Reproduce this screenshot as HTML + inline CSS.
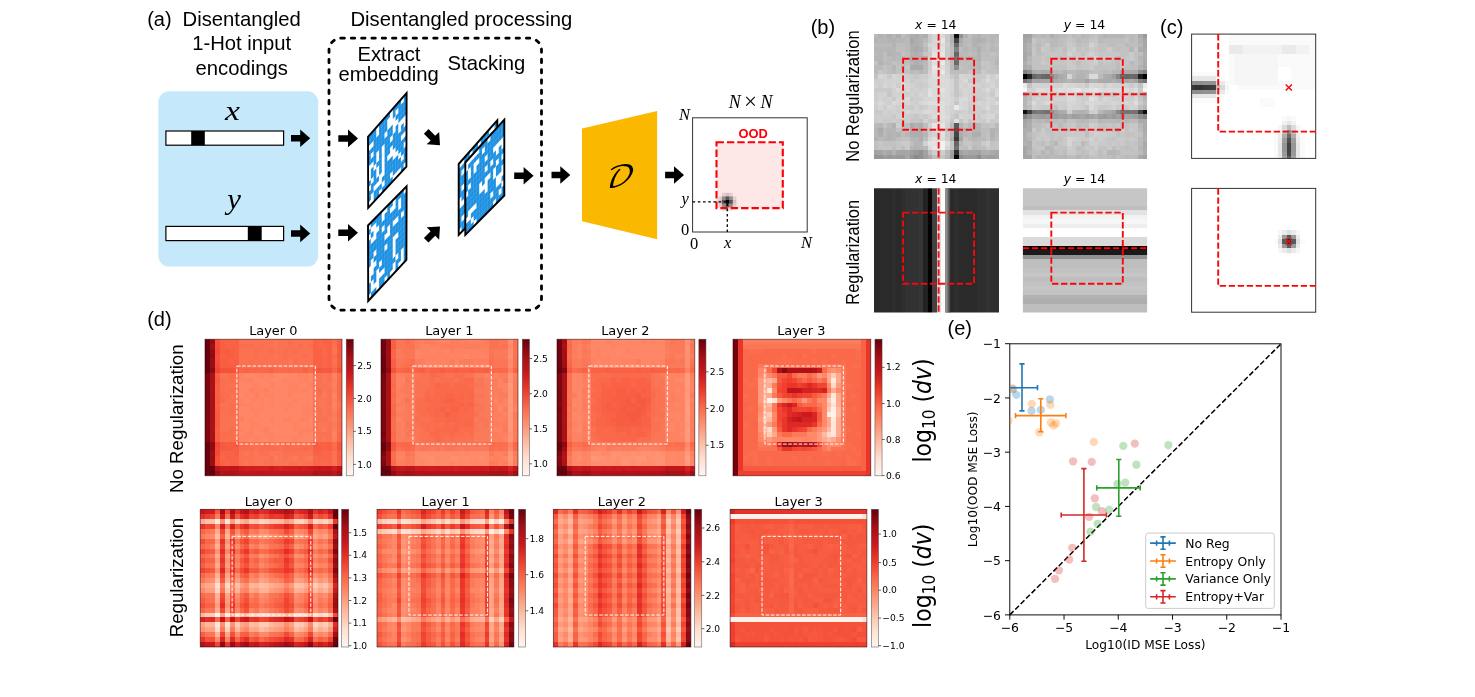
<!DOCTYPE html>
<html lang="en"><head><meta charset="utf-8"><title>Figure</title>
<style>html,body{margin:0;padding:0;background:#fff}svg{display:block}.a{font-family:"Liberation Sans",Arial,sans-serif}.d{font-family:"DejaVu Sans",sans-serif}.t{font-family:"Liberation Serif","Times New Roman",serif}text{fill:#000}</style></head><body>
<svg width="1475" height="697" viewBox="0 0 1475 697">
<rect width="1475" height="697" fill="#fff"/>
<defs><filter id="bl" x="-5%" y="-5%" width="110%" height="110%" color-interpolation-filters="sRGB"><feGaussianBlur stdDeviation="0.5"/></filter></defs>
<text class="a" x="147.2" y="26.1" font-size="20">(a)</text>
<text class="a" x="241.7" y="26.1" font-size="20.25" text-anchor="middle">Disentangled</text>
<text class="a" x="241.7" y="50.2" font-size="20.25" text-anchor="middle">1-Hot input</text>
<text class="a" x="241.7" y="74.6" font-size="20.25" text-anchor="middle">encodings</text>
<text class="a" x="350.5" y="25.8" font-size="20.25">Disentangled processing</text>
<text class="a" x="388.9" y="60.9" font-size="20.25" text-anchor="middle">Extract</text>
<text class="a" x="388.7" y="80.6" font-size="20.25" text-anchor="middle">embedding</text>
<text class="a" x="486.4" y="69.7" font-size="20.25" text-anchor="middle">Stacking</text>
<rect x="158.3" y="91.2" width="159.9" height="175.4" rx="11" fill="#c5e9fb"/>
<rect x="165.9" y="131" width="117.7" height="14.2" fill="#fff" stroke="#000" stroke-width="1.2"/>
<rect x="191.2" y="131" width="13.6" height="14.2" fill="#000"/>
<rect x="165.9" y="226.4" width="117.7" height="14.2" fill="#fff" stroke="#000" stroke-width="1.2"/>
<rect x="247.8" y="226.4" width="13.9" height="14.2" fill="#000"/>
<text class="t" transform="translate(232.4,119.5) scale(1.25,1)" font-size="27" text-anchor="middle" font-style="italic">x</text>
<text class="t" transform="translate(234.2,209) scale(1.08,1)" font-size="28.5" text-anchor="middle" font-style="italic">y</text>
<polygon points="291,135.05 300.2,135.05 300.2,129.5 310.2,138.3 300.2,147.1 300.2,141.55 291,141.55"/>
<polygon points="291,230.15 300.2,230.15 300.2,224.6 310.2,233.4 300.2,242.2 300.2,236.65 291,236.65"/>
<rect x="329" y="38.2" width="212.5" height="272" rx="12" fill="none" stroke="#000" stroke-width="2.8" stroke-linecap="round" stroke-dasharray="3.4 6.9"/>
<polygon points="338.3,135.15 348,135.15 348,129.6 358,138.4 348,147.2 348,141.65 338.3,141.65"/>
<polygon points="338.3,229.55 348,229.55 348,224 358,232.8 348,241.6 348,236.05 338.3,236.05"/>
<g transform="translate(433.1,138.3) rotate(45)">
<polygon points="-9.75,-3.25 -0.25,-3.25 -0.25,-8.8 9.75,0 -0.25,8.8 -0.25,3.25 -9.75,3.25"/>
</g>
<g transform="translate(433.1,233.3) rotate(-45)">
<polygon points="-9.75,-3.25 -0.25,-3.25 -0.25,-8.8 9.75,0 -0.25,8.8 -0.25,3.25 -9.75,3.25"/>
</g>
<polygon points="514.2,172.45 523.6,172.45 523.6,166.9 533.6,175.7 523.6,184.5 523.6,178.95 514.2,178.95"/>
<polygon points="551.5,171.75 560.3,171.75 560.3,166.2 570.3,175 560.3,183.8 560.3,178.25 551.5,178.25"/>
<polygon points="665.1,171.75 674,171.75 674,166.2 684,175 674,183.8 674,178.25 665.1,178.25"/>
<polygon points="368,136.9 406.6,93.1 406.4,166.6 368.2,207.8" fill="#1b8fe2"/>
<path d="M368.03 147.03L370.78 143.93L370.79 149L368.04 152.09zM368.09 167.29L370.83 164.24L370.87 179.47L368.13 182.48zM368.14 187.54L370.88 184.55L370.89 189.62L368.16 192.61zM368.19 202.74L370.92 199.78L370.93 204.86L368.2 207.8zM370.78 143.93L373.53 140.82L373.54 145.92L370.79 149zM370.81 154.08L373.56 151.01L373.57 156.1L370.82 159.16zM370.83 164.24L373.58 161.19L373.59 166.28L370.84 169.31zM370.87 179.47L373.61 176.46L373.62 181.55L370.88 184.55zM370.9 194.7L373.64 191.73L373.66 201.91L370.93 204.86zM373.59 166.28L376.33 163.24L376.34 168.35L373.6 171.37zM373.63 186.64L376.36 183.66L376.37 188.76L373.64 191.73zM376.27 127.51L379.03 124.39L379.04 134.62L376.29 137.72zM376.31 153.03L379.06 149.97L379.07 160.21L376.33 163.24zM376.34 168.35L379.08 165.32L379.09 175.56L376.35 178.56zM376.36 183.66L379.1 180.68L379.1 185.79L376.37 188.76zM379.09 175.56L381.83 172.56L381.83 182.82L379.1 185.79zM379.11 190.91L381.84 187.96L381.84 193.09L379.11 196.03zM381.81 146.91L384.55 143.85L384.57 174.71L381.83 177.69zM381.83 182.82L384.57 179.86L384.57 185L381.84 187.96zM384.55 133.56L387.3 130.47L387.3 135.63L384.55 138.7zM387.3 120.16L390.06 117.04L390.05 127.38L387.3 130.47zM387.3 156.26L390.04 153.23L390.04 158.41L387.3 161.41zM390.06 111.87L392.81 108.74L392.8 124.29L390.05 127.38zM390.05 137.72L392.79 134.66L392.79 139.84L390.04 142.89zM390.04 148.06L392.79 145.03L392.78 155.4L390.04 158.41zM390.03 173.92L392.77 170.95L392.76 176.13L390.03 179.09zM392.81 119.11L395.56 116.01L395.54 131.6L392.79 134.66zM392.78 150.21L395.52 147.19L395.51 157.58L392.77 160.58zM392.76 176.13L395.49 173.17L395.49 178.37L392.76 181.31zM395.57 110.81L398.32 107.7L398.31 112.91L395.56 116.01zM395.55 121.21L398.3 118.12L398.3 123.33L395.55 126.4zM395.52 152.39L398.26 149.38L398.25 154.59L395.51 157.58zM395.49 173.17L398.22 170.22L398.21 175.43L395.49 178.37zM398.3 123.33L401.04 120.25L401.02 130.7L398.28 133.75zM398.25 154.59L400.98 151.59L400.97 156.82L398.24 159.8zM398.22 170.22L400.95 167.26L400.94 172.49L398.21 175.43zM401.09 99.36L403.84 96.23L403.83 101.47L401.08 104.58zM401.04 120.25L403.79 117.18L403.78 122.41L401.03 125.47zM401.01 135.92L403.76 132.89L403.74 138.12L401 141.14zM400.97 156.82L403.71 153.83L403.7 159.07L400.96 162.04zM403.79 117.18L406.54 114.1L406.51 124.6L403.77 127.65zM403.76 132.89L406.5 129.85L406.49 135.1L403.74 138.12zM403.73 143.36L406.47 140.35L406.46 145.6L403.72 148.6zM403.68 164.31L406.41 161.35L406.4 166.6L403.67 169.54z" fill="#fff"/>
<path d="M370.76 133.77L370.93 204.86M368.01 141.96L406.59 98.35M373.51 130.64L373.66 201.91M368.03 147.03L406.57 103.6M376.27 127.51L376.39 198.97M368.04 152.09L406.56 108.85M379.03 124.39L379.11 196.03M368.06 157.16L406.54 114.1M381.79 121.26L381.84 193.09M368.07 162.22L406.53 119.35M384.54 118.13L384.57 190.14M368.09 167.29L406.51 124.6M387.3 115L387.3 187.2M368.1 172.35L406.5 129.85M390.06 111.87L390.03 184.26M368.11 177.41L406.49 135.1M392.81 108.74L392.76 181.31M368.13 182.48L406.47 140.35M395.57 105.61L395.49 178.37M368.14 187.54L406.46 145.6M398.33 102.49L398.21 175.43M368.16 192.61L406.44 150.85M401.09 99.36L400.94 172.49M368.17 197.67L406.43 156.1M403.84 96.23L403.67 169.54M368.19 202.74L406.41 161.35" stroke="#fff" stroke-opacity="0.22" stroke-width="0.5" fill="none"/>
<polygon points="368,136.9 406.6,93.1 406.4,166.6 368.2,207.8" fill="none" stroke="#000" stroke-width="1.9" stroke-linejoin="miter"/>
<polygon points="368,225.5 406.6,186.3 406.4,259.9 368.2,301" fill="#1b8fe2"/>
<path d="M368 225.5L370.76 222.7L370.77 228.08L368.01 230.89zM368.03 236.29L370.78 233.47L370.79 238.85L368.04 241.68zM368.11 268.64L370.86 265.77L370.89 281.91L368.16 284.82zM368.19 295.61L370.92 292.68L370.93 298.06L368.2 301zM370.77 228.08L373.52 225.27L373.53 230.65L370.78 233.47zM370.79 238.85L373.54 236.02L373.56 241.39L370.81 244.23zM370.84 260.38L373.59 257.51L373.62 273.63L370.88 276.53zM370.89 281.91L373.63 279.01L373.65 289.76L370.92 292.68zM373.52 225.27L376.28 222.46L376.3 238.56L373.56 241.39zM373.58 252.14L376.32 249.28L376.33 254.65L373.59 257.51zM373.6 262.89L376.34 260.01L376.34 265.37L373.61 268.26zM373.64 284.38L376.37 281.47L376.38 286.83L373.65 289.76zM376.29 227.83L379.04 225.01L379.05 230.36L376.3 233.19zM376.35 270.74L379.09 267.84L379.11 289.26L376.39 292.19zM379.08 262.49L381.82 259.6L381.83 264.94L379.09 267.84zM379.1 273.19L381.83 270.29L381.83 275.63L379.1 278.55zM381.79 211.5L384.54 208.7L384.55 219.37L381.79 222.19zM381.8 227.53L384.55 224.7L384.55 230.04L381.8 232.88zM381.83 270.29L384.57 267.38L384.57 272.72L381.83 275.63zM384.54 208.7L387.3 205.9L387.3 211.22L384.54 214.03zM384.55 235.37L387.3 232.53L387.3 237.85L384.56 240.71zM384.56 246.04L387.3 243.18L387.3 248.5L384.56 251.38zM384.57 278.05L387.3 275.12L387.3 280.45L384.57 283.39zM387.3 227.2L390.05 224.36L390.04 234.99L387.3 237.85zM390.06 208.42L392.81 205.61L392.81 210.91L390.05 213.73zM390.03 272.2L392.76 269.27L392.76 274.58L390.03 277.51zM392.81 200.3L395.57 197.5L395.56 208.09L392.81 210.91zM392.8 221.52L395.55 218.68L395.54 223.98L392.79 226.83zM392.79 237.44L395.53 234.57L395.5 255.76L392.77 258.66zM392.77 263.97L395.5 261.05L395.49 271.64L392.76 274.58zM395.55 218.68L398.3 215.84L398.29 221.13L395.54 223.98zM395.53 234.57L398.27 231.7L398.26 236.99L395.52 239.87zM395.5 255.76L398.24 252.85L398.23 258.13L395.5 261.05zM398.32 199.99L401.08 197.18L401.06 207.73L398.3 210.56zM398.22 263.42L400.95 260.49L400.94 265.77L398.21 268.71zM401.04 213.01L403.79 210.17L403.78 215.43L401.03 218.28zM400.97 249.94L403.71 247.04L403.67 262.84L400.94 265.77zM403.84 189.1L406.6 186.3L406.59 191.56L403.83 194.37z" fill="#fff"/>
<path d="M370.76 222.7L370.93 298.06M368.01 230.89L406.59 191.56M373.51 219.9L373.66 295.13M368.03 236.29L406.57 196.81M376.27 217.1L376.39 292.19M368.04 241.68L406.56 202.07M379.03 214.3L379.11 289.26M368.06 247.07L406.54 207.33M381.79 211.5L381.84 286.32M368.07 252.46L406.53 212.59M384.54 208.7L384.57 283.39M368.09 257.86L406.51 217.84M387.3 205.9L387.3 280.45M368.1 263.25L406.5 223.1M390.06 203.1L390.03 277.51M368.11 268.64L406.49 228.36M392.81 200.3L392.76 274.58M368.13 274.04L406.47 233.61M395.57 197.5L395.49 271.64M368.14 279.43L406.46 238.87M398.33 194.7L398.21 268.71M368.16 284.82L406.44 244.13M401.09 191.9L400.94 265.77M368.17 290.21L406.43 249.39M403.84 189.1L403.67 262.84M368.19 295.61L406.41 254.64" stroke="#fff" stroke-opacity="0.22" stroke-width="0.5" fill="none"/>
<polygon points="368,225.5 406.6,186.3 406.4,259.9 368.2,301" fill="none" stroke="#000" stroke-width="1.9" stroke-linejoin="miter"/>
<polygon points="458.7,164 497.3,120.3 497.3,195.5 458.7,235" fill="#1b8fe2"/>
<path d="M458.7 164L461.46 160.88L461.46 165.97L458.7 169.07zM458.7 199.5L461.46 196.53L461.46 206.71L458.7 209.64zM458.7 229.93L461.46 227.09L461.46 232.18L458.7 235zM461.46 160.88L464.21 157.76L464.21 162.87L461.46 165.97zM461.46 171.06L464.21 167.99L464.21 173.1L461.46 176.16zM461.46 186.34L464.21 183.33L464.21 188.44L461.46 191.44zM461.46 201.62L464.21 198.67L464.21 203.79L461.46 206.71zM461.46 216.9L464.21 214.01L464.21 219.13L461.46 221.99zM464.21 167.99L466.97 164.91L466.97 170.04L464.21 173.1zM464.21 214.01L466.97 211.13L466.97 216.26L464.21 219.13zM466.97 185.45L469.73 182.46L469.73 187.61L466.97 190.59zM466.97 221.4L469.73 218.56L469.73 223.71L466.97 226.54zM469.73 151.51L472.49 148.39L472.49 153.57L469.73 156.67zM469.73 182.46L472.49 179.46L472.49 189.82L469.73 192.77zM469.73 197.93L472.49 195L472.49 200.18L469.73 203.09zM472.49 153.57L475.24 150.47L475.24 160.87L472.49 163.93zM472.49 179.46L475.24 176.47L475.24 181.67L472.49 184.64zM472.49 195L475.24 192.07L475.24 202.47L472.49 205.36zM475.24 186.87L478 183.92L478 189.14L475.24 192.07zM475.24 197.27L478 194.36L478 199.59L475.24 202.47zM478 142.15L480.76 139.03L480.76 144.27L478 147.37zM478 152.59L480.76 149.51L480.76 154.76L478 157.81zM478 194.36L480.76 191.46L480.76 196.7L478 199.59zM478 210.03L480.76 207.19L480.76 212.43L478 215.25zM480.76 160L483.51 156.96L483.51 167.49L480.76 170.49zM480.76 175.73L483.51 172.76L483.51 183.29L480.76 186.21zM480.76 191.46L483.51 188.55L483.51 193.81L480.76 196.7zM480.76 207.19L483.51 204.34L483.51 209.61L480.76 212.43zM483.51 151.7L486.27 148.64L486.27 159.21L483.51 162.23zM483.51 172.76L486.27 169.79L486.27 175.07L483.51 178.02zM483.51 193.81L486.27 190.93L486.27 196.21L483.51 199.08zM486.27 138.07L489.03 134.97L489.03 150.89L486.27 153.93zM486.27 159.21L489.03 156.2L489.03 166.81L486.27 169.79zM486.27 175.07L489.03 172.12L489.03 188.04L486.27 190.93zM489.03 129.66L491.79 126.54L491.79 131.87L489.03 134.97zM489.03 156.2L491.79 153.19L491.79 163.84L489.03 166.81zM491.79 126.54L494.54 123.42L494.54 144.82L491.79 147.86zM491.79 153.19L494.54 150.17L494.54 155.52L491.79 158.51zM491.79 163.84L494.54 160.87L494.54 166.22L491.79 169.17zM491.79 179.83L494.54 176.92L494.54 182.27L491.79 185.16zM494.54 128.77L497.3 125.67L497.3 136.41L494.54 139.47zM494.54 150.17L497.3 147.16L497.3 152.53L494.54 155.52zM494.54 166.22L497.3 163.27L497.3 168.64L494.54 171.57zM494.54 176.92L497.3 174.01L497.3 179.39L494.54 182.27zM494.54 187.62L497.3 184.76L497.3 190.13L494.54 192.97z" fill="#fff"/>
<path d="M461.46 160.88L461.46 232.18M458.7 169.07L497.3 125.67M464.21 157.76L464.21 229.36M458.7 174.14L497.3 131.04M466.97 154.64L466.97 226.54M458.7 179.21L497.3 136.41M469.73 151.51L469.73 223.71M458.7 184.29L497.3 141.79M472.49 148.39L472.49 220.89M458.7 189.36L497.3 147.16M475.24 145.27L475.24 218.07M458.7 194.43L497.3 152.53M478 142.15L478 215.25M458.7 199.5L497.3 157.9M480.76 139.03L480.76 212.43M458.7 204.57L497.3 163.27M483.51 135.91L483.51 209.61M458.7 209.64L497.3 168.64M486.27 132.79L486.27 206.79M458.7 214.71L497.3 174.01M489.03 129.66L489.03 203.96M458.7 219.79L497.3 179.39M491.79 126.54L491.79 201.14M458.7 224.86L497.3 184.76M494.54 123.42L494.54 198.32M458.7 229.93L497.3 190.13" stroke="#fff" stroke-opacity="0.22" stroke-width="0.5" fill="none"/>
<polygon points="458.7,164 497.3,120.3 497.3,195.5 458.7,235" fill="none" stroke="#000" stroke-width="1.9" stroke-linejoin="miter"/>
<polygon points="465.3,162.5 504.3,119.6 504.3,195.5 465.3,235" fill="#1b8fe2"/>
<path d="M465.3 162.5L468.09 159.44L468.09 169.83L465.3 172.86zM465.3 193.57L468.09 190.61L468.09 195.81L465.3 198.75zM465.3 219.46L468.09 216.59L468.09 221.79L465.3 224.64zM468.09 159.44L470.87 156.37L470.87 161.58L468.09 164.63zM468.09 169.83L470.87 166.8L470.87 177.22L468.09 180.22zM468.09 185.42L470.87 182.44L470.87 187.65L468.09 190.61zM468.09 211.39L470.87 208.5L470.87 218.93L468.09 221.79zM470.87 156.37L473.66 153.31L473.66 158.54L470.87 161.58zM470.87 208.5L473.66 205.61L473.66 210.84L470.87 213.72zM470.87 218.93L473.66 216.07L473.66 221.31L470.87 224.14zM473.66 153.31L476.44 150.24L476.44 155.49L473.66 158.54zM473.66 163.77L476.44 160.74L476.44 171.23L473.66 174.23zM473.66 205.61L476.44 202.72L476.44 207.97L473.66 210.84zM473.66 221.31L476.44 218.47L476.44 223.71L473.66 226.54zM476.44 150.24L479.23 147.18L479.23 152.44L476.44 155.49zM476.44 160.74L479.23 157.71L479.23 162.97L476.44 165.99zM479.23 184.04L482.01 181.09L482.01 191.66L479.23 194.57zM482.01 149.4L484.8 146.35L484.8 151.65L482.01 154.68zM482.01 186.38L484.8 183.45L484.8 188.75L482.01 191.66zM484.8 156.95L487.59 153.94L487.59 159.26L484.8 162.25zM484.8 167.55L487.59 164.57L487.59 169.89L484.8 172.85zM484.8 178.15L487.59 175.21L487.59 191.16L484.8 194.05zM487.59 137.99L490.37 134.92L490.37 140.26L487.59 143.3zM487.59 175.21L490.37 172.26L490.37 177.6L487.59 180.52zM490.37 161.59L493.16 158.62L493.16 163.97L490.37 166.93zM490.37 193.6L493.16 190.73L493.16 196.08L490.37 198.94zM493.16 147.91L495.94 144.9L495.94 150.27L493.16 153.27zM493.16 169.32L495.94 166.38L495.94 177.12L493.16 180.03zM493.16 201.43L495.94 198.59L495.94 203.96L493.16 206.79zM495.94 144.9L498.73 141.89L498.73 152.66L495.94 155.64zM495.94 161.01L498.73 158.05L498.73 163.44L495.94 166.38zM495.94 177.12L498.73 174.21L498.73 184.98L495.94 187.86zM498.73 141.89L501.51 138.88L501.51 144.28L498.73 147.28zM498.73 174.21L501.51 171.3L501.51 182.11L498.73 184.98zM498.73 190.37L501.51 187.51L501.51 192.92L498.73 195.76zM501.51 138.88L504.3 135.86L504.3 146.71L501.51 149.68zM501.51 155.09L504.3 152.13L504.3 157.55L501.51 160.49zM501.51 165.9L504.3 162.97L504.3 173.81L501.51 176.71zM501.51 182.11L504.3 179.24L504.3 184.66L501.51 187.51z" fill="#fff"/>
<path d="M468.09 159.44L468.09 232.18M465.3 167.68L504.3 125.02M470.87 156.37L470.87 229.36M465.3 172.86L504.3 130.44M473.66 153.31L473.66 226.54M465.3 178.04L504.3 135.86M476.44 150.24L476.44 223.71M465.3 183.21L504.3 141.29M479.23 147.18L479.23 220.89M465.3 188.39L504.3 146.71M482.01 144.11L482.01 218.07M465.3 193.57L504.3 152.13M484.8 141.05L484.8 215.25M465.3 198.75L504.3 157.55M487.59 137.99L487.59 212.43M465.3 203.93L504.3 162.97M490.37 134.92L490.37 209.61M465.3 209.11L504.3 168.39M493.16 131.86L493.16 206.79M465.3 214.29L504.3 173.81M495.94 128.79L495.94 203.96M465.3 219.46L504.3 179.24M498.73 125.73L498.73 201.14M465.3 224.64L504.3 184.66M501.51 122.66L501.51 198.32M465.3 229.82L504.3 190.08" stroke="#fff" stroke-opacity="0.22" stroke-width="0.5" fill="none"/>
<polygon points="465.3,162.5 504.3,119.6 504.3,195.5 465.3,235" fill="none" stroke="#000" stroke-width="1.9" stroke-linejoin="miter"/>
<polygon points="582,128.6 657.1,111.1 657.1,239.2 582,221.3" fill="#fab900"/>
<text x="617.5" y="186.5" font-size="30" text-anchor="middle" style="font-family:'DejaVu Math TeX Gyre','DejaVu Serif',serif;font-style:italic">&#x1D49F;</text>
<rect x="692.6" y="117.8" width="114.6" height="114.2" fill="#fff" stroke="#333" stroke-width="1"/>
<rect x="716.5" y="142.3" width="66.3" height="65.8" fill="#fde7e7"/>
<rect x="721.9" y="192.8" width="3.7" height="3.7" fill="#000" fill-opacity="0.10"/>
<rect x="725.5" y="192.8" width="3.7" height="3.7" fill="#000" fill-opacity="0.16"/>
<rect x="729.1" y="192.8" width="3.7" height="3.7" fill="#000" fill-opacity="0.10"/>
<rect x="718.3" y="196.4" width="3.7" height="3.7" fill="#000" fill-opacity="0.10"/>
<rect x="721.9" y="196.4" width="3.7" height="3.7" fill="#000" fill-opacity="0.40"/>
<rect x="725.5" y="196.4" width="3.7" height="3.7" fill="#000" fill-opacity="0.63"/>
<rect x="729.1" y="196.4" width="3.7" height="3.7" fill="#000" fill-opacity="0.40"/>
<rect x="732.7" y="196.4" width="3.7" height="3.7" fill="#000" fill-opacity="0.10"/>
<rect x="718.3" y="200" width="3.7" height="3.7" fill="#000" fill-opacity="0.16"/>
<rect x="721.9" y="200" width="3.7" height="3.7" fill="#000" fill-opacity="0.63"/>
<rect x="725.5" y="200" width="3.7" height="3.7" fill="#000" fill-opacity="1.00"/>
<rect x="729.1" y="200" width="3.7" height="3.7" fill="#000" fill-opacity="0.63"/>
<rect x="732.7" y="200" width="3.7" height="3.7" fill="#000" fill-opacity="0.16"/>
<rect x="718.3" y="203.6" width="3.7" height="3.7" fill="#000" fill-opacity="0.10"/>
<rect x="721.9" y="203.6" width="3.7" height="3.7" fill="#000" fill-opacity="0.40"/>
<rect x="725.5" y="203.6" width="3.7" height="3.7" fill="#000" fill-opacity="0.63"/>
<rect x="729.1" y="203.6" width="3.7" height="3.7" fill="#000" fill-opacity="0.40"/>
<rect x="732.7" y="203.6" width="3.7" height="3.7" fill="#000" fill-opacity="0.10"/>
<rect x="721.9" y="207.2" width="3.7" height="3.7" fill="#000" fill-opacity="0.10"/>
<rect x="725.5" y="207.2" width="3.7" height="3.7" fill="#000" fill-opacity="0.16"/>
<rect x="729.1" y="207.2" width="3.7" height="3.7" fill="#000" fill-opacity="0.10"/>
<rect x="716.5" y="142.3" width="66.3" height="65.8" fill="none" stroke="#fb0007" stroke-width="2.1" stroke-dasharray="7.4 3"/>
<path d="M692.6 201.8H727.3V232" fill="none" stroke="#000" stroke-width="1.3" stroke-dasharray="2.6 2.6"/>
<text class="a" x="753.2" y="137.8" font-size="12.9" text-anchor="middle" font-weight="bold" fill="#fb0007" style="fill:#fb0007">OOD</text>
<text class="t" x="750.6" y="108" font-size="18" text-anchor="middle" font-style="italic">N<tspan font-size="23" font-style="normal" dy="1" dx="3.2">×</tspan><tspan dy="-1" dx="3.6">N</tspan></text>
<text class="t" x="679" y="120.3" font-size="16.5" font-style="italic">N</text>
<text class="t" x="681.5" y="203.5" font-size="16.5" font-style="italic">y</text>
<text class="t" x="681" y="234.6" font-size="16.5">0</text>
<text class="t" x="690" y="248.5" font-size="16.5">0</text>
<text class="t" x="724" y="248.3" font-size="16.5" font-style="italic">x</text>
<text class="t" x="801" y="248.3" font-size="16.5" font-style="italic">N</text>
<text class="a" x="810.7" y="33.8" font-size="20">(b)</text>
<text class="a" x="1160" y="33.8" font-size="20">(c)</text>
<text class="a" transform="translate(859,96) rotate(-90) scale(1.02,1.09)" font-size="16.2" text-anchor="middle">No Regularization</text>
<text class="a" transform="translate(859,252.3) rotate(-90) scale(1.012,1.09)" font-size="16.2" text-anchor="middle">Regularization</text>
<clipPath id="hc1"><rect x="874" y="34" width="125" height="125"/></clipPath><g clip-path="url(#hc1)"><g filter="url(#bl)"><g transform="translate(869.54,29.54) scale(4.4643,4.4643)" shape-rendering="crispEdges"><path fill="#bababa" d="M0 0h2v1h-2zM25 0h2v1h-2zM0 1h2v1h-2zM25 1h2v1h-2zM8 2h1v1h-1zM12 2h1v1h-1zM21 2h2v1h-2zM26 2h1v1h-1zM28 2h2v1h-2zM0 3h5v1h-5zM8 3h1v1h-1zM18 3h1v1h-1zM21 3h1v1h-1zM25 3h1v1h-1zM27 3h1v1h-1zM8 4h1v1h-1zM12 4h1v1h-1zM22 4h1v1h-1zM25 4h1v1h-1zM28 4h2v1h-2zM0 5h2v1h-2zM20 5h2v1h-2zM23 5h1v1h-1zM4 6h1v1h-1zM6 6h2v1h-2zM21 6h1v1h-1zM28 6h2v1h-2zM3 7h2v1h-2zM12 7h1v1h-1zM18 7h1v1h-1zM23 7h1v1h-1zM0 8h3v1h-3zM7 8h1v1h-1zM12 8h1v1h-1zM18 8h1v1h-1zM22 8h2v1h-2zM0 9h2v1h-2zM5 9h1v1h-1zM9 9h1v1h-1zM24 9h1v1h-1zM0 21h2v1h-2zM4 21h1v1h-1zM18 21h1v1h-1zM22 21h1v1h-1zM28 21h2v1h-2zM3 22h1v1h-1zM7 22h1v1h-1zM3 23h1v1h-1zM22 23h1v1h-1zM28 23h2v1h-2zM2 24h1v1h-1zM22 24h1v1h-1zM24 24h2v1h-2zM20 25h1v1h-1zM12 26h1v1h-1zM23 26h1v1h-1zM17 27h1v1h-1z"/><path fill="#b2b2b2" d="M2 0h1v1h-1zM11 0h1v1h-1zM18 0h1v1h-1zM21 0h1v1h-1zM24 0h1v1h-1zM2 1h1v1h-1zM11 1h1v1h-1zM18 1h1v1h-1zM21 1h1v1h-1zM24 1h1v1h-1zM0 2h2v1h-2zM4 2h2v1h-2zM11 2h1v1h-1zM18 2h1v1h-1zM23 2h1v1h-1zM25 2h1v1h-1zM5 3h1v1h-1zM11 3h1v1h-1zM20 3h1v1h-1zM23 3h1v1h-1zM4 5h1v1h-1zM9 5h1v1h-1zM24 5h1v1h-1zM10 6h1v1h-1zM12 6h1v1h-1zM24 6h1v1h-1zM2 7h1v1h-1zM11 7h1v1h-1zM5 21h1v1h-1zM10 21h1v1h-1zM23 21h1v1h-1zM9 22h2v1h-2zM27 22h1v1h-1zM4 23h1v1h-1zM6 23h1v1h-1zM27 23h1v1h-1zM0 24h2v1h-2zM4 24h1v1h-1zM10 26h1v1h-1zM5 27h1v1h-1z"/><path fill="#b6b6b6" d="M3 0h1v1h-1zM5 0h1v1h-1zM8 0h1v1h-1zM23 0h1v1h-1zM27 0h3v1h-3zM3 1h1v1h-1zM5 1h1v1h-1zM8 1h1v1h-1zM23 1h1v1h-1zM27 1h3v1h-3zM2 2h2v1h-2zM6 2h2v1h-2zM27 2h1v1h-1zM24 3h1v1h-1zM0 4h6v1h-6zM21 4h1v1h-1zM23 4h1v1h-1zM27 4h1v1h-1zM2 5h1v1h-1zM5 5h2v1h-2zM11 5h1v1h-1zM0 6h3v1h-3zM5 6h1v1h-1zM18 6h1v1h-1zM20 6h1v1h-1zM22 6h2v1h-2zM9 7h1v1h-1zM24 7h1v1h-1zM28 7h2v1h-2zM5 8h1v1h-1zM24 8h1v1h-1zM11 9h1v1h-1zM2 21h1v1h-1zM20 21h1v1h-1zM24 21h1v1h-1zM0 22h2v1h-2zM4 22h2v1h-2zM18 22h1v1h-1zM21 22h1v1h-1zM23 22h2v1h-2zM28 22h2v1h-2zM0 23h2v1h-2zM5 23h1v1h-1zM8 23h1v1h-1zM12 23h1v1h-1zM18 23h1v1h-1zM21 23h1v1h-1zM3 24h1v1h-1zM5 24h1v1h-1zM9 24h2v1h-2zM23 24h1v1h-1zM27 24h1v1h-1zM10 25h2v1h-2zM9 26h1v1h-1zM11 26h1v1h-1zM17 28h1v1h-1zM17 29h1v1h-1z"/><path fill="#aeaeae" d="M4 0h1v1h-1zM6 0h1v1h-1zM9 0h1v1h-1zM12 0h1v1h-1zM4 1h1v1h-1zM6 1h1v1h-1zM9 1h1v1h-1zM12 1h1v1h-1zM10 2h1v1h-1zM24 2h1v1h-1zM9 3h2v1h-2zM9 4h1v1h-1zM11 4h1v1h-1zM24 4h1v1h-1zM10 5h1v1h-1zM9 6h1v1h-1zM11 6h1v1h-1zM10 7h1v1h-1zM11 21h1v1h-1zM20 22h1v1h-1zM2 23h1v1h-1zM9 23h3v1h-3zM20 23h1v1h-1zM23 23h2v1h-2zM11 24h1v1h-1zM18 24h1v1h-1zM3 27h1v1h-1zM25 27h2v1h-2z"/><path fill="#bebebe" d="M7 0h1v1h-1zM22 0h1v1h-1zM7 1h1v1h-1zM22 1h1v1h-1zM6 3h2v1h-2zM22 3h1v1h-1zM26 3h1v1h-1zM28 3h2v1h-2zM6 4h2v1h-2zM18 4h1v1h-1zM20 4h1v1h-1zM26 4h1v1h-1zM3 5h1v1h-1zM8 5h1v1h-1zM18 5h1v1h-1zM22 5h1v1h-1zM25 5h2v1h-2zM28 5h2v1h-2zM3 6h1v1h-1zM8 6h1v1h-1zM25 6h3v1h-3zM6 7h3v1h-3zM20 7h3v1h-3zM27 7h1v1h-1zM4 8h1v1h-1zM21 8h1v1h-1zM28 8h2v1h-2zM4 9h1v1h-1zM10 9h1v1h-1zM12 9h1v1h-1zM18 9h4v1h-4zM23 9h1v1h-1zM7 21h2v1h-2zM12 21h1v1h-1zM25 22h2v1h-2zM7 23h1v1h-1zM25 23h1v1h-1zM6 24h1v1h-1zM12 24h1v1h-1zM28 24h2v1h-2zM9 25h1v1h-1zM23 25h2v1h-2zM0 26h2v1h-2zM5 26h1v1h-1zM7 26h1v1h-1zM21 26h1v1h-1zM24 26h2v1h-2zM13 27h1v1h-1zM14 28h2v1h-2zM14 29h2v1h-2z"/><path fill="#aaaaaa" d="M10 0h1v1h-1zM10 1h1v1h-1zM20 2h1v1h-1zM10 4h1v1h-1zM9 8h3v1h-3zM9 21h1v1h-1zM2 22h1v1h-1zM11 22h1v1h-1zM21 27h1v1h-1zM27 27h1v1h-1zM13 28h1v1h-1zM13 29h1v1h-1z"/><path fill="#cacaca" d="M13 0h1v1h-1zM17 0h1v1h-1zM13 1h1v1h-1zM17 1h1v1h-1zM13 2h1v1h-1zM17 2h1v1h-1zM17 4h1v1h-1zM13 5h1v1h-1zM17 5h1v1h-1zM17 6h1v1h-1zM25 9h1v1h-1zM4 10h1v1h-1zM9 10h1v1h-1zM18 10h1v1h-1zM23 10h3v1h-3zM9 11h1v1h-1zM22 11h3v1h-3zM11 12h1v1h-1zM0 13h5v1h-5zM27 14h1v1h-1zM5 15h1v1h-1zM9 15h1v1h-1zM24 15h1v1h-1zM28 15h2v1h-2zM9 17h1v1h-1zM11 17h1v1h-1zM0 18h3v1h-3zM22 18h2v1h-2zM25 18h1v1h-1zM5 19h1v1h-1zM9 19h1v1h-1zM12 19h1v1h-1zM24 19h1v1h-1zM28 19h2v1h-2zM0 20h2v1h-2zM3 20h2v1h-2zM6 20h1v1h-1zM13 20h1v1h-1zM23 20h1v1h-1zM25 20h1v1h-1zM27 20h1v1h-1zM13 22h1v1h-1zM17 23h1v1h-1zM7 25h2v1h-2zM25 25h1v1h-1zM8 26h1v1h-1zM22 26h1v1h-1zM26 26h1v1h-1z"/><path fill="#d6d6d6" d="M14 0h1v1h-1zM14 1h1v1h-1zM14 2h1v1h-1zM13 3h2v1h-2zM15 4h1v1h-1zM2 10h1v1h-1zM5 10h1v1h-1zM13 10h1v1h-1zM17 10h1v1h-1zM20 10h1v1h-1zM26 10h1v1h-1zM28 10h2v1h-2zM18 11h1v1h-1zM3 12h1v1h-1zM5 12h1v1h-1zM8 12h1v1h-1zM13 12h1v1h-1zM18 12h1v1h-1zM20 12h1v1h-1zM22 12h1v1h-1zM27 12h1v1h-1zM8 13h1v1h-1zM18 13h1v1h-1zM21 13h1v1h-1zM28 13h2v1h-2zM11 14h1v1h-1zM21 14h1v1h-1zM6 15h1v1h-1zM12 15h2v1h-2zM18 15h1v1h-1zM26 15h1v1h-1zM6 16h1v1h-1zM8 16h1v1h-1zM11 16h1v1h-1zM18 16h1v1h-1zM21 16h1v1h-1zM24 16h1v1h-1zM26 16h1v1h-1zM2 17h1v1h-1zM4 17h1v1h-1zM7 17h1v1h-1zM13 17h2v1h-2zM17 17h1v1h-1zM21 17h1v1h-1zM8 18h1v1h-1zM14 18h1v1h-1zM17 18h1v1h-1zM7 19h1v1h-1zM20 19h1v1h-1zM26 19h2v1h-2zM15 20h1v1h-1zM17 20h1v1h-1zM26 20h1v1h-1zM15 22h1v1h-1zM13 24h1v1h-1zM17 26h1v1h-1z"/><path fill="#dadada" d="M15 0h2v1h-2zM15 1h2v1h-2zM14 4h1v1h-1zM15 6h1v1h-1zM15 8h1v1h-1zM15 9h1v1h-1zM15 10h2v1h-2zM13 11h5v1h-5zM21 11h1v1h-1zM26 11h1v1h-1zM14 12h4v1h-4zM6 13h1v1h-1zM14 13h1v1h-1zM17 13h1v1h-1zM26 13h1v1h-1zM14 14h1v1h-1zM17 14h1v1h-1zM28 14h2v1h-2zM8 15h1v1h-1zM14 15h1v1h-1zM16 15h2v1h-2zM20 15h2v1h-2zM2 16h1v1h-1zM5 16h1v1h-1zM12 16h1v1h-1zM17 16h1v1h-1zM20 16h1v1h-1zM28 16h2v1h-2zM20 17h1v1h-1zM26 17h1v1h-1zM12 18h2v1h-2zM15 18h1v1h-1zM14 19h2v1h-2zM17 19h1v1h-1zM15 24h1v1h-1zM13 26h1v1h-1z"/><path fill="#0e0e0e" d="M19 0h1v1h-1zM19 1h1v1h-1z"/><path fill="#929292" d="M20 0h1v1h-1zM20 1h1v1h-1zM11 27h1v1h-1zM11 28h1v1h-1zM11 29h1v1h-1z"/><path fill="#a6a6a6" d="M9 2h1v1h-1zM20 24h1v1h-1zM2 27h1v1h-1zM4 27h1v1h-1zM6 27h3v1h-3zM22 27h2v1h-2zM28 27h2v1h-2zM8 28h1v1h-1zM8 29h1v1h-1z"/><path fill="#d2d2d2" d="M15 2h1v1h-1zM15 3h1v1h-1zM13 6h1v1h-1zM17 8h1v1h-1zM13 9h1v1h-1zM17 9h1v1h-1zM3 10h1v1h-1zM6 10h2v1h-2zM21 10h2v1h-2zM3 11h6v1h-6zM12 11h1v1h-1zM20 11h1v1h-1zM25 11h1v1h-1zM27 11h1v1h-1zM0 12h2v1h-2zM4 12h1v1h-1zM9 12h1v1h-1zM21 12h1v1h-1zM23 12h2v1h-2zM26 12h1v1h-1zM5 13h1v1h-1zM7 13h1v1h-1zM10 13h1v1h-1zM12 13h1v1h-1zM20 13h1v1h-1zM22 13h2v1h-2zM25 13h1v1h-1zM2 14h2v1h-2zM5 14h3v1h-3zM9 14h1v1h-1zM12 14h1v1h-1zM15 14h1v1h-1zM18 14h1v1h-1zM22 14h1v1h-1zM26 14h1v1h-1zM2 15h1v1h-1zM4 15h1v1h-1zM7 15h1v1h-1zM15 15h1v1h-1zM22 15h1v1h-1zM27 15h1v1h-1zM0 16h2v1h-2zM3 16h1v1h-1zM7 16h1v1h-1zM9 16h1v1h-1zM25 16h1v1h-1zM27 16h1v1h-1zM5 17h1v1h-1zM10 17h1v1h-1zM18 17h1v1h-1zM23 17h1v1h-1zM25 17h1v1h-1zM3 18h1v1h-1zM5 18h1v1h-1zM9 18h3v1h-3zM18 18h1v1h-1zM21 18h1v1h-1zM26 18h1v1h-1zM28 18h2v1h-2zM6 19h1v1h-1zM13 19h1v1h-1zM21 19h3v1h-3zM25 19h1v1h-1zM12 20h1v1h-1zM21 20h1v1h-1zM13 21h1v1h-1zM17 21h1v1h-1zM14 23h2v1h-2zM12 25h1v1h-1zM26 25h1v1h-1z"/><path fill="#e6e6e6" d="M16 2h1v1h-1zM16 5h1v1h-1zM14 6h1v1h-1zM14 8h1v1h-1zM14 21h1v1h-1zM16 21h1v1h-1zM15 25h1v1h-1zM14 26h2v1h-2z"/><path fill="#424242" d="M19 2h1v1h-1z"/><path fill="#c2c2c2" d="M12 3h1v1h-1zM7 5h1v1h-1zM27 5h1v1h-1zM0 7h2v1h-2zM5 7h1v1h-1zM3 8h1v1h-1zM6 8h1v1h-1zM20 8h1v1h-1zM25 8h1v1h-1zM27 8h1v1h-1zM3 9h1v1h-1zM6 9h3v1h-3zM26 9h4v1h-4zM0 10h2v1h-2zM19 10h1v1h-1zM11 20h1v1h-1zM3 21h1v1h-1zM21 21h1v1h-1zM25 21h2v1h-2zM6 22h1v1h-1zM8 22h1v1h-1zM12 22h1v1h-1zM22 22h1v1h-1zM26 23h1v1h-1zM7 24h2v1h-2zM21 24h1v1h-1zM26 24h1v1h-1zM0 25h2v1h-2zM3 25h3v1h-3zM27 25h1v1h-1zM20 26h1v1h-1zM15 27h1v1h-1z"/><path fill="#dedede" d="M16 3h1v1h-1zM14 7h2v1h-2zM16 8h1v1h-1zM14 10h1v1h-1zM7 12h1v1h-1zM13 13h1v1h-1zM16 14h1v1h-1zM13 16h2v1h-2zM16 16h1v1h-1zM15 17h2v1h-2zM16 18h1v1h-1zM16 19h1v1h-1zM16 20h1v1h-1zM15 21h1v1h-1zM14 22h1v1h-1zM16 22h1v1h-1zM14 24h1v1h-1zM16 24h1v1h-1zM17 25h1v1h-1z"/><path fill="#cecece" d="M17 3h1v1h-1zM13 4h1v1h-1zM13 7h1v1h-1zM17 7h1v1h-1zM13 8h1v1h-1zM8 10h1v1h-1zM11 10h2v1h-2zM27 10h1v1h-1zM0 11h3v1h-3zM10 11h2v1h-2zM28 11h2v1h-2zM2 12h1v1h-1zM6 12h1v1h-1zM10 12h1v1h-1zM12 12h1v1h-1zM25 12h1v1h-1zM28 12h2v1h-2zM9 13h1v1h-1zM11 13h1v1h-1zM24 13h1v1h-1zM27 13h1v1h-1zM0 14h2v1h-2zM8 14h1v1h-1zM10 14h1v1h-1zM20 14h1v1h-1zM23 14h3v1h-3zM0 15h2v1h-2zM3 15h1v1h-1zM10 15h2v1h-2zM19 15h1v1h-1zM25 15h1v1h-1zM4 16h1v1h-1zM10 16h1v1h-1zM22 16h2v1h-2zM0 17h2v1h-2zM3 17h1v1h-1zM6 17h1v1h-1zM8 17h1v1h-1zM12 17h1v1h-1zM22 17h1v1h-1zM24 17h1v1h-1zM27 17h3v1h-3zM4 18h1v1h-1zM6 18h2v1h-2zM19 18h2v1h-2zM24 18h1v1h-1zM27 18h1v1h-1zM0 19h5v1h-5zM8 19h1v1h-1zM11 19h1v1h-1zM18 19h1v1h-1zM2 20h1v1h-1zM5 20h1v1h-1zM8 20h1v1h-1zM14 20h1v1h-1zM24 20h1v1h-1zM28 20h2v1h-2zM6 21h1v1h-1zM13 23h1v1h-1zM17 24h1v1h-1zM14 27h1v1h-1zM16 27h1v1h-1z"/><path fill="#6a6a6a" d="M19 3h1v1h-1zM19 7h1v1h-1z"/><path fill="#e2e2e2" d="M16 4h1v1h-1zM14 5h2v1h-2zM16 6h1v1h-1zM14 9h1v1h-1zM15 13h2v1h-2zM13 14h1v1h-1zM15 16h1v1h-1zM19 20h1v1h-1zM16 23h1v1h-1zM13 25h2v1h-2z"/><path fill="#828282" d="M19 4h1v1h-1z"/><path fill="#c6c6c6" d="M12 5h1v1h-1zM25 7h2v1h-2zM8 8h1v1h-1zM26 8h1v1h-1zM2 9h1v1h-1zM22 9h1v1h-1zM10 10h1v1h-1zM19 11h1v1h-1zM19 12h1v1h-1zM19 13h1v1h-1zM4 14h1v1h-1zM19 14h1v1h-1zM23 15h1v1h-1zM19 16h1v1h-1zM10 19h1v1h-1zM19 19h1v1h-1zM7 20h1v1h-1zM9 20h2v1h-2zM18 20h1v1h-1zM20 20h1v1h-1zM22 20h1v1h-1zM27 21h1v1h-1zM17 22h1v1h-1zM2 25h1v1h-1zM6 25h1v1h-1zM18 25h1v1h-1zM21 25h2v1h-2zM28 25h2v1h-2zM2 26h3v1h-3zM6 26h1v1h-1zM18 26h1v1h-1zM27 26h3v1h-3zM16 28h1v1h-1zM16 29h1v1h-1z"/><path fill="#666666" d="M19 5h1v1h-1zM19 25h1v1h-1z"/><path fill="#727272" d="M19 6h1v1h-1zM19 26h1v1h-1z"/><path fill="#eaeaea" d="M16 7h1v1h-1zM16 9h1v1h-1zM19 17h1v1h-1z"/><path fill="#8e8e8e" d="M19 8h1v1h-1zM20 28h1v1h-1zM24 28h1v1h-1zM20 29h1v1h-1zM24 29h1v1h-1z"/><path fill="#5a5a5a" d="M19 21h1v1h-1z"/><path fill="#4e4e4e" d="M19 22h1v1h-1z"/><path fill="#464646" d="M19 23h1v1h-1z"/><path fill="#3a3a3a" d="M19 24h1v1h-1z"/><path fill="#f2f2f2" d="M16 25h1v1h-1zM16 26h1v1h-1z"/><path fill="#a2a2a2" d="M0 27h2v1h-2zM12 27h1v1h-1zM18 27h1v1h-1zM20 27h1v1h-1zM24 27h1v1h-1zM25 28h1v1h-1zM28 28h2v1h-2zM25 29h1v1h-1zM28 29h2v1h-2z"/><path fill="#9e9e9e" d="M9 27h1v1h-1zM3 28h1v1h-1zM5 28h1v1h-1zM12 28h1v1h-1zM18 28h1v1h-1zM26 28h2v1h-2zM3 29h1v1h-1zM5 29h1v1h-1zM12 29h1v1h-1zM18 29h1v1h-1zM26 29h2v1h-2z"/><path fill="#9a9a9a" d="M10 27h1v1h-1zM4 28h1v1h-1zM6 28h2v1h-2zM21 28h3v1h-3zM4 29h1v1h-1zM6 29h2v1h-2zM21 29h3v1h-3z"/><path fill="#323232" d="M19 27h1v1h-1z"/><path fill="#969696" d="M0 28h3v1h-3zM9 28h1v1h-1zM0 29h3v1h-3zM9 29h1v1h-1z"/><path fill="#8a8a8a" d="M10 28h1v1h-1zM10 29h1v1h-1z"/><path fill="#060606" d="M19 28h1v1h-1zM19 29h1v1h-1z"/></g></g></g>
<clipPath id="hc2"><rect x="1022.9" y="34" width="124.2" height="125"/></clipPath><g clip-path="url(#hc2)"><g filter="url(#bl)"><g transform="translate(1018.46,29.54) scale(4.4357,4.4643)" shape-rendering="crispEdges"><path fill="#a2a2a2" d="M0 0h3v1h-3zM0 1h3v1h-3zM4 11h1v1h-1zM15 11h1v1h-1zM26 11h1v1h-1zM8 18h1v1h-1zM21 18h1v1h-1zM3 19h1v1h-1zM9 19h1v1h-1zM13 19h1v1h-1zM16 19h1v1h-1zM20 19h1v1h-1zM22 19h1v1h-1zM25 19h1v1h-1zM0 20h2v1h-2zM28 28h2v1h-2zM28 29h2v1h-2z"/><path fill="#b6b6b6" d="M3 0h1v1h-1zM5 0h1v1h-1zM8 0h1v1h-1zM14 0h1v1h-1zM20 0h4v1h-4zM3 1h1v1h-1zM5 1h1v1h-1zM8 1h1v1h-1zM14 1h1v1h-1zM20 1h4v1h-4zM27 3h1v1h-1zM25 4h1v1h-1zM2 6h1v1h-1zM27 6h1v1h-1zM8 9h1v1h-1zM13 9h3v1h-3zM21 9h2v1h-2zM11 11h1v1h-1zM0 15h2v1h-2zM28 15h2v1h-2zM0 16h2v1h-2zM0 17h2v1h-2zM28 17h2v1h-2zM12 18h1v1h-1zM15 18h1v1h-1zM18 18h1v1h-1zM4 20h1v1h-1zM10 20h1v1h-1zM14 20h1v1h-1zM18 20h1v1h-1zM22 20h1v1h-1zM24 20h1v1h-1zM27 21h1v1h-1zM2 24h1v1h-1zM8 25h1v1h-1zM6 26h1v1h-1zM27 26h1v1h-1zM5 27h1v1h-1zM7 27h1v1h-1zM20 27h2v1h-2zM4 28h1v1h-1zM6 28h1v1h-1zM10 28h1v1h-1zM13 28h1v1h-1zM4 29h1v1h-1zM6 29h1v1h-1zM10 29h1v1h-1zM13 29h1v1h-1z"/><path fill="#bababa" d="M4 0h1v1h-1zM6 0h1v1h-1zM9 0h2v1h-2zM12 0h1v1h-1zM15 0h1v1h-1zM18 0h1v1h-1zM25 0h1v1h-1zM4 1h1v1h-1zM6 1h1v1h-1zM9 1h2v1h-2zM12 1h1v1h-1zM15 1h1v1h-1zM18 1h1v1h-1zM25 1h1v1h-1zM7 2h2v1h-2zM13 2h1v1h-1zM18 2h1v1h-1zM25 2h1v1h-1zM4 3h1v1h-1zM7 3h2v1h-2zM24 3h1v1h-1zM4 4h1v1h-1zM2 7h1v1h-1zM25 7h1v1h-1zM27 7h1v1h-1zM22 8h1v1h-1zM7 9h1v1h-1zM9 9h1v1h-1zM11 9h2v1h-2zM19 9h1v1h-1zM12 10h1v1h-1zM15 10h1v1h-1zM18 10h1v1h-1zM3 20h1v1h-1zM5 20h1v1h-1zM7 20h2v1h-2zM13 20h1v1h-1zM15 20h1v1h-1zM19 20h3v1h-3zM23 20h1v1h-1zM25 20h2v1h-2zM9 21h1v1h-1zM22 22h1v1h-1zM27 22h1v1h-1zM2 23h1v1h-1zM27 24h1v1h-1zM14 25h1v1h-1zM27 25h1v1h-1zM7 26h1v1h-1zM22 27h1v1h-1zM27 27h1v1h-1zM5 28h1v1h-1zM7 28h3v1h-3zM15 28h1v1h-1zM21 28h1v1h-1zM24 28h1v1h-1zM26 28h1v1h-1zM5 29h1v1h-1zM7 29h3v1h-3zM15 29h1v1h-1zM21 29h1v1h-1zM24 29h1v1h-1zM26 29h1v1h-1z"/><path fill="#aeaeae" d="M7 0h1v1h-1zM7 1h1v1h-1zM27 4h1v1h-1zM2 5h1v1h-1zM28 5h2v1h-2zM28 6h2v1h-2zM0 7h2v1h-2zM2 8h1v1h-1zM4 9h1v1h-1zM10 10h1v1h-1zM19 10h1v1h-1zM9 11h1v1h-1zM12 11h3v1h-3zM21 11h1v1h-1zM0 14h2v1h-2zM10 18h1v1h-1zM19 18h1v1h-1zM2 21h1v1h-1zM0 22h3v1h-3zM0 23h2v1h-2zM28 23h2v1h-2zM0 24h2v1h-2zM2 25h1v1h-1zM2 26h1v1h-1zM28 27h2v1h-2z"/><path fill="#c2c2c2" d="M11 0h1v1h-1zM17 0h1v1h-1zM11 1h1v1h-1zM17 1h1v1h-1zM5 2h1v1h-1zM10 2h1v1h-1zM12 2h1v1h-1zM24 2h1v1h-1zM3 3h1v1h-1zM5 3h1v1h-1zM10 3h1v1h-1zM14 3h2v1h-2zM18 3h2v1h-2zM22 3h2v1h-2zM8 4h1v1h-1zM13 4h1v1h-1zM15 4h1v1h-1zM18 4h2v1h-2zM21 4h1v1h-1zM23 4h2v1h-2zM5 5h1v1h-1zM10 5h1v1h-1zM14 5h1v1h-1zM23 5h2v1h-2zM26 5h1v1h-1zM3 6h2v1h-2zM6 6h1v1h-1zM9 6h1v1h-1zM23 6h1v1h-1zM26 6h1v1h-1zM3 7h2v1h-2zM18 7h1v1h-1zM21 7h1v1h-1zM26 7h1v1h-1zM3 8h8v1h-8zM13 8h1v1h-1zM17 8h5v1h-5zM24 8h1v1h-1zM17 9h1v1h-1zM2 12h1v1h-1zM27 12h1v1h-1zM8 17h1v1h-1zM11 20h2v1h-2zM16 20h2v1h-2zM5 21h1v1h-1zM8 21h1v1h-1zM10 21h1v1h-1zM14 21h1v1h-1zM18 21h2v1h-2zM21 21h1v1h-1zM23 21h2v1h-2zM6 22h1v1h-1zM8 22h1v1h-1zM10 22h1v1h-1zM13 22h3v1h-3zM19 22h1v1h-1zM21 22h1v1h-1zM24 22h1v1h-1zM3 23h1v1h-1zM7 23h1v1h-1zM22 23h1v1h-1zM24 23h2v1h-2zM27 23h1v1h-1zM3 24h1v1h-1zM7 24h1v1h-1zM9 24h1v1h-1zM21 24h1v1h-1zM4 25h1v1h-1zM15 25h1v1h-1zM24 25h1v1h-1zM26 25h1v1h-1zM3 26h1v1h-1zM9 26h2v1h-2zM14 26h1v1h-1zM18 26h2v1h-2zM23 26h1v1h-1zM25 26h1v1h-1zM4 27h1v1h-1zM9 27h1v1h-1zM13 27h1v1h-1zM15 27h1v1h-1zM23 27h4v1h-4zM16 28h2v1h-2zM19 28h1v1h-1zM22 28h1v1h-1zM16 29h2v1h-2zM19 29h1v1h-1zM22 29h1v1h-1z"/><path fill="#bebebe" d="M13 0h1v1h-1zM16 0h1v1h-1zM24 0h1v1h-1zM26 0h1v1h-1zM13 1h1v1h-1zM16 1h1v1h-1zM24 1h1v1h-1zM26 1h1v1h-1zM4 2h1v1h-1zM6 2h1v1h-1zM9 2h1v1h-1zM14 2h2v1h-2zM19 2h5v1h-5zM26 2h1v1h-1zM9 3h1v1h-1zM13 3h1v1h-1zM20 3h2v1h-2zM25 3h2v1h-2zM7 4h1v1h-1zM10 4h1v1h-1zM22 4h1v1h-1zM4 5h1v1h-1zM27 5h1v1h-1zM22 6h1v1h-1zM13 7h1v1h-1zM22 7h1v1h-1zM25 8h2v1h-2zM16 9h1v1h-1zM18 9h1v1h-1zM20 9h1v1h-1zM2 14h1v1h-1zM27 14h1v1h-1zM2 15h1v1h-1zM28 16h2v1h-2zM2 17h1v1h-1zM27 17h1v1h-1zM9 20h1v1h-1zM3 21h2v1h-2zM13 21h1v1h-1zM15 21h1v1h-1zM4 22h1v1h-1zM15 23h1v1h-1zM5 25h1v1h-1zM7 25h1v1h-1zM13 26h1v1h-1zM21 26h1v1h-1zM24 26h1v1h-1zM3 27h1v1h-1zM6 27h1v1h-1zM8 27h1v1h-1zM10 27h1v1h-1zM14 27h1v1h-1zM18 27h1v1h-1zM3 28h1v1h-1zM11 28h2v1h-2zM14 28h1v1h-1zM18 28h1v1h-1zM20 28h1v1h-1zM23 28h1v1h-1zM25 28h1v1h-1zM3 29h1v1h-1zM11 29h2v1h-2zM14 29h1v1h-1zM18 29h1v1h-1zM20 29h1v1h-1zM23 29h1v1h-1zM25 29h1v1h-1z"/><path fill="#b2b2b2" d="M19 0h1v1h-1zM19 1h1v1h-1zM27 2h1v1h-1zM2 3h1v1h-1zM2 4h1v1h-1zM27 8h1v1h-1zM10 9h1v1h-1zM13 10h2v1h-2zM10 11h1v1h-1zM16 11h2v1h-2zM28 14h2v1h-2zM13 18h2v1h-2zM6 20h1v1h-1zM28 24h2v1h-2zM0 25h2v1h-2zM2 27h1v1h-1z"/><path fill="#aaaaaa" d="M27 0h1v1h-1zM27 1h1v1h-1zM2 2h1v1h-1zM0 3h2v1h-2zM0 4h2v1h-2zM28 4h2v1h-2zM28 7h2v1h-2zM0 8h2v1h-2zM28 8h2v1h-2zM3 9h1v1h-1zM5 9h2v1h-2zM23 9h4v1h-4zM9 10h1v1h-1zM20 10h1v1h-1zM8 11h1v1h-1zM18 11h3v1h-3zM23 11h1v1h-1zM25 11h1v1h-1zM9 18h1v1h-1zM20 18h1v1h-1zM17 19h1v1h-1zM2 20h1v1h-1zM27 20h3v1h-3zM28 21h2v1h-2zM28 22h2v1h-2zM28 25h2v1h-2zM28 26h2v1h-2zM27 28h1v1h-1zM27 29h1v1h-1z"/><path fill="#9a9a9a" d="M28 0h2v1h-2zM28 1h2v1h-2zM5 19h1v1h-1zM8 19h1v1h-1zM19 19h1v1h-1zM21 19h1v1h-1zM23 19h1v1h-1z"/><path fill="#a6a6a6" d="M0 2h2v1h-2zM28 2h2v1h-2zM28 3h2v1h-2zM0 5h2v1h-2zM0 6h2v1h-2zM3 11h1v1h-1zM5 11h2v1h-2zM22 11h1v1h-1zM24 11h1v1h-1zM11 19h1v1h-1zM14 19h1v1h-1zM24 19h1v1h-1zM0 21h2v1h-2zM0 26h2v1h-2zM0 27h2v1h-2zM0 28h3v1h-3zM0 29h3v1h-3z"/><path fill="#c6c6c6" d="M3 2h1v1h-1zM11 2h1v1h-1zM16 2h2v1h-2zM12 3h1v1h-1zM3 4h1v1h-1zM6 4h1v1h-1zM9 4h1v1h-1zM14 4h1v1h-1zM17 4h1v1h-1zM26 4h1v1h-1zM3 5h1v1h-1zM6 5h4v1h-4zM18 5h5v1h-5zM5 6h1v1h-1zM8 6h1v1h-1zM10 6h1v1h-1zM12 6h1v1h-1zM18 6h1v1h-1zM21 6h1v1h-1zM24 6h1v1h-1zM6 7h5v1h-5zM12 7h1v1h-1zM14 7h2v1h-2zM19 7h2v1h-2zM24 7h1v1h-1zM14 8h2v1h-2zM23 8h1v1h-1zM18 14h1v1h-1zM21 14h1v1h-1zM25 14h1v1h-1zM27 15h1v1h-1zM2 16h1v1h-1zM15 17h1v1h-1zM6 21h2v1h-2zM11 21h1v1h-1zM20 21h1v1h-1zM22 21h1v1h-1zM25 21h2v1h-2zM7 22h1v1h-1zM9 22h1v1h-1zM11 22h1v1h-1zM18 22h1v1h-1zM26 22h1v1h-1zM4 23h1v1h-1zM6 23h1v1h-1zM8 23h3v1h-3zM23 23h1v1h-1zM26 23h1v1h-1zM5 24h1v1h-1zM8 24h1v1h-1zM20 24h1v1h-1zM24 24h1v1h-1zM26 24h1v1h-1zM3 25h1v1h-1zM6 25h1v1h-1zM9 25h1v1h-1zM20 25h1v1h-1zM22 25h1v1h-1zM25 25h1v1h-1zM4 26h2v1h-2zM8 26h1v1h-1zM16 26h1v1h-1zM22 26h1v1h-1zM26 26h1v1h-1zM17 27h1v1h-1zM19 27h1v1h-1z"/><path fill="#cacaca" d="M6 3h1v1h-1zM11 3h1v1h-1zM17 3h1v1h-1zM5 4h1v1h-1zM11 4h1v1h-1zM16 4h1v1h-1zM20 4h1v1h-1zM12 5h2v1h-2zM15 5h1v1h-1zM17 5h1v1h-1zM25 5h1v1h-1zM7 6h1v1h-1zM11 6h1v1h-1zM13 6h4v1h-4zM19 6h2v1h-2zM25 6h1v1h-1zM5 7h1v1h-1zM11 7h1v1h-1zM16 7h1v1h-1zM23 7h1v1h-1zM11 8h2v1h-2zM16 8h1v1h-1zM15 12h1v1h-1zM25 12h1v1h-1zM27 13h1v1h-1zM3 14h2v1h-2zM7 14h3v1h-3zM13 14h3v1h-3zM19 14h2v1h-2zM27 16h1v1h-1zM5 17h3v1h-3zM10 17h1v1h-1zM18 17h2v1h-2zM22 17h3v1h-3zM12 21h1v1h-1zM17 21h1v1h-1zM3 22h1v1h-1zM5 22h1v1h-1zM17 22h1v1h-1zM20 22h1v1h-1zM25 22h1v1h-1zM5 23h1v1h-1zM11 23h4v1h-4zM16 23h1v1h-1zM20 23h2v1h-2zM4 24h1v1h-1zM6 24h1v1h-1zM10 24h1v1h-1zM14 24h2v1h-2zM17 24h1v1h-1zM19 24h1v1h-1zM22 24h2v1h-2zM25 24h1v1h-1zM10 25h1v1h-1zM12 25h2v1h-2zM18 25h2v1h-2zM21 25h1v1h-1zM23 25h1v1h-1zM12 26h1v1h-1zM15 26h1v1h-1zM20 26h1v1h-1zM11 27h2v1h-2zM16 27h1v1h-1z"/><path fill="#d2d2d2" d="M16 3h1v1h-1zM11 5h1v1h-1zM16 5h1v1h-1zM17 6h1v1h-1zM3 12h7v1h-7zM13 12h2v1h-2zM21 12h4v1h-4zM26 12h1v1h-1zM2 13h2v1h-2zM6 14h1v1h-1zM22 14h1v1h-1zM24 14h1v1h-1zM26 14h1v1h-1zM4 15h1v1h-1zM6 15h1v1h-1zM8 15h3v1h-3zM13 15h1v1h-1zM20 15h1v1h-1zM5 16h1v1h-1zM7 16h1v1h-1zM13 16h1v1h-1zM19 16h2v1h-2zM22 16h2v1h-2zM25 16h1v1h-1zM3 17h1v1h-1zM12 17h2v1h-2zM17 17h1v1h-1zM21 17h1v1h-1zM25 17h2v1h-2zM17 23h1v1h-1zM12 24h1v1h-1zM16 24h1v1h-1z"/><path fill="#cecece" d="M12 4h1v1h-1zM17 7h1v1h-1zM19 12h1v1h-1zM5 14h1v1h-1zM10 14h1v1h-1zM23 14h1v1h-1zM3 15h1v1h-1zM5 15h1v1h-1zM7 15h1v1h-1zM14 15h2v1h-2zM18 15h1v1h-1zM21 15h2v1h-2zM24 15h2v1h-2zM4 16h1v1h-1zM8 16h3v1h-3zM14 16h1v1h-1zM4 17h1v1h-1zM9 17h1v1h-1zM14 17h1v1h-1zM20 17h1v1h-1zM11 18h1v1h-1zM16 18h2v1h-2zM16 21h1v1h-1zM12 22h1v1h-1zM23 22h1v1h-1zM18 23h2v1h-2zM13 24h1v1h-1zM18 24h1v1h-1zM16 25h2v1h-2zM11 26h1v1h-1zM17 26h1v1h-1z"/><path fill="#828282" d="M0 9h2v1h-2zM28 9h2v1h-2zM27 11h1v1h-1zM0 19h2v1h-2zM28 19h2v1h-2z"/><path fill="#8e8e8e" d="M2 9h1v1h-1zM27 9h1v1h-1zM7 10h1v1h-1zM27 19h1v1h-1z"/><path fill="#020202" d="M0 10h2v1h-2zM28 10h2v1h-2z"/><path fill="#262626" d="M2 10h1v1h-1z"/><path fill="#666666" d="M3 10h1v1h-1zM6 10h1v1h-1zM24 10h1v1h-1zM26 10h1v1h-1z"/><path fill="#727272" d="M4 10h1v1h-1zM0 11h2v1h-2zM28 11h2v1h-2zM3 18h1v1h-1zM6 18h1v1h-1zM24 18h1v1h-1zM26 18h1v1h-1z"/><path fill="#6a6a6a" d="M5 10h1v1h-1zM23 10h1v1h-1zM25 10h1v1h-1z"/><path fill="#9e9e9e" d="M8 10h1v1h-1zM21 10h1v1h-1zM7 11h1v1h-1zM4 19h1v1h-1zM6 19h2v1h-2zM10 19h1v1h-1zM12 19h1v1h-1zM15 19h1v1h-1zM18 19h1v1h-1zM26 19h1v1h-1z"/><path fill="#d6d6d6" d="M11 10h1v1h-1zM11 12h2v1h-2zM17 12h2v1h-2zM20 12h1v1h-1zM25 13h1v1h-1zM12 14h1v1h-1zM16 14h2v1h-2zM19 15h1v1h-1zM23 15h1v1h-1zM26 15h1v1h-1zM11 16h2v1h-2zM15 16h1v1h-1zM17 16h2v1h-2zM21 16h1v1h-1zM24 16h1v1h-1zM11 17h1v1h-1zM16 22h1v1h-1zM11 24h1v1h-1zM11 25h1v1h-1z"/><path fill="#dadada" d="M16 10h2v1h-2zM10 12h1v1h-1zM16 12h1v1h-1zM6 13h3v1h-3zM10 13h1v1h-1zM14 13h1v1h-1zM19 13h1v1h-1zM21 13h2v1h-2zM24 13h1v1h-1zM11 14h1v1h-1zM11 15h2v1h-2zM17 15h1v1h-1zM3 16h1v1h-1zM6 16h1v1h-1zM16 16h1v1h-1zM16 17h1v1h-1z"/><path fill="#868686" d="M22 10h1v1h-1zM2 11h1v1h-1z"/><path fill="#1e1e1e" d="M27 10h1v1h-1z"/><path fill="#eaeaea" d="M0 12h2v1h-2zM28 12h2v1h-2z"/><path fill="#f6f6f6" d="M0 13h2v1h-2zM28 13h2v1h-2z"/><path fill="#dedede" d="M4 13h2v1h-2zM9 13h1v1h-1zM11 13h1v1h-1zM15 13h1v1h-1zM18 13h1v1h-1zM20 13h1v1h-1zM23 13h1v1h-1zM26 13h1v1h-1zM26 16h1v1h-1z"/><path fill="#e2e2e2" d="M12 13h1v1h-1zM16 13h1v1h-1zM16 15h1v1h-1z"/><path fill="#e6e6e6" d="M13 13h1v1h-1zM17 13h1v1h-1z"/><path fill="#0e0e0e" d="M0 18h2v1h-2zM28 18h2v1h-2z"/><path fill="#424242" d="M2 18h1v1h-1zM27 18h1v1h-1z"/><path fill="#7a7a7a" d="M4 18h1v1h-1z"/><path fill="#767676" d="M5 18h1v1h-1zM23 18h1v1h-1zM25 18h1v1h-1z"/><path fill="#929292" d="M7 18h1v1h-1zM2 19h1v1h-1z"/><path fill="#8a8a8a" d="M22 18h1v1h-1z"/></g></g></g>
<clipPath id="hc3"><rect x="874" y="188.3" width="125" height="124.2"/></clipPath><g clip-path="url(#hc3)"><g filter="url(#bl)"><g transform="translate(869.54,146.9) scale(4.4643,41.4000)" shape-rendering="crispEdges"><path fill="#2a2a2a" d="M0 0h5v1h-5zM6 0h1v1h-1zM18 0h1v1h-1zM20 0h4v1h-4zM0 1h5v1h-5zM6 1h1v1h-1zM18 1h1v1h-1zM20 1h4v1h-4zM0 2h5v1h-5zM6 2h1v1h-1zM18 2h1v1h-1zM20 2h4v1h-4zM0 3h5v1h-5zM6 3h1v1h-1zM18 3h1v1h-1zM20 3h4v1h-4zM0 4h5v1h-5zM6 4h1v1h-1zM18 4h1v1h-1zM20 4h4v1h-4z"/><path fill="#2e2e2e" d="M5 0h1v1h-1zM7 0h1v1h-1zM19 0h1v1h-1zM24 0h2v1h-2zM27 0h3v1h-3zM5 1h1v1h-1zM7 1h1v1h-1zM19 1h1v1h-1zM24 1h2v1h-2zM27 1h3v1h-3zM5 2h1v1h-1zM7 2h1v1h-1zM19 2h1v1h-1zM24 2h2v1h-2zM27 2h3v1h-3zM5 3h1v1h-1zM7 3h1v1h-1zM19 3h1v1h-1zM24 3h2v1h-2zM27 3h3v1h-3zM5 4h1v1h-1zM7 4h1v1h-1zM19 4h1v1h-1zM24 4h2v1h-2zM27 4h3v1h-3z"/><path fill="#323232" d="M8 0h3v1h-3zM26 0h1v1h-1zM8 1h3v1h-3zM26 1h1v1h-1zM8 2h3v1h-3zM26 2h1v1h-1zM8 3h3v1h-3zM26 3h1v1h-1zM8 4h3v1h-3zM26 4h1v1h-1z"/><path fill="#363636" d="M11 0h1v1h-1zM11 1h1v1h-1zM11 2h1v1h-1zM11 3h1v1h-1zM11 4h1v1h-1z"/><path fill="#222222" d="M12 0h1v1h-1zM12 1h1v1h-1zM12 2h1v1h-1zM12 3h1v1h-1zM12 4h1v1h-1z"/><path fill="#020202" d="M13 0h1v1h-1zM13 1h1v1h-1zM13 2h1v1h-1zM13 3h1v1h-1zM13 4h1v1h-1z"/><path fill="#424242" d="M14 0h1v1h-1zM14 1h1v1h-1zM14 2h1v1h-1zM14 3h1v1h-1zM14 4h1v1h-1z"/><path fill="#dadada" d="M15 0h1v1h-1zM15 1h1v1h-1zM15 2h1v1h-1zM15 3h1v1h-1zM15 4h1v1h-1z"/><path fill="#fafafa" d="M16 0h1v1h-1zM16 1h1v1h-1zM16 2h1v1h-1zM16 3h1v1h-1zM16 4h1v1h-1z"/><path fill="#6a6a6a" d="M17 0h1v1h-1zM17 1h1v1h-1zM17 2h1v1h-1zM17 3h1v1h-1zM17 4h1v1h-1z"/></g></g></g>
<defs><linearGradient id="g16" x1="0" x2="1" y1="0" y2="0"><stop offset="0" stop-color="#a8a8a8"/><stop offset="1" stop-color="#3a3a3a"/></linearGradient></defs>
<rect x="945.43" y="188.3" width="4.76" height="124.2" fill="url(#g16)"/>
<clipPath id="hc4"><rect x="1022.9" y="188.3" width="124.2" height="124.2"/></clipPath><g clip-path="url(#hc4)"><g filter="url(#bl)"><g transform="translate(981.5,183.86) scale(41.4000,4.4357)" shape-rendering="crispEdges"><path fill="#c6c6c6" d="M0 0h5v1h-5zM0 1h5v1h-5zM0 2h5v1h-5zM0 3h5v1h-5zM0 4h5v1h-5zM0 20h5v1h-5zM0 23h5v1h-5z"/><path fill="#bebebe" d="M0 5h5v1h-5zM0 17h5v1h-5zM0 18h5v1h-5zM0 21h5v1h-5zM0 27h5v1h-5zM0 28h5v1h-5zM0 29h5v1h-5z"/><path fill="#e2e2e2" d="M0 6h5v1h-5z"/><path fill="#f2f2f2" d="M0 7h5v1h-5z"/><path fill="#f6f6f6" d="M0 8h5v1h-5z"/><path fill="#eeeeee" d="M0 9h5v1h-5z"/><path fill="#ffffff" d="M0 10h5v1h-5zM0 11h5v1h-5z"/><path fill="#dadada" d="M0 12h5v1h-5zM0 13h5v1h-5z"/><path fill="#020202" d="M0 14h5v1h-5z"/><path fill="#1a1a1a" d="M0 15h5v1h-5z"/><path fill="#929292" d="M0 16h5v1h-5z"/><path fill="#c2c2c2" d="M0 19h5v1h-5zM0 22h5v1h-5zM0 24h5v1h-5z"/><path fill="#b2b2b2" d="M0 25h5v1h-5z"/><path fill="#aeaeae" d="M0 26h5v1h-5z"/></g></g></g>
<rect x="903.1" y="58.8" width="71" height="71" fill="none" stroke="#f5080c" stroke-width="1.9" stroke-dasharray="6.4 2.6"/>
<path d="M938.6 34L938.6 158.9" fill="none" stroke="#f5080c" stroke-width="1.9" stroke-dasharray="6.4 2.6"/>
<rect x="1051.3" y="58.8" width="71.5" height="71" fill="none" stroke="#f5080c" stroke-width="1.9" stroke-dasharray="6.4 2.6"/>
<path d="M1022.9 94.3L1147 94.3" fill="none" stroke="#f5080c" stroke-width="1.9" stroke-dasharray="6.4 2.6"/>
<rect x="903.1" y="212.6" width="71" height="71.1" fill="none" stroke="#f5080c" stroke-width="1.9" stroke-dasharray="6.4 2.6"/>
<path d="M938.6 188.3L938.6 312.5" fill="none" stroke="#f5080c" stroke-width="1.9" stroke-dasharray="6.4 2.6"/>
<rect x="1051.3" y="212.6" width="71.5" height="71.1" fill="none" stroke="#f5080c" stroke-width="1.9" stroke-dasharray="6.4 2.6"/>
<path d="M1022.9 248.2L1147 248.2" fill="none" stroke="#f5080c" stroke-width="1.9" stroke-dasharray="6.4 2.6"/>
<text class="d" x="935.8" y="29" font-size="12.4" text-anchor="middle"><tspan font-style="italic">x</tspan> = 14</text>
<text class="d" x="1084.5" y="29" font-size="12.4" text-anchor="middle"><tspan font-style="italic">y</tspan> = 14</text>
<text class="d" x="935.8" y="183.2" font-size="12.4" text-anchor="middle"><tspan font-style="italic">x</tspan> = 14</text>
<text class="d" x="1084.5" y="183.2" font-size="12.4" text-anchor="middle"><tspan font-style="italic">y</tspan> = 14</text>
<clipPath id="cc1"><rect x="1191.6" y="34.1" width="124.1" height="124.3"/></clipPath>
<g clip-path="url(#cc1)">
<g transform="translate(1189.38,31.88) scale(4.4321,4.4393)" shape-rendering="crispEdges"><path fill="#ffffff" d="M0 0h9v1h-9zM0 1h9v1h-9zM0 2h9v1h-9zM0 3h9v1h-9zM0 4h9v1h-9zM0 5h9v1h-9zM0 6h9v1h-9zM0 7h9v1h-9zM0 8h9v1h-9zM20 8h3v1h-3zM6 9h3v1h-3zM20 9h3v1h-3zM8 10h1v1h-1zM20 10h3v1h-3zM9 12h2v1h-2zM9 13h20v1h-20zM8 14h21v1h-21zM6 15h10v1h-10zM19 15h10v1h-10zM0 16h16v1h-16zM19 16h10v1h-10zM0 17h29v1h-29zM0 18h29v1h-29zM0 19h21v1h-21zM24 19h5v1h-5zM0 20h21v1h-21zM24 20h5v1h-5zM0 21h20v1h-20zM25 21h4v1h-4zM0 22h20v1h-20zM25 22h4v1h-4zM0 23h19v1h-19zM26 23h3v1h-3zM0 24h19v1h-19zM26 24h3v1h-3zM0 25h19v1h-19zM26 25h3v1h-3zM0 26h19v1h-19zM26 26h3v1h-3zM0 27h19v1h-19zM26 27h3v1h-3zM0 28h19v1h-19zM26 28h3v1h-3z"/><path fill="#fafafa" d="M9 0h20v1h-20zM9 1h20v1h-20zM9 2h20v1h-20zM27 3h2v1h-2zM27 4h2v1h-2zM9 5h1v1h-1zM20 5h9v1h-9zM9 6h1v1h-1zM20 6h9v1h-9zM9 7h1v1h-1zM20 7h9v1h-9zM9 8h1v1h-1zM23 8h6v1h-6zM0 9h6v1h-6zM9 9h1v1h-1zM23 9h6v1h-6zM7 10h1v1h-1zM9 10h1v1h-1zM23 10h6v1h-6zM8 11h2v1h-2zM20 11h9v1h-9zM11 12h18v1h-18zM8 13h1v1h-1zM7 14h1v1h-1zM0 15h6v1h-6zM16 15h3v1h-3zM16 16h3v1h-3zM21 19h1v1h-1zM23 19h1v1h-1zM19 23h1v1h-1zM25 23h1v1h-1zM19 24h1v1h-1zM25 24h1v1h-1zM19 25h1v1h-1zM25 25h1v1h-1zM19 26h1v1h-1zM25 26h1v1h-1zM19 27h1v1h-1zM25 27h1v1h-1zM19 28h1v1h-1zM25 28h1v1h-1z"/><path fill="#eaeaea" d="M9 3h3v1h-3zM21 3h3v1h-3zM9 4h3v1h-3zM21 4h3v1h-3zM7 11h1v1h-1zM7 13h1v1h-1zM20 24h1v1h-1zM24 24h1v1h-1zM20 28h1v1h-1zM24 28h1v1h-1z"/><path fill="#f2f2f2" d="M12 3h9v1h-9zM24 3h3v1h-3zM12 4h9v1h-9zM24 4h3v1h-3zM21 20h1v1h-1zM23 20h1v1h-1zM20 22h1v1h-1zM24 22h1v1h-1z"/><path fill="#f6f6f6" d="M10 5h10v1h-10zM10 6h10v1h-10zM10 7h10v1h-10zM10 8h10v1h-10zM10 9h10v1h-10zM6 10h1v1h-1zM10 10h10v1h-10zM10 11h10v1h-10zM8 12h1v1h-1zM6 14h1v1h-1zM22 19h1v1h-1zM20 21h1v1h-1zM24 21h1v1h-1z"/><path fill="#e6e6e6" d="M0 10h6v1h-6zM0 14h6v1h-6zM22 20h1v1h-1zM20 25h1v1h-1zM24 25h1v1h-1zM20 26h1v1h-1zM24 26h1v1h-1zM20 27h1v1h-1zM24 27h1v1h-1z"/><path fill="#929292" d="M0 11h1v1h-1zM3 11h3v1h-3zM0 13h1v1h-1zM3 13h3v1h-3z"/><path fill="#8e8e8e" d="M1 11h2v1h-2zM1 13h2v1h-2zM22 22h1v1h-1z"/><path fill="#dadada" d="M6 11h1v1h-1zM7 12h1v1h-1zM6 13h1v1h-1zM21 21h1v1h-1zM23 21h1v1h-1z"/><path fill="#3a3a3a" d="M0 12h1v1h-1zM3 12h2v1h-2z"/><path fill="#323232" d="M1 12h2v1h-2z"/><path fill="#3e3e3e" d="M5 12h1v1h-1z"/><path fill="#bebebe" d="M6 12h1v1h-1zM22 21h1v1h-1z"/><path fill="#c2c2c2" d="M21 22h1v1h-1zM23 22h1v1h-1z"/><path fill="#eeeeee" d="M20 23h1v1h-1zM24 23h1v1h-1z"/><path fill="#aeaeae" d="M21 23h1v1h-1zM23 23h1v1h-1z"/><path fill="#6a6a6a" d="M22 23h1v1h-1z"/><path fill="#9e9e9e" d="M21 24h1v1h-1zM23 24h1v1h-1z"/><path fill="#525252" d="M22 24h1v1h-1z"/><path fill="#969696" d="M21 25h1v1h-1zM23 25h1v1h-1zM21 26h1v1h-1zM23 26h1v1h-1z"/><path fill="#424242" d="M22 25h1v1h-1zM22 26h1v1h-1z"/><path fill="#9a9a9a" d="M21 27h1v1h-1zM23 27h1v1h-1z"/><path fill="#464646" d="M22 27h1v1h-1z"/><path fill="#a6a6a6" d="M21 28h1v1h-1zM23 28h1v1h-1z"/><path fill="#626262" d="M22 28h1v1h-1z"/></g>
</g>
<clipPath id="cc2"><rect x="1191.6" y="188.4" width="124.1" height="123.8"/></clipPath>
<g clip-path="url(#cc2)">
<g transform="translate(1189.38,186.19) scale(4.4321,4.4214)" shape-rendering="crispEdges"><path fill="#ffffff" d="M0 0h29v1h-29zM0 1h29v1h-29zM0 2h29v1h-29zM0 3h29v1h-29zM0 4h29v1h-29zM0 5h29v1h-29zM0 6h29v1h-29zM0 7h29v1h-29zM0 8h29v1h-29zM0 9h22v1h-22zM23 9h6v1h-6zM0 10h20v1h-20zM25 10h4v1h-4zM0 11h20v1h-20zM25 11h4v1h-4zM0 12h19v1h-19zM26 12h3v1h-3zM0 13h20v1h-20zM25 13h4v1h-4zM0 14h20v1h-20zM25 14h4v1h-4zM0 15h22v1h-22zM23 15h6v1h-6zM0 16h29v1h-29zM0 17h29v1h-29zM0 18h29v1h-29zM0 19h29v1h-29zM0 20h29v1h-29zM0 21h29v1h-29zM0 22h29v1h-29zM0 23h29v1h-29zM0 24h29v1h-29zM0 25h29v1h-29zM0 26h29v1h-29zM0 27h29v1h-29zM0 28h29v1h-29z"/><path fill="#fafafa" d="M22 9h1v1h-1zM19 12h1v1h-1zM25 12h1v1h-1zM22 15h1v1h-1z"/><path fill="#f6f6f6" d="M20 10h1v1h-1zM24 10h1v1h-1zM20 14h1v1h-1zM24 14h1v1h-1z"/><path fill="#eaeaea" d="M21 10h1v1h-1zM23 10h1v1h-1zM20 11h1v1h-1zM24 11h1v1h-1zM20 13h1v1h-1zM24 13h1v1h-1zM21 14h1v1h-1zM23 14h1v1h-1z"/><path fill="#dedede" d="M22 10h1v1h-1zM20 12h1v1h-1zM24 12h1v1h-1zM22 14h1v1h-1z"/><path fill="#9a9a9a" d="M21 11h1v1h-1zM23 11h1v1h-1zM21 13h1v1h-1zM23 13h1v1h-1z"/><path fill="#5a5a5a" d="M22 11h1v1h-1zM21 12h1v1h-1zM23 12h1v1h-1zM22 13h1v1h-1z"/><path fill="#262626" d="M22 12h1v1h-1z"/></g>
</g>
<rect x="1191.6" y="34.1" width="124.1" height="124.3" fill="none" stroke="#333" stroke-width="1"/>
<rect x="1191.6" y="188.4" width="124.1" height="123.8" fill="none" stroke="#333" stroke-width="1"/>
<path d="M1218.2 34.1V131.6H1315.7" fill="none" stroke="#f5080c" stroke-width="1.9" stroke-dasharray="6.4 2.6"/>
<path d="M1218.2 188.4V285.9H1315.7" fill="none" stroke="#f5080c" stroke-width="1.9" stroke-dasharray="6.4 2.6"/>
<path d="M1285.7 84.4L1291.9 90.6M1285.7 90.6L1291.9 84.4" stroke="#f5080c" stroke-width="1.4" fill="none"/>
<path d="M1285.7 238.5L1291.9 244.7M1285.7 244.7L1291.9 238.5" stroke="#f5080c" stroke-width="1.4" fill="none"/>
<text class="a" x="147.2" y="326.3" font-size="20">(d)</text>
<text class="a" transform="translate(183,418.7) rotate(-90)" font-size="18.7" text-anchor="middle">No Regularization</text>
<text class="a" transform="translate(183,577.6) rotate(-90)" font-size="18.7" text-anchor="middle">Regularization</text>
<clipPath id="hc5"><rect x="205" y="339.2" width="137" height="136.6"/></clipPath><g clip-path="url(#hc5)"><g filter="url(#bl)"><g transform="translate(200.11,334.32) scale(4.8929,4.8786)" shape-rendering="crispEdges"><path fill="#66020e" d="M0 0h2v1h-2zM0 1h2v1h-2zM0 2h2v1h-2zM0 6h2v1h-2zM0 7h2v1h-2zM0 22h2v1h-2zM0 23h2v1h-2zM0 26h2v1h-2zM0 27h3v1h-3zM0 28h3v1h-3zM0 29h3v1h-3z"/><path fill="#960a12" d="M2 0h1v1h-1zM2 1h1v1h-1zM2 3h1v1h-1z"/><path fill="#f64e3a" d="M3 0h1v1h-1zM3 1h1v1h-1zM3 2h1v1h-1zM3 4h1v1h-1zM3 5h1v1h-1z"/><path fill="#fa5e42" d="M4 0h1v1h-1zM28 0h2v1h-2zM4 1h1v1h-1zM28 1h2v1h-2zM4 2h1v1h-1zM4 3h1v1h-1zM6 3h1v1h-1zM5 4h2v1h-2zM5 5h1v1h-1zM7 5h1v1h-1zM28 5h2v1h-2zM4 6h4v1h-4zM3 8h1v1h-1zM3 10h1v1h-1zM3 11h1v1h-1zM3 12h1v1h-1zM3 14h1v1h-1zM3 19h1v1h-1zM3 21h1v1h-1zM5 22h1v1h-1zM26 22h1v1h-1zM7 23h1v1h-1zM23 23h2v1h-2zM26 23h1v1h-1zM7 24h1v1h-1zM28 24h2v1h-2zM28 26h2v1h-2z"/><path fill="#fa6246" d="M5 0h3v1h-3zM23 0h1v1h-1zM25 0h2v1h-2zM5 1h3v1h-3zM23 1h1v1h-1zM25 1h2v1h-2zM5 2h3v1h-3zM23 2h1v1h-1zM26 2h1v1h-1zM7 3h1v1h-1zM23 3h2v1h-2zM26 3h1v1h-1zM4 4h1v1h-1zM7 4h1v1h-1zM23 4h2v1h-2zM26 4h1v1h-1zM6 5h1v1h-1zM23 5h2v1h-2zM26 5h1v1h-1zM23 6h2v1h-2zM26 6h1v1h-1zM9 7h1v1h-1zM14 7h1v1h-1zM21 7h1v1h-1zM24 22h2v1h-2zM25 23h1v1h-1zM4 24h3v1h-3zM23 24h2v1h-2zM5 25h3v1h-3zM4 26h1v1h-1zM6 26h2v1h-2z"/><path fill="#fa7252" d="M8 0h7v1h-7zM16 0h2v1h-2zM19 0h4v1h-4zM8 1h7v1h-7zM16 1h2v1h-2zM19 1h4v1h-4zM11 2h1v1h-1zM13 2h2v1h-2zM16 2h2v1h-2zM19 2h1v1h-1zM21 2h1v1h-1zM27 2h1v1h-1zM8 3h3v1h-3zM12 3h2v1h-2zM15 3h2v1h-2zM18 3h1v1h-1zM20 3h3v1h-3zM8 4h3v1h-3zM12 4h3v1h-3zM16 4h1v1h-1zM18 4h3v1h-3zM22 4h1v1h-1zM8 5h2v1h-2zM11 5h7v1h-7zM20 5h3v1h-3zM27 5h1v1h-1zM13 6h1v1h-1zM15 6h2v1h-2zM18 6h2v1h-2zM21 6h1v1h-1zM4 8h2v1h-2zM23 8h2v1h-2zM26 8h1v1h-1zM5 9h1v1h-1zM7 9h1v1h-1zM23 9h2v1h-2zM26 9h1v1h-1zM5 10h3v1h-3zM23 10h3v1h-3zM5 11h1v1h-1zM23 11h1v1h-1zM26 11h1v1h-1zM6 12h2v1h-2zM23 12h2v1h-2zM26 12h1v1h-1zM5 13h3v1h-3zM23 13h1v1h-1zM26 13h1v1h-1zM4 14h2v1h-2zM7 14h1v1h-1zM23 14h1v1h-1zM26 14h1v1h-1zM28 14h2v1h-2zM5 15h1v1h-1zM7 15h1v1h-1zM23 15h2v1h-2zM26 15h1v1h-1zM4 16h2v1h-2zM7 16h1v1h-1zM24 16h1v1h-1zM26 16h1v1h-1zM4 17h4v1h-4zM23 17h3v1h-3zM4 18h4v1h-4zM23 18h1v1h-1zM26 18h1v1h-1zM4 19h2v1h-2zM7 19h1v1h-1zM23 19h1v1h-1zM26 19h1v1h-1zM7 20h1v1h-1zM23 20h4v1h-4zM5 21h1v1h-1zM7 21h1v1h-1zM24 21h1v1h-1zM26 21h1v1h-1zM15 22h1v1h-1zM11 23h1v1h-1zM16 23h1v1h-1zM8 24h1v1h-1zM10 24h1v1h-1zM12 24h2v1h-2zM17 24h6v1h-6zM27 24h1v1h-1zM8 25h3v1h-3zM14 25h1v1h-1zM17 25h1v1h-1zM20 25h1v1h-1zM27 25h1v1h-1zM8 26h1v1h-1zM10 26h1v1h-1zM13 26h2v1h-2zM18 26h2v1h-2zM21 26h2v1h-2zM27 26h1v1h-1z"/><path fill="#fa7656" d="M15 0h1v1h-1zM15 1h1v1h-1zM15 2h1v1h-1zM27 3h1v1h-1zM15 4h1v1h-1zM18 5h1v1h-1zM25 8h1v1h-1zM25 9h1v1h-1zM26 10h1v1h-1zM25 11h1v1h-1zM24 13h2v1h-2zM24 14h2v1h-2zM25 15h1v1h-1zM23 16h1v1h-1zM25 16h1v1h-1zM26 17h1v1h-1zM24 18h2v1h-2zM24 19h1v1h-1zM23 21h1v1h-1zM25 21h1v1h-1zM9 24h1v1h-1zM11 24h1v1h-1zM14 24h3v1h-3zM11 25h3v1h-3zM16 25h1v1h-1zM18 25h1v1h-1zM21 25h1v1h-1zM9 26h1v1h-1zM11 26h2v1h-2zM15 26h3v1h-3zM20 26h1v1h-1z"/><path fill="#fa6e4e" d="M18 0h1v1h-1zM27 0h1v1h-1zM18 1h1v1h-1zM27 1h1v1h-1zM8 2h3v1h-3zM12 2h1v1h-1zM18 2h1v1h-1zM20 2h1v1h-1zM22 2h1v1h-1zM11 3h1v1h-1zM14 3h1v1h-1zM17 3h1v1h-1zM19 3h1v1h-1zM11 4h1v1h-1zM17 4h1v1h-1zM21 4h1v1h-1zM27 4h1v1h-1zM10 5h1v1h-1zM19 5h1v1h-1zM8 6h5v1h-5zM14 6h1v1h-1zM17 6h1v1h-1zM20 6h1v1h-1zM22 6h1v1h-1zM27 6h1v1h-1zM6 8h2v1h-2zM28 8h2v1h-2zM4 9h1v1h-1zM6 9h1v1h-1zM4 10h1v1h-1zM4 11h1v1h-1zM6 11h2v1h-2zM24 11h1v1h-1zM4 12h2v1h-2zM28 13h2v1h-2zM6 14h1v1h-1zM4 15h1v1h-1zM6 15h1v1h-1zM28 15h2v1h-2zM6 16h1v1h-1zM28 17h2v1h-2zM6 19h1v1h-1zM28 19h2v1h-2zM4 20h3v1h-3zM4 21h1v1h-1zM6 21h1v1h-1zM10 22h3v1h-3zM14 22h1v1h-1zM16 22h1v1h-1zM19 22h4v1h-4zM27 22h1v1h-1zM8 23h3v1h-3zM12 23h4v1h-4zM17 23h4v1h-4zM22 23h1v1h-1z"/><path fill="#fa6646" d="M24 0h1v1h-1zM24 1h1v1h-1zM25 5h1v1h-1zM25 6h1v1h-1zM26 24h1v1h-1zM4 25h1v1h-1zM26 25h1v1h-1zM5 26h1v1h-1zM23 26h2v1h-2zM26 26h1v1h-1z"/><path fill="#9e0e16" d="M2 2h1v1h-1zM2 24h1v1h-1zM2 26h1v1h-1z"/><path fill="#fa664a" d="M24 2h2v1h-2zM25 4h1v1h-1zM8 7h1v1h-1zM10 7h2v1h-2zM13 7h1v1h-1zM18 7h1v1h-1zM27 7h1v1h-1zM25 24h1v1h-1zM24 25h2v1h-2z"/><path fill="#f65a42" d="M28 2h2v1h-2zM5 3h1v1h-1zM28 4h2v1h-2zM3 16h1v1h-1zM3 18h1v1h-1zM4 23h2v1h-2zM28 25h2v1h-2z"/><path fill="#6a020e" d="M0 3h2v1h-2zM0 4h2v1h-2zM0 5h2v1h-2zM0 24h2v1h-2zM0 25h2v1h-2z"/><path fill="#f24a36" d="M3 3h1v1h-1zM3 6h1v1h-1zM3 23h1v1h-1zM3 24h1v1h-1z"/><path fill="#fa6a4a" d="M25 3h1v1h-1zM12 7h1v1h-1zM15 7h3v1h-3zM19 7h2v1h-2zM22 7h1v1h-1zM28 9h2v1h-2zM28 10h2v1h-2zM28 11h2v1h-2zM28 12h2v1h-2zM4 13h1v1h-1zM28 16h2v1h-2zM28 18h2v1h-2zM28 20h2v1h-2zM28 21h2v1h-2zM8 22h2v1h-2zM13 22h1v1h-1zM17 22h2v1h-2zM21 23h1v1h-1zM27 23h1v1h-1zM23 25h1v1h-1zM25 26h1v1h-1z"/><path fill="#f65e42" d="M28 3h2v1h-2zM4 5h1v1h-1zM28 6h2v1h-2zM3 13h1v1h-1zM3 15h1v1h-1zM3 17h1v1h-1zM3 20h1v1h-1zM6 22h1v1h-1zM6 23h1v1h-1z"/><path fill="#920a12" d="M2 4h1v1h-1zM2 22h1v1h-1zM2 23h1v1h-1z"/><path fill="#9a0e16" d="M2 5h1v1h-1zM2 6h1v1h-1zM3 28h1v1h-1zM3 29h1v1h-1z"/><path fill="#8e0a12" d="M2 7h1v1h-1z"/><path fill="#f24232" d="M3 7h1v1h-1z"/><path fill="#f6523a" d="M4 7h4v1h-4zM28 7h2v1h-2zM3 25h1v1h-1zM3 26h1v1h-1z"/><path fill="#f65a3e" d="M23 7h1v1h-1zM25 7h2v1h-2zM3 9h1v1h-1zM4 22h1v1h-1zM23 22h1v1h-1z"/><path fill="#f6563e" d="M24 7h1v1h-1zM7 22h1v1h-1zM28 22h2v1h-2zM28 23h2v1h-2z"/><path fill="#7e0612" d="M0 8h2v1h-2zM0 10h2v1h-2zM0 13h2v1h-2zM0 14h2v1h-2zM0 15h2v1h-2zM0 16h2v1h-2zM0 17h2v1h-2zM0 19h2v1h-2zM0 20h2v1h-2zM0 21h2v1h-2z"/><path fill="#aa1216" d="M2 8h1v1h-1zM2 9h1v1h-1zM2 10h1v1h-1zM2 12h1v1h-1zM2 13h1v1h-1zM2 14h1v1h-1zM2 15h1v1h-1zM2 16h1v1h-1zM2 17h1v1h-1zM2 18h1v1h-1zM2 20h1v1h-1zM2 21h1v1h-1zM28 28h2v1h-2zM28 29h2v1h-2z"/><path fill="#ff8262" d="M8 8h1v1h-1zM12 8h1v1h-1zM14 8h1v1h-1zM20 8h2v1h-2zM27 8h1v1h-1zM8 9h3v1h-3zM17 9h1v1h-1zM20 9h2v1h-2zM11 10h1v1h-1zM14 10h1v1h-1zM18 10h2v1h-2zM22 10h1v1h-1zM11 11h2v1h-2zM18 11h4v1h-4zM9 12h1v1h-1zM13 12h2v1h-2zM18 12h1v1h-1zM27 12h1v1h-1zM8 13h1v1h-1zM10 13h3v1h-3zM19 13h1v1h-1zM8 14h3v1h-3zM12 14h1v1h-1zM14 14h1v1h-1zM18 14h1v1h-1zM27 14h1v1h-1zM10 15h3v1h-3zM17 15h1v1h-1zM21 15h2v1h-2zM11 16h1v1h-1zM21 16h2v1h-2zM10 17h1v1h-1zM14 17h1v1h-1zM17 17h2v1h-2zM20 17h2v1h-2zM10 18h2v1h-2zM19 18h1v1h-1zM8 19h1v1h-1zM10 19h1v1h-1zM12 19h1v1h-1zM19 19h4v1h-4zM9 20h2v1h-2zM13 20h2v1h-2zM20 20h1v1h-1zM27 20h1v1h-1zM8 21h2v1h-2zM11 21h1v1h-1zM14 21h1v1h-1zM19 21h1v1h-1z"/><path fill="#ff8666" d="M9 8h3v1h-3zM13 8h1v1h-1zM15 8h1v1h-1zM17 8h3v1h-3zM22 8h1v1h-1zM11 9h4v1h-4zM16 9h1v1h-1zM18 9h2v1h-2zM22 9h1v1h-1zM8 10h3v1h-3zM12 10h2v1h-2zM15 10h3v1h-3zM20 10h2v1h-2zM8 11h2v1h-2zM14 11h4v1h-4zM22 11h1v1h-1zM8 12h1v1h-1zM10 12h1v1h-1zM12 12h1v1h-1zM15 12h3v1h-3zM19 12h4v1h-4zM9 13h1v1h-1zM13 13h6v1h-6zM20 13h3v1h-3zM11 14h1v1h-1zM13 14h1v1h-1zM15 14h3v1h-3zM19 14h4v1h-4zM8 15h2v1h-2zM13 15h4v1h-4zM18 15h3v1h-3zM8 16h3v1h-3zM12 16h9v1h-9zM9 17h1v1h-1zM11 17h3v1h-3zM15 17h2v1h-2zM19 17h1v1h-1zM22 17h1v1h-1zM8 18h2v1h-2zM12 18h7v1h-7zM20 18h3v1h-3zM9 19h1v1h-1zM11 19h1v1h-1zM14 19h1v1h-1zM16 19h3v1h-3zM8 20h1v1h-1zM11 20h2v1h-2zM15 20h5v1h-5zM21 20h2v1h-2zM10 21h1v1h-1zM12 21h2v1h-2zM15 21h4v1h-4zM20 21h3v1h-3z"/><path fill="#ff8a6a" d="M16 8h1v1h-1zM15 9h1v1h-1zM15 19h1v1h-1z"/><path fill="#820612" d="M0 9h2v1h-2zM0 18h2v1h-2z"/><path fill="#ff7e5e" d="M27 9h1v1h-1zM27 10h1v1h-1zM10 11h1v1h-1zM13 11h1v1h-1zM11 12h1v1h-1zM27 13h1v1h-1zM27 15h1v1h-1zM8 17h1v1h-1zM13 19h1v1h-1zM27 21h1v1h-1z"/><path fill="#7a0612" d="M0 11h2v1h-2z"/><path fill="#ae1216" d="M2 11h1v1h-1zM2 19h1v1h-1zM6 28h1v1h-1zM23 28h1v1h-1zM6 29h1v1h-1zM23 29h1v1h-1z"/><path fill="#fa7e5e" d="M27 11h1v1h-1zM27 16h1v1h-1zM27 17h1v1h-1zM27 19h1v1h-1z"/><path fill="#7a060e" d="M0 12h2v1h-2z"/><path fill="#fa7a5a" d="M25 12h1v1h-1zM27 18h1v1h-1zM25 19h1v1h-1zM15 25h1v1h-1zM19 25h1v1h-1zM22 25h1v1h-1z"/><path fill="#f24632" d="M3 22h1v1h-1z"/><path fill="#9a0e12" d="M2 25h1v1h-1z"/><path fill="#b2121a" d="M3 27h1v1h-1zM4 28h1v1h-1zM7 28h1v1h-1zM24 28h3v1h-3zM4 29h1v1h-1zM7 29h1v1h-1zM24 29h3v1h-3z"/><path fill="#be161a" d="M4 27h1v1h-1zM6 27h1v1h-1zM28 27h2v1h-2zM8 28h4v1h-4zM13 28h2v1h-2zM16 28h7v1h-7zM27 28h1v1h-1zM8 29h4v1h-4zM13 29h2v1h-2zM16 29h7v1h-7zM27 29h1v1h-1z"/><path fill="#c2161a" d="M5 27h1v1h-1zM7 27h1v1h-1zM24 27h1v1h-1zM26 27h1v1h-1zM15 28h1v1h-1zM15 29h1v1h-1z"/><path fill="#ce1a1e" d="M8 27h1v1h-1zM20 27h1v1h-1zM22 27h1v1h-1z"/><path fill="#d21e1e" d="M9 27h1v1h-1zM11 27h3v1h-3zM15 27h1v1h-1zM17 27h1v1h-1zM19 27h1v1h-1zM27 27h1v1h-1z"/><path fill="#ce1e1e" d="M10 27h1v1h-1zM18 27h1v1h-1zM21 27h1v1h-1z"/><path fill="#ca1a1e" d="M14 27h1v1h-1z"/><path fill="#d22222" d="M16 27h1v1h-1z"/><path fill="#ca161e" d="M23 27h1v1h-1z"/><path fill="#c6161e" d="M25 27h1v1h-1z"/><path fill="#b21216" d="M5 28h1v1h-1zM5 29h1v1h-1z"/><path fill="#ba161a" d="M12 28h1v1h-1zM12 29h1v1h-1z"/></g></g></g>
<rect x="205" y="339.2" width="137" height="136.6" fill="none" stroke="#200" stroke-opacity=".75" stroke-width=".7"/>
<clipPath id="hc6"><rect x="381" y="339.2" width="137" height="136.6"/></clipPath><g clip-path="url(#hc6)"><g filter="url(#bl)"><g transform="translate(376.11,334.32) scale(4.8929,4.8786)" shape-rendering="crispEdges"><path fill="#72020e" d="M0 0h2v1h-2zM0 1h2v1h-2zM0 2h2v1h-2z"/><path fill="#9e0e16" d="M2 0h1v1h-1zM2 1h1v1h-1zM2 2h1v1h-1zM2 5h1v1h-1zM2 6h1v1h-1z"/><path fill="#fa6246" d="M3 0h1v1h-1zM3 1h1v1h-1zM6 7h1v1h-1zM8 7h1v1h-1zM11 7h2v1h-2zM14 7h2v1h-2zM17 7h2v1h-2zM20 7h2v1h-2zM28 7h2v1h-2zM14 13h2v1h-2zM17 14h1v1h-1zM19 14h1v1h-1zM13 15h1v1h-1zM15 15h2v1h-2z"/><path fill="#fa7656" d="M4 0h2v1h-2zM7 0h1v1h-1zM25 0h2v1h-2zM4 1h2v1h-2zM7 1h1v1h-1zM25 1h2v1h-2zM4 2h2v1h-2zM25 2h1v1h-1zM5 3h3v1h-3zM23 3h1v1h-1zM28 3h2v1h-2zM6 4h2v1h-2zM4 5h2v1h-2zM24 5h3v1h-3zM4 6h1v1h-1zM24 6h3v1h-3zM8 8h1v1h-1zM6 9h1v1h-1zM21 9h1v1h-1zM20 10h2v1h-2zM20 12h2v1h-2zM20 13h1v1h-1zM21 14h1v1h-1zM20 15h2v1h-2zM21 17h2v1h-2zM6 18h1v1h-1zM20 18h1v1h-1zM22 18h1v1h-1zM7 19h2v1h-2zM20 19h1v1h-1zM6 20h1v1h-1zM8 20h1v1h-1zM8 21h1v1h-1zM8 22h2v1h-2zM11 22h3v1h-3zM15 22h1v1h-1zM17 22h3v1h-3zM21 22h1v1h-1zM9 23h2v1h-2zM12 23h1v1h-1zM14 23h2v1h-2zM18 23h1v1h-1zM6 24h1v1h-1z"/><path fill="#fa6e4e" d="M6 0h1v1h-1zM6 1h1v1h-1zM7 5h1v1h-1zM6 6h1v1h-1zM3 8h1v1h-1zM12 8h2v1h-2zM16 8h2v1h-2zM3 9h1v1h-1zM11 9h1v1h-1zM13 9h3v1h-3zM17 9h1v1h-1zM11 10h1v1h-1zM15 10h1v1h-1zM19 10h1v1h-1zM3 11h1v1h-1zM10 11h2v1h-2zM11 12h1v1h-1zM3 13h1v1h-1zM8 13h2v1h-2zM8 14h3v1h-3zM8 15h2v1h-2zM9 16h2v1h-2zM3 17h1v1h-1zM8 17h1v1h-1zM11 17h1v1h-1zM3 18h1v1h-1zM9 18h5v1h-5zM15 18h1v1h-1zM3 19h1v1h-1zM10 19h2v1h-2zM17 19h3v1h-3zM13 20h2v1h-2zM16 20h2v1h-2zM19 20h1v1h-1zM3 21h1v1h-1zM13 21h1v1h-1zM15 21h1v1h-1zM24 22h3v1h-3zM5 23h1v1h-1zM7 23h1v1h-1zM23 23h1v1h-1zM25 23h1v1h-1zM3 24h1v1h-1zM3 25h1v1h-1z"/><path fill="#fa7e5e" d="M8 0h1v1h-1zM10 0h2v1h-2zM15 0h2v1h-2zM22 0h1v1h-1zM8 1h1v1h-1zM10 1h2v1h-2zM15 1h2v1h-2zM22 1h1v1h-1zM8 2h1v1h-1zM14 2h2v1h-2zM18 2h3v1h-3zM4 3h1v1h-1zM8 5h2v1h-2zM15 5h1v1h-1zM17 5h3v1h-3zM21 5h1v1h-1zM8 6h1v1h-1zM18 6h1v1h-1zM7 8h1v1h-1zM20 8h2v1h-2zM25 8h2v1h-2zM7 9h1v1h-1zM22 9h3v1h-3zM28 9h2v1h-2zM23 10h2v1h-2zM7 11h1v1h-1zM23 11h3v1h-3zM6 12h1v1h-1zM23 12h1v1h-1zM25 12h2v1h-2zM5 13h1v1h-1zM7 13h1v1h-1zM23 13h1v1h-1zM25 13h1v1h-1zM4 14h1v1h-1zM28 14h2v1h-2zM7 15h1v1h-1zM24 15h1v1h-1zM26 15h1v1h-1zM4 16h2v1h-2zM5 17h1v1h-1zM4 18h1v1h-1zM23 18h2v1h-2zM26 18h1v1h-1zM28 18h2v1h-2zM4 19h1v1h-1zM23 19h1v1h-1zM4 20h1v1h-1zM23 20h2v1h-2zM28 20h2v1h-2zM6 21h1v1h-1zM23 21h1v1h-1zM25 21h1v1h-1zM26 24h1v1h-1zM28 24h2v1h-2zM7 25h1v1h-1zM5 26h1v1h-1zM24 26h1v1h-1zM28 26h2v1h-2z"/><path fill="#ff7e5e" d="M9 0h1v1h-1zM12 0h1v1h-1zM17 0h2v1h-2zM21 0h1v1h-1zM9 1h1v1h-1zM12 1h1v1h-1zM17 1h2v1h-2zM21 1h1v1h-1zM11 2h1v1h-1zM13 2h1v1h-1zM16 2h2v1h-2zM21 2h2v1h-2zM15 3h1v1h-1zM20 5h1v1h-1zM22 5h1v1h-1zM14 6h2v1h-2zM19 6h2v1h-2zM5 8h1v1h-1zM23 8h1v1h-1zM28 8h2v1h-2zM5 10h1v1h-1zM4 11h1v1h-1zM4 12h1v1h-1zM24 12h1v1h-1zM5 14h1v1h-1zM24 14h1v1h-1zM5 15h1v1h-1zM24 16h2v1h-2zM24 17h1v1h-1zM26 17h1v1h-1zM25 18h1v1h-1zM5 19h1v1h-1zM25 20h2v1h-2zM4 21h2v1h-2zM7 21h1v1h-1zM24 21h1v1h-1zM24 25h1v1h-1zM28 25h2v1h-2zM4 26h1v1h-1zM26 26h1v1h-1z"/><path fill="#ff8262" d="M13 0h2v1h-2zM19 0h2v1h-2zM13 1h2v1h-2zM19 1h2v1h-2zM9 2h2v1h-2zM12 2h1v1h-1zM9 3h2v1h-2zM12 3h2v1h-2zM16 3h7v1h-7zM9 4h6v1h-6zM16 4h2v1h-2zM19 4h4v1h-4zM10 5h5v1h-5zM16 5h1v1h-1zM9 6h5v1h-5zM16 6h2v1h-2zM21 6h2v1h-2zM27 7h1v1h-1zM4 8h1v1h-1zM22 8h1v1h-1zM24 8h1v1h-1zM4 9h2v1h-2zM25 9h1v1h-1zM4 10h1v1h-1zM25 10h2v1h-2zM26 11h1v1h-1zM5 12h1v1h-1zM4 13h1v1h-1zM24 13h1v1h-1zM26 13h1v1h-1zM25 14h2v1h-2zM4 15h1v1h-1zM28 15h2v1h-2zM26 16h1v1h-1zM4 17h1v1h-1zM25 17h1v1h-1zM5 18h1v1h-1zM24 19h2v1h-2zM5 20h1v1h-1zM26 21h1v1h-1zM27 22h1v1h-1zM4 24h2v1h-2zM24 24h2v1h-2zM4 25h2v1h-2zM23 25h1v1h-1zM25 25h1v1h-1zM25 26h1v1h-1z"/><path fill="#fa7252" d="M23 0h2v1h-2zM28 0h2v1h-2zM23 1h2v1h-2zM28 1h2v1h-2zM6 2h2v1h-2zM23 2h2v1h-2zM26 2h1v1h-1zM28 2h2v1h-2zM23 4h1v1h-1zM28 4h2v1h-2zM6 5h1v1h-1zM23 5h1v1h-1zM28 5h2v1h-2zM5 6h1v1h-1zM7 6h1v1h-1zM23 6h1v1h-1zM28 6h2v1h-2zM9 8h2v1h-2zM14 8h2v1h-2zM18 8h2v1h-2zM8 9h3v1h-3zM12 9h1v1h-1zM16 9h1v1h-1zM8 10h3v1h-3zM8 11h2v1h-2zM8 12h2v1h-2zM6 13h1v1h-1zM20 14h1v1h-1zM8 16h1v1h-1zM20 16h1v1h-1zM9 17h2v1h-2zM8 18h1v1h-1zM9 19h1v1h-1zM9 20h2v1h-2zM18 20h1v1h-1zM9 21h3v1h-3zM14 21h1v1h-1zM16 21h4v1h-4zM10 22h1v1h-1zM14 22h1v1h-1zM16 22h1v1h-1zM20 22h1v1h-1zM22 22h1v1h-1zM4 23h1v1h-1zM24 23h1v1h-1zM26 23h1v1h-1z"/><path fill="#ff8e6e" d="M27 0h1v1h-1zM27 1h1v1h-1zM27 3h1v1h-1zM27 6h1v1h-1zM10 25h2v1h-2zM15 25h2v1h-2zM18 25h1v1h-1zM21 25h1v1h-1zM11 26h1v1h-1z"/><path fill="#fa5e42" d="M3 2h1v1h-1zM3 5h1v1h-1zM3 6h1v1h-1zM9 7h1v1h-1zM13 7h1v1h-1zM16 7h1v1h-1zM19 7h1v1h-1zM22 7h1v1h-1zM14 16h1v1h-1z"/><path fill="#ff8a6a" d="M27 2h1v1h-1zM27 5h1v1h-1zM8 24h8v1h-8zM17 24h1v1h-1zM19 24h4v1h-4zM8 25h2v1h-2zM12 25h3v1h-3zM17 25h1v1h-1zM19 25h2v1h-2zM22 25h1v1h-1zM8 26h1v1h-1zM10 26h1v1h-1zM12 26h3v1h-3zM16 26h1v1h-1zM18 26h1v1h-1zM22 26h1v1h-1z"/><path fill="#76020e" d="M0 3h2v1h-2zM0 20h2v1h-2z"/><path fill="#a20e16" d="M2 3h1v1h-1zM2 4h1v1h-1zM6 28h1v1h-1zM6 29h1v1h-1z"/><path fill="#fa664a" d="M3 3h1v1h-1zM3 4h1v1h-1zM5 7h1v1h-1zM23 7h1v1h-1zM14 12h1v1h-1zM17 12h1v1h-1zM19 12h1v1h-1zM13 13h1v1h-1zM17 13h1v1h-1zM14 14h2v1h-2zM18 14h1v1h-1zM12 15h1v1h-1zM18 15h1v1h-1zM12 16h1v1h-1zM16 16h1v1h-1zM14 17h3v1h-3zM16 19h1v1h-1zM28 22h2v1h-2z"/><path fill="#ff8666" d="M8 3h1v1h-1zM11 3h1v1h-1zM14 3h1v1h-1zM8 4h1v1h-1zM15 4h1v1h-1zM18 4h1v1h-1zM25 15h1v1h-1zM27 23h1v1h-1zM16 24h1v1h-1zM18 24h1v1h-1zM26 25h1v1h-1zM9 26h1v1h-1zM15 26h1v1h-1zM17 26h1v1h-1zM19 26h3v1h-3z"/><path fill="#fa7a5a" d="M24 3h3v1h-3zM4 4h2v1h-2zM24 4h3v1h-3zM6 8h1v1h-1zM20 9h1v1h-1zM26 9h1v1h-1zM6 10h2v1h-2zM22 10h1v1h-1zM28 10h2v1h-2zM5 11h2v1h-2zM20 11h3v1h-3zM28 11h2v1h-2zM7 12h1v1h-1zM22 12h1v1h-1zM28 12h2v1h-2zM21 13h2v1h-2zM28 13h2v1h-2zM6 14h2v1h-2zM22 14h2v1h-2zM6 15h1v1h-1zM22 15h2v1h-2zM6 16h2v1h-2zM21 16h3v1h-3zM28 16h2v1h-2zM6 17h2v1h-2zM20 17h1v1h-1zM23 17h1v1h-1zM28 17h2v1h-2zM7 18h1v1h-1zM21 18h1v1h-1zM6 19h1v1h-1zM21 19h2v1h-2zM26 19h1v1h-1zM28 19h2v1h-2zM7 20h1v1h-1zM20 20h3v1h-3zM20 21h3v1h-3zM28 21h2v1h-2zM8 23h1v1h-1zM11 23h1v1h-1zM13 23h1v1h-1zM16 23h2v1h-2zM19 23h4v1h-4zM7 24h1v1h-1zM23 24h1v1h-1zM6 25h1v1h-1zM6 26h2v1h-2zM23 26h1v1h-1z"/><path fill="#6e020e" d="M0 4h2v1h-2zM0 6h2v1h-2z"/><path fill="#ff9272" d="M27 4h1v1h-1zM27 9h1v1h-1zM27 20h1v1h-1z"/><path fill="#6a020e" d="M0 5h2v1h-2z"/><path fill="#66020e" d="M0 7h2v1h-2zM0 22h2v1h-2zM0 23h2v1h-2zM0 27h3v1h-3zM0 28h3v1h-3zM0 29h3v1h-3z"/><path fill="#920a12" d="M2 7h1v1h-1zM2 23h1v1h-1z"/><path fill="#f6523a" d="M3 7h1v1h-1z"/><path fill="#fa6a4a" d="M4 7h1v1h-1zM24 7h3v1h-3zM11 8h1v1h-1zM18 9h2v1h-2zM3 10h1v1h-1zM13 10h2v1h-2zM16 10h3v1h-3zM12 11h8v1h-8zM3 12h1v1h-1zM10 12h1v1h-1zM12 12h2v1h-2zM16 12h1v1h-1zM18 12h1v1h-1zM10 13h3v1h-3zM18 13h2v1h-2zM3 14h1v1h-1zM11 14h3v1h-3zM3 15h1v1h-1zM10 15h2v1h-2zM14 15h1v1h-1zM17 15h1v1h-1zM19 15h1v1h-1zM3 16h1v1h-1zM11 16h1v1h-1zM13 16h1v1h-1zM17 16h3v1h-3zM12 17h2v1h-2zM17 17h3v1h-3zM14 18h1v1h-1zM16 18h2v1h-2zM19 18h1v1h-1zM12 19h4v1h-4zM3 20h1v1h-1zM11 20h2v1h-2zM15 20h1v1h-1zM12 21h1v1h-1zM4 22h2v1h-2zM7 22h1v1h-1zM23 22h1v1h-1zM6 23h1v1h-1zM28 23h2v1h-2zM3 26h1v1h-1z"/><path fill="#fa6646" d="M7 7h1v1h-1zM10 7h1v1h-1zM12 10h1v1h-1zM15 12h1v1h-1zM16 13h1v1h-1zM16 14h1v1h-1zM15 16h1v1h-1zM18 18h1v1h-1zM6 22h1v1h-1z"/><path fill="#76060e" d="M0 8h2v1h-2z"/><path fill="#ae1216" d="M2 8h1v1h-1zM2 12h1v1h-1zM2 14h1v1h-1zM2 20h1v1h-1zM2 24h1v1h-1zM2 25h1v1h-1zM4 28h1v1h-1zM4 29h1v1h-1z"/><path fill="#ff9676" d="M27 8h1v1h-1zM27 11h1v1h-1zM27 12h1v1h-1zM27 14h1v1h-1zM27 16h1v1h-1zM27 17h1v1h-1zM27 19h1v1h-1zM27 21h1v1h-1zM27 24h1v1h-1zM27 26h1v1h-1z"/><path fill="#7a060e" d="M0 9h2v1h-2zM0 17h2v1h-2z"/><path fill="#aa1216" d="M2 9h1v1h-1zM2 10h1v1h-1zM2 11h1v1h-1zM2 13h1v1h-1zM2 15h1v1h-1zM2 16h1v1h-1zM2 17h1v1h-1zM2 18h1v1h-1zM2 19h1v1h-1zM2 21h1v1h-1zM2 26h1v1h-1zM5 28h1v1h-1zM7 28h1v1h-1zM23 28h4v1h-4zM5 29h1v1h-1zM7 29h1v1h-1zM23 29h4v1h-4z"/><path fill="#7e0612" d="M0 10h2v1h-2zM0 11h2v1h-2zM0 12h2v1h-2zM0 13h2v1h-2zM0 14h2v1h-2zM0 16h2v1h-2zM0 18h2v1h-2zM0 21h2v1h-2zM0 26h2v1h-2z"/><path fill="#ff9a7a" d="M27 10h1v1h-1zM27 13h1v1h-1zM27 15h1v1h-1zM27 18h1v1h-1zM27 25h1v1h-1z"/><path fill="#7a0612" d="M0 15h2v1h-2zM0 19h2v1h-2zM0 24h2v1h-2z"/><path fill="#8e0a12" d="M2 22h1v1h-1z"/><path fill="#f6563e" d="M3 22h1v1h-1z"/><path fill="#f65a3e" d="M3 23h1v1h-1z"/><path fill="#8a0a12" d="M0 25h2v1h-2z"/><path fill="#b21216" d="M3 27h1v1h-1zM10 28h1v1h-1zM10 29h1v1h-1z"/><path fill="#c2161a" d="M4 27h1v1h-1zM23 27h1v1h-1zM25 27h1v1h-1z"/><path fill="#c6161e" d="M5 27h1v1h-1zM24 27h1v1h-1zM26 27h1v1h-1z"/><path fill="#be161a" d="M6 27h2v1h-2zM28 27h2v1h-2zM27 28h1v1h-1zM27 29h1v1h-1z"/><path fill="#ce1a1e" d="M8 27h1v1h-1zM10 27h2v1h-2zM13 27h2v1h-2zM17 27h1v1h-1zM20 27h1v1h-1zM22 27h1v1h-1z"/><path fill="#ca1a1e" d="M9 27h1v1h-1zM12 27h1v1h-1zM15 27h1v1h-1zM18 27h2v1h-2zM21 27h1v1h-1z"/><path fill="#ce1e1e" d="M16 27h1v1h-1z"/><path fill="#d62222" d="M27 27h1v1h-1z"/><path fill="#960a12" d="M3 28h1v1h-1zM3 29h1v1h-1z"/><path fill="#b6121a" d="M8 28h1v1h-1zM11 28h3v1h-3zM15 28h4v1h-4zM20 28h2v1h-2zM8 29h1v1h-1zM11 29h3v1h-3zM15 29h4v1h-4zM20 29h2v1h-2z"/><path fill="#b2121a" d="M9 28h1v1h-1zM14 28h1v1h-1zM19 28h1v1h-1zM22 28h1v1h-1zM9 29h1v1h-1zM14 29h1v1h-1zM19 29h1v1h-1zM22 29h1v1h-1z"/><path fill="#a60e16" d="M28 28h2v1h-2zM28 29h2v1h-2z"/></g></g></g>
<rect x="381" y="339.2" width="137" height="136.6" fill="none" stroke="#200" stroke-opacity=".75" stroke-width=".7"/>
<clipPath id="hc7"><rect x="557" y="339.2" width="137.8" height="136.6"/></clipPath><g clip-path="url(#hc7)"><g filter="url(#bl)"><g transform="translate(552.08,334.32) scale(4.9214,4.8786)" shape-rendering="crispEdges"><path fill="#72020e" d="M0 0h2v1h-2zM0 1h2v1h-2zM0 2h2v1h-2zM0 3h2v1h-2z"/><path fill="#a20e16" d="M2 0h1v1h-1zM2 1h1v1h-1zM2 5h1v1h-1zM28 28h2v1h-2zM28 29h2v1h-2z"/><path fill="#fa6e4e" d="M3 0h1v1h-1zM3 1h1v1h-1zM3 3h1v1h-1zM3 4h1v1h-1zM4 7h1v1h-1zM8 8h4v1h-4zM8 9h1v1h-1zM8 11h1v1h-1zM20 11h1v1h-1zM8 13h1v1h-1zM20 13h1v1h-1zM20 14h1v1h-1zM20 15h1v1h-1zM8 16h1v1h-1zM20 16h1v1h-1zM8 17h1v1h-1zM8 20h1v1h-1zM9 21h1v1h-1zM17 21h3v1h-3zM7 22h1v1h-1zM23 22h1v1h-1zM25 22h2v1h-2z"/><path fill="#fa7e5e" d="M4 0h1v1h-1zM23 0h1v1h-1zM4 1h1v1h-1zM23 1h1v1h-1zM4 2h1v1h-1zM23 2h1v1h-1zM4 3h1v1h-1zM7 4h1v1h-1zM23 4h1v1h-1zM26 4h1v1h-1zM28 4h2v1h-2zM5 5h1v1h-1zM17 5h1v1h-1zM5 6h1v1h-1zM6 11h1v1h-1zM4 12h1v1h-1zM28 12h2v1h-2zM6 14h1v1h-1zM28 14h2v1h-2zM6 15h1v1h-1zM28 17h2v1h-2zM6 19h1v1h-1zM28 19h2v1h-2zM6 21h1v1h-1zM10 22h1v1h-1zM8 23h1v1h-1zM12 23h1v1h-1zM14 23h3v1h-3zM22 23h1v1h-1z"/><path fill="#ff7e5e" d="M5 0h1v1h-1zM5 1h1v1h-1zM7 2h1v1h-1zM23 3h1v1h-1zM4 4h1v1h-1zM25 4h1v1h-1zM20 6h1v1h-1zM6 8h1v1h-1zM28 8h2v1h-2zM6 9h1v1h-1zM6 12h1v1h-1zM24 12h1v1h-1zM6 13h1v1h-1zM24 13h1v1h-1zM28 15h2v1h-2zM7 16h1v1h-1zM28 16h2v1h-2zM6 18h1v1h-1zM28 18h2v1h-2zM6 20h1v1h-1zM23 20h1v1h-1zM28 20h2v1h-2zM28 21h2v1h-2zM13 23h1v1h-1zM20 23h2v1h-2z"/><path fill="#fa7656" d="M6 0h1v1h-1zM24 0h1v1h-1zM6 1h1v1h-1zM24 1h1v1h-1zM28 2h2v1h-2zM6 3h1v1h-1zM6 5h1v1h-1zM23 5h2v1h-2zM26 5h1v1h-1zM28 5h2v1h-2zM6 6h2v1h-2zM21 8h1v1h-1zM21 9h2v1h-2zM21 10h2v1h-2zM22 11h1v1h-1zM3 12h1v1h-1zM3 15h1v1h-1zM22 15h1v1h-1zM3 17h1v1h-1zM21 17h2v1h-2zM22 18h1v1h-1zM3 19h1v1h-1zM22 19h1v1h-1zM3 20h1v1h-1zM21 20h2v1h-2zM20 21h3v1h-3zM13 22h1v1h-1zM17 22h1v1h-1zM22 22h1v1h-1zM7 23h1v1h-1zM23 23h3v1h-3zM3 26h1v1h-1z"/><path fill="#fa7a5a" d="M7 0h1v1h-1zM25 0h2v1h-2zM28 0h2v1h-2zM7 1h1v1h-1zM25 1h2v1h-2zM28 1h2v1h-2zM6 2h1v1h-1zM24 2h3v1h-3zM7 3h1v1h-1zM24 3h3v1h-3zM28 3h2v1h-2zM6 4h1v1h-1zM24 4h1v1h-1zM4 5h1v1h-1zM7 5h1v1h-1zM25 5h1v1h-1zM4 6h1v1h-1zM23 6h4v1h-4zM22 8h1v1h-1zM8 22h2v1h-2zM11 22h2v1h-2zM14 22h3v1h-3zM18 22h4v1h-4zM4 23h2v1h-2zM11 23h1v1h-1zM3 25h1v1h-1z"/><path fill="#ff8666" d="M8 0h3v1h-3zM12 0h2v1h-2zM15 0h3v1h-3zM19 0h1v1h-1zM21 0h2v1h-2zM8 1h3v1h-3zM12 1h2v1h-2zM15 1h3v1h-3zM19 1h1v1h-1zM21 1h2v1h-2zM8 2h4v1h-4zM13 2h10v1h-10zM8 3h1v1h-1zM10 3h3v1h-3zM14 3h1v1h-1zM16 3h7v1h-7zM8 4h1v1h-1zM10 4h1v1h-1zM12 4h11v1h-11zM9 5h1v1h-1zM12 5h2v1h-2zM18 5h2v1h-2zM21 5h1v1h-1zM8 6h3v1h-3zM12 6h1v1h-1zM15 6h3v1h-3zM19 6h1v1h-1zM4 8h2v1h-2zM23 8h1v1h-1zM4 9h2v1h-2zM7 9h1v1h-1zM23 9h1v1h-1zM25 9h2v1h-2zM4 10h2v1h-2zM23 10h1v1h-1zM4 11h2v1h-2zM25 11h1v1h-1zM5 12h1v1h-1zM7 12h1v1h-1zM4 13h2v1h-2zM5 14h1v1h-1zM25 14h1v1h-1zM5 15h1v1h-1zM5 16h1v1h-1zM23 16h3v1h-3zM4 17h2v1h-2zM7 17h1v1h-1zM23 17h1v1h-1zM25 17h1v1h-1zM5 18h1v1h-1zM7 18h1v1h-1zM24 18h1v1h-1zM26 18h1v1h-1zM4 19h1v1h-1zM23 19h2v1h-2zM5 20h1v1h-1zM7 20h1v1h-1zM26 20h1v1h-1zM27 22h1v1h-1zM4 24h1v1h-1zM7 24h1v1h-1zM23 24h1v1h-1zM25 24h2v1h-2zM4 25h1v1h-1zM6 25h2v1h-2zM23 25h1v1h-1zM25 25h2v1h-2zM28 25h2v1h-2zM4 26h2v1h-2zM7 26h1v1h-1zM23 26h4v1h-4zM28 26h2v1h-2z"/><path fill="#ff8262" d="M11 0h1v1h-1zM18 0h1v1h-1zM20 0h1v1h-1zM11 1h1v1h-1zM18 1h1v1h-1zM20 1h1v1h-1zM5 2h1v1h-1zM12 2h1v1h-1zM5 3h1v1h-1zM9 3h1v1h-1zM15 3h1v1h-1zM5 4h1v1h-1zM9 4h1v1h-1zM11 4h1v1h-1zM8 5h1v1h-1zM10 5h2v1h-2zM14 5h3v1h-3zM20 5h1v1h-1zM22 5h1v1h-1zM11 6h1v1h-1zM13 6h2v1h-2zM18 6h1v1h-1zM21 6h2v1h-2zM27 7h1v1h-1zM7 8h1v1h-1zM24 8h3v1h-3zM24 9h1v1h-1zM28 9h2v1h-2zM6 10h2v1h-2zM24 10h3v1h-3zM28 10h2v1h-2zM7 11h1v1h-1zM23 11h2v1h-2zM26 11h1v1h-1zM28 11h2v1h-2zM23 12h1v1h-1zM25 12h2v1h-2zM7 13h1v1h-1zM23 13h1v1h-1zM25 13h2v1h-2zM28 13h2v1h-2zM7 14h1v1h-1zM23 14h2v1h-2zM26 14h1v1h-1zM4 15h1v1h-1zM7 15h1v1h-1zM23 15h4v1h-4zM6 16h1v1h-1zM26 16h1v1h-1zM6 17h1v1h-1zM24 17h1v1h-1zM26 17h1v1h-1zM4 18h1v1h-1zM23 18h1v1h-1zM25 18h1v1h-1zM7 19h1v1h-1zM25 19h2v1h-2zM4 20h1v1h-1zM24 20h2v1h-2zM4 21h2v1h-2zM7 21h1v1h-1zM23 21h4v1h-4zM9 23h2v1h-2zM17 23h3v1h-3zM6 24h1v1h-1zM28 24h2v1h-2zM6 26h1v1h-1z"/><path fill="#ff8a6a" d="M14 0h1v1h-1zM14 1h1v1h-1zM13 3h1v1h-1zM4 14h1v1h-1zM4 16h1v1h-1zM5 19h1v1h-1zM5 24h1v1h-1zM10 24h2v1h-2zM24 24h1v1h-1zM24 25h1v1h-1zM13 26h1v1h-1z"/><path fill="#ff9272" d="M27 0h1v1h-1zM27 1h1v1h-1zM27 2h1v1h-1zM27 3h1v1h-1zM12 24h2v1h-2zM16 24h1v1h-1zM18 24h2v1h-2zM21 24h1v1h-1zM9 25h2v1h-2zM12 25h1v1h-1zM14 25h3v1h-3zM20 25h3v1h-3zM15 26h1v1h-1zM17 26h1v1h-1zM21 26h2v1h-2z"/><path fill="#aa1216" d="M2 2h1v1h-1zM2 8h1v1h-1zM2 9h1v1h-1zM2 10h1v1h-1zM2 12h1v1h-1zM2 13h1v1h-1zM2 14h1v1h-1zM2 15h1v1h-1zM2 16h1v1h-1zM2 18h1v1h-1zM2 19h1v1h-1zM2 20h1v1h-1zM4 28h2v1h-2zM24 28h3v1h-3zM4 29h2v1h-2zM24 29h3v1h-3z"/><path fill="#fa6a4a" d="M3 2h1v1h-1zM3 5h1v1h-1zM5 7h1v1h-1zM7 7h1v1h-1zM24 7h1v1h-1zM26 7h1v1h-1zM28 7h2v1h-2zM12 8h8v1h-8zM9 9h3v1h-3zM8 10h2v1h-2zM9 11h1v1h-1zM8 12h2v1h-2zM20 12h1v1h-1zM8 14h1v1h-1zM8 15h1v1h-1zM9 16h1v1h-1zM8 18h1v1h-1zM9 19h3v1h-3zM9 20h4v1h-4zM14 20h1v1h-1zM19 20h1v1h-1zM10 21h4v1h-4zM15 21h1v1h-1zM6 22h1v1h-1zM28 22h2v1h-2z"/><path fill="#a60e16" d="M2 3h1v1h-1zM2 4h1v1h-1zM6 28h2v1h-2zM23 28h1v1h-1zM6 29h2v1h-2zM23 29h1v1h-1z"/><path fill="#6e020e" d="M0 4h2v1h-2zM0 5h2v1h-2zM0 6h2v1h-2z"/><path fill="#ff8e6e" d="M27 4h1v1h-1zM27 5h1v1h-1zM27 6h1v1h-1zM27 23h1v1h-1zM8 24h2v1h-2zM14 24h2v1h-2zM17 24h1v1h-1zM20 24h1v1h-1zM22 24h1v1h-1zM5 25h1v1h-1zM11 25h1v1h-1zM13 25h1v1h-1zM19 25h1v1h-1zM8 26h5v1h-5zM16 26h1v1h-1zM18 26h3v1h-3z"/><path fill="#9e0e16" d="M2 6h1v1h-1z"/><path fill="#fa6646" d="M3 6h1v1h-1zM23 7h1v1h-1zM16 9h1v1h-1zM16 10h1v1h-1zM9 13h1v1h-1zM19 16h1v1h-1zM10 17h1v1h-1zM9 18h2v1h-2zM12 19h1v1h-1zM18 19h2v1h-2zM16 20h1v1h-1zM3 23h1v1h-1z"/><path fill="#fa7252" d="M28 6h2v1h-2zM3 8h1v1h-1zM20 8h1v1h-1zM3 9h1v1h-1zM20 9h1v1h-1zM3 10h1v1h-1zM20 10h1v1h-1zM3 11h1v1h-1zM21 11h1v1h-1zM21 12h2v1h-2zM3 13h1v1h-1zM21 13h2v1h-2zM3 14h1v1h-1zM21 14h2v1h-2zM21 15h1v1h-1zM3 16h1v1h-1zM21 16h2v1h-2zM20 17h1v1h-1zM3 18h1v1h-1zM20 18h2v1h-2zM8 19h1v1h-1zM20 19h2v1h-2zM20 20h1v1h-1zM3 21h1v1h-1zM8 21h1v1h-1zM4 22h2v1h-2zM24 22h1v1h-1zM6 23h1v1h-1zM26 23h1v1h-1zM28 23h2v1h-2zM3 24h1v1h-1z"/><path fill="#66020e" d="M0 7h2v1h-2zM0 22h2v1h-2zM0 23h2v1h-2zM0 27h3v1h-3zM0 28h3v1h-3zM0 29h3v1h-3z"/><path fill="#860612" d="M2 7h1v1h-1zM0 14h2v1h-2z"/><path fill="#f65a42" d="M3 7h1v1h-1zM15 13h1v1h-1zM17 13h1v1h-1zM15 14h1v1h-1zM18 14h1v1h-1zM14 15h1v1h-1zM17 16h1v1h-1z"/><path fill="#fa6246" d="M6 7h1v1h-1zM8 7h3v1h-3zM12 7h5v1h-5zM18 7h2v1h-2zM21 7h2v1h-2zM12 9h1v1h-1zM14 9h2v1h-2zM17 9h2v1h-2zM10 10h1v1h-1zM12 10h4v1h-4zM17 10h3v1h-3zM10 11h3v1h-3zM15 11h1v1h-1zM17 11h1v1h-1zM19 11h1v1h-1zM10 12h3v1h-3zM18 12h2v1h-2zM10 13h2v1h-2zM16 13h1v1h-1zM10 14h1v1h-1zM12 14h1v1h-1zM19 14h1v1h-1zM10 15h1v1h-1zM19 15h1v1h-1zM10 16h3v1h-3zM11 17h1v1h-1zM18 17h2v1h-2zM11 18h2v1h-2zM18 18h2v1h-2zM13 19h3v1h-3zM17 19h1v1h-1zM15 20h1v1h-1zM17 20h2v1h-2z"/><path fill="#fa5e42" d="M11 7h1v1h-1zM17 7h1v1h-1zM20 7h1v1h-1zM13 11h2v1h-2zM16 11h1v1h-1zM18 11h1v1h-1zM13 12h1v1h-1zM15 12h1v1h-1zM12 13h2v1h-2zM19 13h1v1h-1zM13 14h1v1h-1zM11 15h3v1h-3zM18 16h1v1h-1zM12 17h1v1h-1zM14 17h2v1h-2zM14 18h4v1h-4zM3 22h1v1h-1z"/><path fill="#fa664a" d="M25 7h1v1h-1zM13 9h1v1h-1zM19 9h1v1h-1zM11 10h1v1h-1zM9 14h1v1h-1zM9 15h1v1h-1zM9 17h1v1h-1zM16 19h1v1h-1zM13 20h1v1h-1zM14 21h1v1h-1zM16 21h1v1h-1z"/><path fill="#820612" d="M0 8h2v1h-2zM0 10h2v1h-2zM0 26h2v1h-2z"/><path fill="#ff9a7a" d="M27 8h1v1h-1zM27 9h1v1h-1zM27 10h1v1h-1zM27 13h1v1h-1zM27 14h1v1h-1zM27 17h1v1h-1zM27 19h1v1h-1zM27 20h1v1h-1zM27 21h1v1h-1z"/><path fill="#7e0612" d="M0 9h2v1h-2zM0 13h2v1h-2zM0 16h2v1h-2zM0 17h2v1h-2zM0 18h2v1h-2zM0 24h2v1h-2z"/><path fill="#7a0612" d="M0 11h2v1h-2zM0 12h2v1h-2zM0 19h2v1h-2zM0 21h2v1h-2z"/><path fill="#ae1216" d="M2 11h1v1h-1zM2 17h1v1h-1zM2 21h1v1h-1zM2 26h1v1h-1zM14 28h1v1h-1zM17 28h1v1h-1zM20 28h1v1h-1zM22 28h1v1h-1zM14 29h1v1h-1zM17 29h1v1h-1zM20 29h1v1h-1zM22 29h1v1h-1z"/><path fill="#ff9676" d="M27 11h1v1h-1zM27 18h1v1h-1zM8 25h1v1h-1zM17 25h2v1h-2zM14 26h1v1h-1z"/><path fill="#f65e42" d="M14 12h1v1h-1zM16 12h1v1h-1zM14 13h1v1h-1zM11 14h1v1h-1zM14 14h1v1h-1zM17 14h1v1h-1zM15 15h2v1h-2zM18 15h1v1h-1zM13 16h2v1h-2zM13 17h1v1h-1zM17 17h1v1h-1zM13 18h1v1h-1z"/><path fill="#f65a3e" d="M17 12h1v1h-1zM18 13h1v1h-1zM16 14h1v1h-1zM17 15h1v1h-1zM15 16h2v1h-2zM16 17h1v1h-1z"/><path fill="#ff9a7e" d="M27 12h1v1h-1zM27 16h1v1h-1zM27 24h1v1h-1zM27 26h1v1h-1z"/><path fill="#76060e" d="M0 15h2v1h-2z"/><path fill="#ff9e7e" d="M27 15h1v1h-1z"/><path fill="#7a060e" d="M0 20h2v1h-2z"/><path fill="#8e0a12" d="M2 22h1v1h-1zM3 28h1v1h-1zM3 29h1v1h-1z"/><path fill="#9a0e16" d="M2 23h1v1h-1z"/><path fill="#b21216" d="M2 24h1v1h-1zM11 28h1v1h-1zM11 29h1v1h-1z"/><path fill="#8a0a12" d="M0 25h2v1h-2z"/><path fill="#b2121a" d="M2 25h1v1h-1zM3 27h1v1h-1zM8 28h3v1h-3zM12 28h2v1h-2zM15 28h2v1h-2zM18 28h2v1h-2zM21 28h1v1h-1zM8 29h3v1h-3zM12 29h2v1h-2zM15 29h2v1h-2zM18 29h2v1h-2zM21 29h1v1h-1z"/><path fill="#ff9e82" d="M27 25h1v1h-1z"/><path fill="#c2161a" d="M4 27h1v1h-1zM26 27h1v1h-1z"/><path fill="#c6161e" d="M5 27h1v1h-1zM12 27h1v1h-1z"/><path fill="#be161a" d="M6 27h2v1h-2zM23 27h3v1h-3zM28 27h2v1h-2zM27 28h1v1h-1zM27 29h1v1h-1z"/><path fill="#ca1a1e" d="M8 27h2v1h-2zM11 27h1v1h-1zM13 27h1v1h-1zM17 27h5v1h-5z"/><path fill="#ca161e" d="M10 27h1v1h-1zM14 27h1v1h-1zM16 27h1v1h-1zM22 27h1v1h-1z"/><path fill="#ce1a1e" d="M15 27h1v1h-1z"/><path fill="#d62222" d="M27 27h1v1h-1z"/></g></g></g>
<rect x="557" y="339.2" width="137.8" height="136.6" fill="none" stroke="#200" stroke-opacity=".75" stroke-width=".7"/>
<clipPath id="hc8"><rect x="733" y="339.2" width="137.8" height="136.6"/></clipPath><g clip-path="url(#hc8)"><g filter="url(#bl)"><g transform="translate(728.08,334.32) scale(4.9214,4.8786)" shape-rendering="crispEdges"><path fill="#76020e" d="M0 0h2v1h-2zM0 1h2v1h-2zM0 2h2v1h-2zM0 3h2v1h-2zM0 4h2v1h-2zM0 5h2v1h-2zM0 6h2v1h-2zM0 7h2v1h-2zM0 8h2v1h-2zM0 9h2v1h-2zM0 10h2v1h-2zM0 11h2v1h-2zM0 12h2v1h-2zM0 13h2v1h-2zM0 14h2v1h-2zM0 15h2v1h-2zM0 16h2v1h-2zM0 17h2v1h-2zM0 18h2v1h-2zM0 19h2v1h-2zM0 20h2v1h-2zM0 21h2v1h-2zM0 22h2v1h-2zM0 23h2v1h-2zM0 24h2v1h-2zM0 25h2v1h-2zM0 26h2v1h-2zM0 27h2v1h-2zM0 28h2v1h-2zM0 29h2v1h-2z"/><path fill="#ea362a" d="M2 0h1v1h-1zM28 0h2v1h-2zM2 1h1v1h-1zM28 1h2v1h-2zM2 2h1v1h-1zM28 2h2v1h-2zM2 3h1v1h-1zM28 3h2v1h-2zM2 4h1v1h-1zM28 4h2v1h-2zM2 5h1v1h-1zM28 5h2v1h-2zM2 6h1v1h-1zM28 6h2v1h-2zM2 7h1v1h-1zM28 7h2v1h-2zM2 8h1v1h-1zM28 8h2v1h-2zM2 9h1v1h-1zM28 9h2v1h-2zM2 10h1v1h-1zM12 10h2v1h-2zM15 10h1v1h-1zM17 10h1v1h-1zM28 10h2v1h-2zM2 11h1v1h-1zM28 11h2v1h-2zM2 12h1v1h-1zM13 12h1v1h-1zM28 12h2v1h-2zM2 13h1v1h-1zM28 13h2v1h-2zM2 14h1v1h-1zM10 14h1v1h-1zM28 14h2v1h-2zM2 15h1v1h-1zM11 15h1v1h-1zM28 15h2v1h-2zM2 16h1v1h-1zM28 16h2v1h-2zM2 17h1v1h-1zM11 17h1v1h-1zM28 17h2v1h-2zM2 18h1v1h-1zM11 18h1v1h-1zM17 18h1v1h-1zM28 18h2v1h-2zM2 19h1v1h-1zM11 19h1v1h-1zM13 19h1v1h-1zM28 19h2v1h-2zM2 20h1v1h-1zM28 20h2v1h-2zM2 21h1v1h-1zM28 21h2v1h-2zM2 22h1v1h-1zM28 22h2v1h-2zM2 23h1v1h-1zM11 23h2v1h-2zM28 23h2v1h-2zM2 24h1v1h-1zM28 24h2v1h-2zM2 25h1v1h-1zM28 25h2v1h-2zM2 26h1v1h-1zM28 26h2v1h-2zM2 27h1v1h-1zM28 27h2v1h-2zM28 28h2v1h-2zM28 29h2v1h-2z"/><path fill="#fa7e5e" d="M3 0h24v1h-24zM3 1h24v1h-24z"/><path fill="#fa6246" d="M27 0h1v1h-1zM27 1h1v1h-1zM27 2h1v1h-1zM27 3h1v1h-1zM27 4h1v1h-1zM27 5h1v1h-1zM27 6h1v1h-1zM27 7h1v1h-1zM27 8h1v1h-1zM27 9h1v1h-1zM27 10h1v1h-1zM27 11h1v1h-1zM27 12h1v1h-1zM27 13h1v1h-1zM27 14h1v1h-1zM27 15h1v1h-1zM27 16h1v1h-1zM27 17h1v1h-1zM27 18h1v1h-1zM27 19h1v1h-1zM27 20h1v1h-1zM27 21h1v1h-1zM27 22h1v1h-1zM27 23h1v1h-1zM27 24h1v1h-1zM27 25h1v1h-1zM27 26h1v1h-1zM27 27h1v1h-1z"/><path fill="#fa7656" d="M3 2h24v1h-24zM20 6h3v1h-3z"/><path fill="#fa6a4a" d="M3 3h1v1h-1zM7 3h10v1h-10zM18 3h8v1h-8zM3 4h8v1h-8zM12 4h2v1h-2zM16 4h5v1h-5zM22 4h4v1h-4zM3 5h7v1h-7zM13 5h4v1h-4zM18 5h1v1h-1zM20 5h3v1h-3zM24 5h3v1h-3zM3 6h3v1h-3zM10 6h9v1h-9zM24 6h1v1h-1zM3 7h3v1h-3zM8 7h1v1h-1zM19 7h1v1h-1zM24 7h3v1h-3zM3 8h3v1h-3zM13 8h1v1h-1zM16 8h1v1h-1zM24 8h3v1h-3zM4 9h1v1h-1zM15 9h1v1h-1zM17 9h1v1h-1zM19 9h1v1h-1zM24 9h3v1h-3zM3 10h1v1h-1zM25 10h2v1h-2zM3 11h3v1h-3zM24 11h2v1h-2zM4 12h2v1h-2zM18 12h1v1h-1zM24 12h1v1h-1zM26 12h1v1h-1zM3 13h3v1h-3zM13 13h1v1h-1zM17 13h1v1h-1zM24 13h3v1h-3zM4 14h2v1h-2zM15 14h3v1h-3zM25 14h2v1h-2zM3 15h1v1h-1zM5 15h1v1h-1zM18 15h1v1h-1zM24 15h1v1h-1zM26 15h1v1h-1zM3 16h3v1h-3zM24 16h3v1h-3zM3 17h3v1h-3zM24 17h3v1h-3zM4 18h1v1h-1zM18 18h1v1h-1zM24 18h3v1h-3zM3 19h3v1h-3zM16 19h1v1h-1zM25 19h2v1h-2zM3 20h3v1h-3zM11 20h2v1h-2zM24 20h2v1h-2zM3 21h3v1h-3zM24 21h3v1h-3zM3 22h3v1h-3zM9 22h1v1h-1zM25 22h2v1h-2zM3 23h3v1h-3zM18 23h1v1h-1zM24 23h1v1h-1zM26 23h1v1h-1zM3 24h1v1h-1zM6 24h13v1h-13zM21 24h1v1h-1zM23 24h3v1h-3zM4 25h1v1h-1zM6 25h2v1h-2zM9 25h4v1h-4zM14 25h2v1h-2zM18 25h6v1h-6zM25 25h2v1h-2zM4 26h1v1h-1zM6 26h2v1h-2zM9 26h11v1h-11zM21 26h2v1h-2zM26 26h1v1h-1z"/><path fill="#fa6e4e" d="M4 3h3v1h-3zM17 3h1v1h-1zM26 3h1v1h-1zM11 4h1v1h-1zM15 4h1v1h-1zM21 4h1v1h-1zM26 4h1v1h-1zM10 5h3v1h-3zM17 5h1v1h-1zM19 5h1v1h-1zM23 5h1v1h-1zM25 6h2v1h-2zM3 9h1v1h-1zM5 9h1v1h-1zM4 10h2v1h-2zM24 10h1v1h-1zM3 12h1v1h-1zM25 12h1v1h-1zM4 15h1v1h-1zM25 15h1v1h-1zM3 18h1v1h-1zM24 19h1v1h-1zM26 20h1v1h-1zM24 22h1v1h-1zM25 23h1v1h-1zM4 24h2v1h-2zM19 24h2v1h-2zM22 24h1v1h-1zM26 24h1v1h-1zM3 25h1v1h-1zM5 25h1v1h-1zM8 25h1v1h-1zM13 25h1v1h-1zM16 25h1v1h-1zM24 25h1v1h-1zM5 26h1v1h-1zM8 26h1v1h-1zM20 26h1v1h-1zM24 26h2v1h-2z"/><path fill="#fa664a" d="M14 4h1v1h-1zM26 11h1v1h-1zM3 14h1v1h-1zM24 14h1v1h-1zM5 18h1v1h-1zM17 25h1v1h-1zM3 26h1v1h-1zM23 26h1v1h-1z"/><path fill="#fa7a5a" d="M6 6h2v1h-2zM23 7h1v1h-1zM9 8h1v1h-1zM14 8h2v1h-2zM17 8h1v1h-1zM23 8h1v1h-1zM18 9h1v1h-1zM23 9h1v1h-1zM9 10h1v1h-1zM23 10h1v1h-1zM20 11h1v1h-1zM23 11h1v1h-1zM9 12h1v1h-1zM19 12h1v1h-1zM23 12h1v1h-1zM12 13h1v1h-1zM14 13h1v1h-1zM16 13h1v1h-1zM23 13h1v1h-1zM9 14h1v1h-1zM18 14h1v1h-1zM23 14h1v1h-1zM9 15h1v1h-1zM23 15h1v1h-1zM23 16h1v1h-1zM23 17h1v1h-1zM9 18h1v1h-1zM23 18h1v1h-1zM17 19h1v1h-1zM23 19h1v1h-1zM10 20h1v1h-1zM13 20h3v1h-3zM23 20h1v1h-1zM23 21h1v1h-1zM6 22h3v1h-3zM19 22h1v1h-1zM19 23h1v1h-1z"/><path fill="#fa7252" d="M8 6h2v1h-2zM19 6h1v1h-1zM23 6h1v1h-1zM23 22h1v1h-1zM6 23h4v1h-4zM21 23h3v1h-3z"/><path fill="#ff8666" d="M6 7h2v1h-2zM9 17h1v1h-1zM6 21h1v1h-1zM10 21h2v1h-2zM15 21h2v1h-2zM22 22h1v1h-1zM20 23h1v1h-1z"/><path fill="#f24632" d="M9 7h1v1h-1zM12 8h1v1h-1zM11 9h1v1h-1zM13 9h1v1h-1zM18 10h2v1h-2zM10 11h1v1h-1zM11 12h1v1h-1zM15 12h2v1h-2zM10 15h1v1h-1zM14 15h2v1h-2zM10 16h1v1h-1zM10 17h1v1h-1zM15 19h1v1h-1zM18 22h1v1h-1zM13 23h1v1h-1zM15 23h1v1h-1z"/><path fill="#ae1216" d="M10 7h1v1h-1zM13 7h4v1h-4zM13 22h1v1h-1zM16 22h1v1h-1z"/><path fill="#8a0a12" d="M11 7h1v1h-1z"/><path fill="#aa1216" d="M12 7h1v1h-1z"/><path fill="#b6121a" d="M17 7h1v1h-1zM15 22h1v1h-1z"/><path fill="#ca1a1e" d="M18 7h1v1h-1zM12 14h1v1h-1zM15 16h2v1h-2zM13 17h1v1h-1z"/><path fill="#ff8a6a" d="M20 7h1v1h-1zM22 7h1v1h-1zM6 8h1v1h-1zM8 8h1v1h-1zM19 8h1v1h-1zM20 10h1v1h-1zM9 11h1v1h-1zM22 11h1v1h-1zM11 13h1v1h-1zM18 13h2v1h-2zM19 14h1v1h-1zM6 15h1v1h-1zM19 15h1v1h-1zM9 16h1v1h-1zM19 16h1v1h-1zM19 17h1v1h-1zM19 18h1v1h-1zM18 19h1v1h-1zM6 20h1v1h-1zM16 20h2v1h-2zM7 21h1v1h-1zM9 21h1v1h-1zM12 21h3v1h-3zM17 21h1v1h-1zM20 22h2v1h-2z"/><path fill="#ff9272" d="M21 7h1v1h-1zM6 14h1v1h-1zM6 16h1v1h-1zM6 18h1v1h-1zM6 19h1v1h-1zM22 21h1v1h-1z"/><path fill="#ff9a7e" d="M7 8h1v1h-1zM18 8h1v1h-1zM6 9h1v1h-1zM6 10h1v1h-1zM22 10h1v1h-1zM6 11h1v1h-1zM6 12h1v1h-1zM6 13h1v1h-1zM10 13h1v1h-1zM15 13h1v1h-1zM6 17h1v1h-1zM8 18h1v1h-1zM9 19h1v1h-1zM19 19h1v1h-1zM18 20h1v1h-1zM8 21h1v1h-1zM18 21h1v1h-1z"/><path fill="#f65a3e" d="M10 8h2v1h-2zM10 9h1v1h-1zM14 9h1v1h-1zM16 9h1v1h-1zM10 12h1v1h-1zM17 12h1v1h-1zM14 14h1v1h-1zM18 16h1v1h-1zM18 17h1v1h-1zM10 19h1v1h-1zM10 23h1v1h-1zM17 23h1v1h-1z"/><path fill="#ffaa8e" d="M20 8h1v1h-1zM22 8h1v1h-1zM7 9h1v1h-1zM9 9h1v1h-1zM20 9h1v1h-1zM22 9h1v1h-1zM7 10h2v1h-2zM7 11h1v1h-1zM21 11h1v1h-1zM7 12h2v1h-2zM20 12h1v1h-1zM22 12h1v1h-1zM22 13h1v1h-1zM7 14h1v1h-1zM22 14h1v1h-1zM7 15h2v1h-2zM20 17h1v1h-1zM22 17h1v1h-1zM7 18h1v1h-1zM20 18h1v1h-1zM22 18h1v1h-1zM22 19h1v1h-1zM7 20h1v1h-1zM9 20h1v1h-1zM22 20h1v1h-1zM19 21h1v1h-1zM21 21h1v1h-1z"/><path fill="#ffcab6" d="M21 8h1v1h-1zM20 13h1v1h-1zM20 15h1v1h-1zM8 16h1v1h-1zM8 20h1v1h-1z"/><path fill="#ffbaa2" d="M8 9h1v1h-1zM7 13h1v1h-1zM8 14h1v1h-1zM20 14h1v1h-1zM22 15h1v1h-1zM7 16h1v1h-1zM22 16h1v1h-1zM8 17h1v1h-1zM7 19h1v1h-1zM20 19h1v1h-1zM19 20h1v1h-1zM20 21h1v1h-1z"/><path fill="#f23e2e" d="M12 9h1v1h-1zM11 10h1v1h-1zM14 10h1v1h-1zM11 11h1v1h-1zM12 12h1v1h-1zM14 12h1v1h-1zM13 15h1v1h-1zM16 15h1v1h-1zM11 16h1v1h-1zM14 19h1v1h-1zM2 28h26v1h-26zM2 29h26v1h-26z"/><path fill="#ffeade" d="M21 9h1v1h-1zM21 17h1v1h-1z"/><path fill="#f24e36" d="M10 10h1v1h-1zM17 15h1v1h-1zM10 18h1v1h-1zM14 23h1v1h-1zM16 23h1v1h-1z"/><path fill="#de2a26" d="M16 10h1v1h-1zM18 11h1v1h-1zM12 15h1v1h-1zM12 16h1v1h-1zM12 18h5v1h-5zM12 19h1v1h-1z"/><path fill="#ffdaca" d="M21 10h1v1h-1zM8 19h1v1h-1zM20 20h1v1h-1z"/><path fill="#ffe6da" d="M8 11h1v1h-1zM21 12h1v1h-1zM9 13h1v1h-1zM21 18h1v1h-1zM21 19h1v1h-1zM21 20h1v1h-1z"/><path fill="#be161a" d="M12 11h2v1h-2zM14 22h1v1h-1zM17 22h1v1h-1z"/><path fill="#c2161a" d="M14 11h1v1h-1zM14 17h1v1h-1z"/><path fill="#d22222" d="M15 11h2v1h-2zM19 11h1v1h-1zM14 16h1v1h-1zM12 17h1v1h-1zM15 17h2v1h-2z"/><path fill="#da2622" d="M17 11h1v1h-1zM11 14h1v1h-1zM13 14h1v1h-1zM13 16h1v1h-1zM17 16h1v1h-1zM17 17h1v1h-1zM10 22h1v1h-1z"/><path fill="#fff2ea" d="M8 13h1v1h-1zM21 16h1v1h-1z"/><path fill="#ffeee6" d="M21 13h1v1h-1zM21 15h1v1h-1zM20 16h1v1h-1z"/><path fill="#ffe2d6" d="M21 14h1v1h-1z"/><path fill="#ffc6ae" d="M7 17h1v1h-1z"/><path fill="#a20e16" d="M11 22h1v1h-1z"/><path fill="#9a0e12" d="M12 22h1v1h-1z"/><path fill="#f65a42" d="M3 27h24v1h-24z"/></g></g></g>
<rect x="733" y="339.2" width="137.8" height="136.6" fill="none" stroke="#200" stroke-opacity=".75" stroke-width=".7"/>
<clipPath id="hc9"><rect x="200.2" y="509.3" width="137.8" height="137.7"/></clipPath><g clip-path="url(#hc9)"><g filter="url(#bl)"><g transform="translate(195.28,504.38) scale(4.9214,4.9179)" shape-rendering="crispEdges"><path fill="#c2161a" d="M0 0h2v1h-2zM17 0h1v1h-1zM0 1h2v1h-2zM17 1h1v1h-1zM7 23h1v1h-1zM12 28h1v1h-1zM22 28h1v1h-1zM12 29h1v1h-1zM22 29h1v1h-1z"/><path fill="#ce1e1e" d="M2 0h2v1h-2zM2 1h2v1h-2z"/><path fill="#f6563e" d="M4 0h1v1h-1zM4 1h1v1h-1zM8 2h1v1h-1zM26 2h1v1h-1zM21 4h1v1h-1zM17 7h1v1h-1zM10 8h1v1h-1zM2 9h1v1h-1zM12 9h1v1h-1zM22 9h1v1h-1zM10 10h1v1h-1zM19 12h1v1h-1zM27 13h1v1h-1zM10 14h1v1h-1zM17 20h1v1h-1z"/><path fill="#a60e16" d="M5 0h1v1h-1zM5 1h1v1h-1zM28 8h2v1h-2zM28 14h2v1h-2zM28 26h2v1h-2z"/><path fill="#f24a36" d="M6 0h1v1h-1zM6 1h1v1h-1zM14 2h1v1h-1zM25 2h1v1h-1zM12 4h1v1h-1zM22 4h1v1h-1zM18 5h1v1h-1zM9 9h1v1h-1zM17 9h1v1h-1zM19 11h1v1h-1zM9 13h1v1h-1zM17 13h1v1h-1zM5 18h1v1h-1zM7 19h1v1h-1zM7 21h1v1h-1zM28 22h2v1h-2zM18 26h1v1h-1z"/><path fill="#aa1216" d="M7 0h1v1h-1zM23 0h1v1h-1zM7 1h1v1h-1zM23 1h1v1h-1zM28 5h2v1h-2zM28 10h2v1h-2zM28 18h2v1h-2zM28 21h2v1h-2zM19 28h1v1h-1zM19 29h1v1h-1z"/><path fill="#e22e26" d="M8 0h1v1h-1zM13 0h1v1h-1zM26 0h1v1h-1zM8 1h1v1h-1zM13 1h1v1h-1zM26 1h1v1h-1zM0 2h2v1h-2zM9 2h1v1h-1zM5 9h1v1h-1zM7 9h1v1h-1zM18 9h1v1h-1zM5 20h1v1h-1zM2 23h1v1h-1zM15 23h1v1h-1zM28 24h2v1h-2zM10 27h1v1h-1z"/><path fill="#be161a" d="M9 0h1v1h-1zM9 1h1v1h-1zM28 6h2v1h-2zM28 15h2v1h-2zM5 23h1v1h-1zM18 23h1v1h-1zM23 23h1v1h-1z"/><path fill="#b6121a" d="M10 0h1v1h-1zM10 1h1v1h-1zM17 28h1v1h-1zM17 29h1v1h-1z"/><path fill="#da2622" d="M11 0h1v1h-1zM21 0h1v1h-1zM11 1h1v1h-1zM21 1h1v1h-1zM23 13h1v1h-1zM28 16h2v1h-2zM17 23h1v1h-1zM23 27h1v1h-1zM20 28h1v1h-1zM24 28h1v1h-1zM20 29h1v1h-1zM24 29h1v1h-1z"/><path fill="#d21e1e" d="M12 0h1v1h-1zM12 1h1v1h-1zM18 2h1v1h-1zM23 4h1v1h-1zM14 28h1v1h-1zM21 28h1v1h-1zM14 29h1v1h-1zM21 29h1v1h-1z"/><path fill="#de2a26" d="M14 0h1v1h-1zM14 1h1v1h-1zM10 4h1v1h-1zM23 9h1v1h-1zM3 23h1v1h-1zM16 23h1v1h-1zM27 23h1v1h-1zM18 27h1v1h-1z"/><path fill="#ce1a1e" d="M15 0h1v1h-1zM15 1h1v1h-1zM7 2h1v1h-1zM19 23h1v1h-1z"/><path fill="#ca161e" d="M16 0h1v1h-1zM27 0h1v1h-1zM16 1h1v1h-1zM27 1h1v1h-1z"/><path fill="#ae1216" d="M18 0h1v1h-1zM18 1h1v1h-1z"/><path fill="#ba161a" d="M19 0h1v1h-1zM19 1h1v1h-1zM16 28h1v1h-1zM27 28h1v1h-1zM16 29h1v1h-1zM27 29h1v1h-1z"/><path fill="#e6322a" d="M20 0h1v1h-1zM20 1h1v1h-1zM27 2h1v1h-1zM0 4h2v1h-2zM5 7h1v1h-1zM5 11h1v1h-1zM23 20h1v1h-1zM22 23h1v1h-1zM19 27h1v1h-1z"/><path fill="#d22222" d="M22 0h1v1h-1zM22 1h1v1h-1z"/><path fill="#ea362a" d="M24 0h1v1h-1zM24 1h1v1h-1zM15 2h1v1h-1zM17 2h1v1h-1zM9 4h1v1h-1zM17 4h1v1h-1zM7 7h1v1h-1zM23 7h1v1h-1zM10 9h1v1h-1zM18 11h1v1h-1zM10 13h1v1h-1zM18 13h1v1h-1zM7 20h1v1h-1zM11 23h1v1h-1zM0 27h2v1h-2zM6 28h1v1h-1zM6 29h1v1h-1z"/><path fill="#d62222" d="M25 0h1v1h-1zM25 1h1v1h-1zM10 2h1v1h-1zM7 4h1v1h-1zM18 4h1v1h-1zM0 23h2v1h-2zM9 23h1v1h-1zM5 27h1v1h-1zM13 28h1v1h-1zM26 28h1v1h-1zM13 29h1v1h-1zM26 29h1v1h-1z"/><path fill="#66020e" d="M28 0h2v1h-2zM28 1h2v1h-2zM28 2h2v1h-2zM28 4h2v1h-2zM28 23h2v1h-2zM28 28h2v1h-2zM28 29h2v1h-2z"/><path fill="#ee3a2a" d="M2 2h1v1h-1zM16 2h1v1h-1zM28 3h2v1h-2zM18 7h1v1h-1zM25 23h1v1h-1z"/><path fill="#f24232" d="M3 2h1v1h-1zM23 5h1v1h-1zM5 8h1v1h-1zM0 9h2v1h-2zM0 13h2v1h-2zM18 19h1v1h-1zM18 20h1v1h-1zM5 26h1v1h-1zM4 28h1v1h-1zM4 29h1v1h-1z"/><path fill="#fa7e5e" d="M4 2h1v1h-1zM11 5h1v1h-1zM9 6h1v1h-1zM26 7h1v1h-1zM13 11h1v1h-1zM14 12h1v1h-1zM9 15h1v1h-1zM17 15h1v1h-1zM7 17h1v1h-1zM11 26h1v1h-1z"/><path fill="#ca1a1e" d="M5 2h1v1h-1zM23 2h1v1h-1zM28 17h2v1h-2zM10 23h1v1h-1zM11 28h1v1h-1zM25 28h1v1h-1zM11 29h1v1h-1zM25 29h1v1h-1z"/><path fill="#fa7252" d="M6 2h1v1h-1zM16 5h1v1h-1zM19 6h1v1h-1zM8 7h1v1h-1zM14 7h1v1h-1zM21 7h1v1h-1zM25 7h1v1h-1zM2 8h1v1h-1zM16 8h1v1h-1zM27 8h1v1h-1zM20 9h1v1h-1zM26 9h1v1h-1zM2 10h1v1h-1zM16 10h1v1h-1zM14 11h1v1h-1zM21 11h1v1h-1zM25 11h1v1h-1zM2 12h2v1h-2zM15 12h1v1h-1zM22 12h1v1h-1zM20 13h1v1h-1zM24 13h1v1h-1zM26 13h1v1h-1zM27 14h1v1h-1zM5 17h1v1h-1zM23 17h1v1h-1zM16 18h1v1h-1zM27 18h1v1h-1zM3 19h1v1h-1zM15 19h1v1h-1zM14 20h1v1h-1zM21 20h1v1h-1zM25 20h1v1h-1zM16 21h1v1h-1zM12 26h1v1h-1zM16 26h1v1h-1zM24 27h1v1h-1z"/><path fill="#f24632" d="M11 2h1v1h-1zM2 4h1v1h-1zM15 4h1v1h-1zM5 5h1v1h-1zM19 7h1v1h-1zM23 10h1v1h-1zM7 12h1v1h-1zM5 14h1v1h-1zM23 14h1v1h-1zM23 18h1v1h-1zM10 20h1v1h-1zM23 21h1v1h-1zM8 23h1v1h-1zM13 23h1v1h-1zM26 23h1v1h-1zM23 26h1v1h-1zM16 27h1v1h-1zM27 27h1v1h-1z"/><path fill="#f23e2e" d="M12 2h1v1h-1zM27 4h1v1h-1zM19 9h1v1h-1zM5 12h1v1h-1zM18 12h1v1h-1zM23 12h1v1h-1zM9 27h1v1h-1zM17 27h1v1h-1z"/><path fill="#f65a3e" d="M13 2h1v1h-1zM8 4h1v1h-1zM10 5h1v1h-1zM27 7h1v1h-1zM15 9h1v1h-1zM9 11h1v1h-1zM16 11h2v1h-2zM3 13h1v1h-1zM11 13h2v1h-2zM22 13h1v1h-1zM5 15h1v1h-1zM10 18h1v1h-1zM19 19h1v1h-1zM11 27h1v1h-1z"/><path fill="#da2a26" d="M19 2h1v1h-1zM5 13h1v1h-1zM7 27h1v1h-1z"/><path fill="#f65e42" d="M20 2h1v1h-1zM24 2h1v1h-1zM16 7h1v1h-1zM0 12h2v1h-2zM23 15h1v1h-1zM0 19h2v1h-2zM19 21h1v1h-1zM10 26h1v1h-1zM14 27h1v1h-1zM25 27h1v1h-1z"/><path fill="#f64e3a" d="M21 2h1v1h-1zM11 4h1v1h-1zM7 8h1v1h-1zM18 8h1v1h-1zM16 9h1v1h-1zM18 10h1v1h-1zM0 11h2v1h-2zM7 14h1v1h-1zM7 18h1v1h-1zM18 18h1v1h-1zM10 19h1v1h-1zM0 20h2v1h-2zM7 26h1v1h-1zM3 27h1v1h-1zM15 27h1v1h-1z"/><path fill="#ee3a2e" d="M22 2h1v1h-1zM16 4h1v1h-1z"/><path fill="#ffae92" d="M0 3h2v1h-2zM4 10h1v1h-1zM4 14h1v1h-1zM15 16h1v1h-1zM22 16h1v1h-1zM21 17h1v1h-1zM4 21h1v1h-1zM10 22h1v1h-1zM16 24h1v1h-1zM25 25h1v1h-1z"/><path fill="#ffc6ae" d="M2 3h1v1h-1z"/><path fill="#ffc2aa" d="M3 3h1v1h-1zM12 3h1v1h-1zM15 3h1v1h-1zM22 3h1v1h-1zM4 15h1v1h-1zM20 16h1v1h-1zM26 16h1v1h-1zM16 22h2v1h-2zM25 24h1v1h-1zM24 25h1v1h-1z"/><path fill="#ffeae2" d="M4 3h1v1h-1z"/><path fill="#ff9272" d="M5 3h1v1h-1zM23 3h1v1h-1zM11 6h1v1h-1zM6 7h1v1h-1zM20 8h1v1h-1zM4 9h1v1h-1zM13 10h1v1h-1zM24 10h1v1h-1zM6 11h1v1h-1zM24 12h1v1h-1zM4 13h1v1h-1zM13 14h1v1h-1zM24 14h1v1h-1zM24 18h1v1h-1zM24 19h1v1h-1zM6 20h1v1h-1zM7 24h1v1h-1zM0 25h2v1h-2zM19 25h1v1h-1zM24 26h1v1h-1z"/><path fill="#ffe6de" d="M6 3h1v1h-1z"/><path fill="#ff9e7e" d="M7 3h1v1h-1zM8 6h1v1h-1zM13 6h2v1h-2zM8 15h1v1h-1zM9 16h1v1h-1zM2 17h1v1h-1zM12 17h1v1h-1zM15 17h1v1h-1zM22 17h1v1h-1zM6 19h1v1h-1zM4 20h1v1h-1zM10 24h1v1h-1zM16 25h1v1h-1z"/><path fill="#ffd2be" d="M8 3h1v1h-1zM22 22h1v1h-1zM6 25h1v1h-1z"/><path fill="#ffb69a" d="M9 3h1v1h-1zM6 6h1v1h-1zM6 15h1v1h-1zM11 16h1v1h-1zM22 24h1v1h-1z"/><path fill="#ffa686" d="M10 3h1v1h-1zM6 8h1v1h-1zM11 17h1v1h-1zM18 22h1v1h-1zM23 22h1v1h-1zM12 25h1v1h-1zM6 26h1v1h-1z"/><path fill="#ffcab6" d="M11 3h1v1h-1zM25 3h1v1h-1zM12 22h1v1h-1zM15 22h1v1h-1zM8 24h1v1h-1zM13 24h1v1h-1z"/><path fill="#ffd6c2" d="M13 3h1v1h-1zM21 3h1v1h-1zM26 3h1v1h-1z"/><path fill="#ffceba" d="M14 3h1v1h-1zM24 16h1v1h-1zM2 22h2v1h-2zM20 24h1v1h-1zM26 24h1v1h-1z"/><path fill="#ffbea6" d="M16 3h1v1h-1zM27 3h1v1h-1zM4 6h1v1h-1zM8 16h1v1h-1zM13 16h1v1h-1zM21 16h1v1h-1zM9 22h1v1h-1zM11 24h1v1h-1zM13 25h1v1h-1z"/><path fill="#ffba9e" d="M17 3h1v1h-1zM14 16h1v1h-1zM0 22h2v1h-2zM2 24h1v1h-1zM12 24h1v1h-1zM15 24h1v1h-1zM8 25h1v1h-1z"/><path fill="#ff9a7a" d="M18 3h1v1h-1zM21 6h1v1h-1zM14 15h1v1h-1zM21 15h1v1h-1zM0 16h2v1h-2zM19 16h1v1h-1z"/><path fill="#ffaa8e" d="M19 3h1v1h-1zM4 5h1v1h-1zM4 12h1v1h-1zM24 15h1v1h-1zM2 16h2v1h-2zM4 19h1v1h-1zM7 22h1v1h-1zM17 24h1v1h-1zM11 25h1v1h-1z"/><path fill="#ffd2c2" d="M20 3h1v1h-1zM4 17h1v1h-1z"/><path fill="#ffdaca" d="M24 3h1v1h-1zM14 22h1v1h-1zM21 22h1v1h-1zM25 22h1v1h-1zM4 25h1v1h-1z"/><path fill="#f2422e" d="M3 4h1v1h-1zM10 7h1v1h-1zM5 10h1v1h-1zM10 11h1v1h-1zM23 19h1v1h-1zM14 23h1v1h-1z"/><path fill="#ff8666" d="M4 4h1v1h-1zM14 5h1v1h-1zM21 5h1v1h-1zM25 5h1v1h-1zM2 6h1v1h-1zM24 7h1v1h-1zM14 8h1v1h-1zM21 8h1v1h-1zM6 9h1v1h-1zM8 10h1v1h-1zM14 10h1v1h-1zM8 12h1v1h-1zM20 12h1v1h-1zM26 12h1v1h-1zM6 13h1v1h-1zM14 14h1v1h-1zM16 15h1v1h-1zM7 16h1v1h-1zM18 16h1v1h-1zM19 17h1v1h-1zM14 18h1v1h-1zM13 19h1v1h-1zM20 19h1v1h-1zM24 20h1v1h-1zM8 21h1v1h-1zM14 21h1v1h-1zM21 21h1v1h-1zM23 24h1v1h-1zM10 25h1v1h-1zM14 26h1v1h-1zM21 26h1v1h-1zM25 26h1v1h-1z"/><path fill="#d21e22" d="M5 4h1v1h-1zM28 25h2v1h-2zM8 28h1v1h-1zM8 29h1v1h-1z"/><path fill="#fa7656" d="M6 4h1v1h-1zM2 5h1v1h-1zM12 5h1v1h-1zM15 5h1v1h-1zM15 8h1v1h-1zM22 8h1v1h-1zM3 10h1v1h-1zM22 10h1v1h-1zM26 11h1v1h-1zM11 12h1v1h-1zM12 14h1v1h-1zM22 14h1v1h-1zM0 15h2v1h-2zM18 17h1v1h-1zM2 18h2v1h-2zM12 18h1v1h-1zM15 18h1v1h-1zM22 18h1v1h-1zM11 19h1v1h-1zM8 20h1v1h-1zM2 21h2v1h-2zM12 21h1v1h-1zM22 21h1v1h-1zM2 26h2v1h-2zM15 26h1v1h-1zM22 26h1v1h-1z"/><path fill="#fa5e42" d="M13 4h1v1h-1zM26 4h1v1h-1zM19 5h1v1h-1zM5 6h1v1h-1zM23 6h1v1h-1zM17 12h1v1h-1zM19 18h1v1h-1zM16 20h1v1h-1zM22 20h1v1h-1zM27 20h1v1h-1zM0 26h2v1h-2z"/><path fill="#f6523a" d="M14 4h1v1h-1zM25 4h1v1h-1zM7 5h1v1h-1zM9 7h1v1h-1zM7 10h1v1h-1zM27 11h1v1h-1zM10 12h1v1h-1zM2 13h1v1h-1zM15 13h1v1h-1zM18 14h1v1h-1zM9 20h1v1h-1zM10 21h1v1h-1zM24 23h1v1h-1zM2 27h1v1h-1z"/><path fill="#e63226" d="M19 4h1v1h-1zM23 11h1v1h-1zM7 13h1v1h-1zM12 23h1v1h-1z"/><path fill="#fa6246" d="M20 4h1v1h-1zM7 6h1v1h-1zM19 8h1v1h-1zM11 9h1v1h-1zM21 9h1v1h-1zM17 10h1v1h-1zM19 10h1v1h-1zM2 11h2v1h-2zM12 11h1v1h-1zM15 11h1v1h-1zM9 12h1v1h-1zM9 14h1v1h-1zM19 14h1v1h-1zM18 15h1v1h-1zM9 19h1v1h-1zM17 19h1v1h-1zM2 20h2v1h-2zM6 23h1v1h-1zM9 26h1v1h-1zM19 26h1v1h-1z"/><path fill="#fa6a4a" d="M24 4h1v1h-1zM9 5h1v1h-1zM17 5h1v1h-1zM10 6h1v1h-1zM15 7h1v1h-1zM22 7h1v1h-1zM9 8h1v1h-1zM17 8h1v1h-1zM14 9h1v1h-1zM16 12h1v1h-1zM8 13h1v1h-1zM21 13h1v1h-1zM0 18h2v1h-2zM9 18h1v1h-1zM27 19h1v1h-1zM11 20h1v1h-1zM15 20h1v1h-1zM4 23h1v1h-1zM17 26h1v1h-1zM13 27h1v1h-1zM26 27h1v1h-1z"/><path fill="#fa664a" d="M0 5h2v1h-2zM18 6h1v1h-1zM2 7h1v1h-1zM12 7h1v1h-1zM0 10h2v1h-2zM27 12h1v1h-1zM0 14h2v1h-2zM7 15h1v1h-1zM16 19h1v1h-1zM9 21h1v1h-1zM21 27h1v1h-1z"/><path fill="#fa7a5a" d="M3 5h1v1h-1zM22 5h1v1h-1zM0 6h2v1h-2zM17 6h1v1h-1zM13 7h1v1h-1zM20 7h1v1h-1zM3 8h1v1h-1zM12 8h1v1h-1zM24 9h1v1h-1zM12 10h1v1h-1zM15 10h1v1h-1zM8 11h1v1h-1zM20 11h1v1h-1zM2 14h2v1h-2zM15 14h1v1h-1zM25 19h1v1h-1zM13 20h1v1h-1zM20 20h1v1h-1zM26 20h1v1h-1zM15 21h1v1h-1zM5 25h1v1h-1zM7 25h1v1h-1zM23 25h1v1h-1z"/><path fill="#ffa68a" d="M6 5h1v1h-1zM24 6h1v1h-1zM6 10h1v1h-1zM6 14h1v1h-1zM16 16h1v1h-1zM27 16h1v1h-1zM25 17h1v1h-1zM6 18h1v1h-1zM9 24h1v1h-1zM15 25h1v1h-1z"/><path fill="#ff8a6a" d="M8 5h1v1h-1zM3 6h1v1h-1zM15 6h1v1h-1zM22 6h1v1h-1zM8 8h1v1h-1zM21 10h1v1h-1zM13 12h1v1h-1zM8 14h1v1h-1zM2 15h1v1h-1zM12 15h1v1h-1zM15 15h1v1h-1zM22 15h1v1h-1zM0 17h2v1h-2zM9 17h1v1h-1zM8 26h1v1h-1zM13 26h1v1h-1zM4 27h1v1h-1z"/><path fill="#ff8e6e" d="M13 5h1v1h-1zM20 5h1v1h-1zM26 5h1v1h-1zM12 6h1v1h-1zM13 8h1v1h-1zM26 8h1v1h-1zM20 10h1v1h-1zM26 10h1v1h-1zM20 14h1v1h-1zM26 14h1v1h-1zM3 15h1v1h-1zM11 15h1v1h-1zM10 16h1v1h-1zM17 17h1v1h-1zM8 18h1v1h-1zM13 18h1v1h-1zM20 18h1v1h-1zM26 18h1v1h-1zM13 21h1v1h-1zM20 21h1v1h-1zM26 21h1v1h-1zM5 24h1v1h-1zM18 24h1v1h-1zM20 26h1v1h-1zM26 26h1v1h-1z"/><path fill="#ff9676" d="M24 5h1v1h-1zM25 6h1v1h-1zM24 8h1v1h-1zM25 15h1v1h-1zM16 17h1v1h-1zM27 17h1v1h-1zM24 21h1v1h-1zM9 25h1v1h-1zM17 25h1v1h-1z"/><path fill="#fa6e4e" d="M27 5h1v1h-1zM11 7h1v1h-1zM8 9h1v1h-1zM13 9h1v1h-1zM9 10h1v1h-1zM27 10h1v1h-1zM11 11h1v1h-1zM12 12h1v1h-1zM13 13h1v1h-1zM16 14h1v1h-1zM10 15h1v1h-1zM19 15h1v1h-1zM2 19h1v1h-1zM12 19h1v1h-1zM22 19h1v1h-1zM27 21h1v1h-1zM27 26h1v1h-1zM20 27h1v1h-1z"/><path fill="#ff8262" d="M16 6h1v1h-1zM11 8h1v1h-1zM25 8h1v1h-1zM25 10h1v1h-1zM21 12h1v1h-1zM25 12h1v1h-1zM11 14h1v1h-1zM21 14h1v1h-1zM25 14h1v1h-1zM27 15h1v1h-1zM5 16h1v1h-1zM23 16h1v1h-1zM10 17h1v1h-1zM11 18h1v1h-1zM21 18h1v1h-1zM25 18h1v1h-1zM8 19h1v1h-1zM21 19h1v1h-1zM26 19h1v1h-1zM11 21h1v1h-1zM25 21h1v1h-1zM6 27h1v1h-1z"/><path fill="#ffa282" d="M20 6h1v1h-1zM26 6h1v1h-1zM20 15h1v1h-1zM26 15h1v1h-1zM19 24h1v1h-1zM3 25h1v1h-1zM22 25h1v1h-1z"/><path fill="#ff7e5e" d="M27 6h1v1h-1zM11 10h1v1h-1zM24 11h1v1h-1zM14 19h1v1h-1zM18 25h1v1h-1z"/><path fill="#f24e36" d="M0 7h2v1h-2zM23 8h1v1h-1zM27 9h1v1h-1zM16 13h1v1h-1zM19 20h1v1h-1zM18 21h1v1h-1zM12 27h1v1h-1zM22 27h1v1h-1z"/><path fill="#fa6646" d="M3 7h1v1h-1zM0 8h2v1h-2zM25 9h1v1h-1zM22 11h1v1h-1zM14 13h1v1h-1zM25 13h1v1h-1zM17 14h1v1h-1zM17 18h1v1h-1zM12 20h1v1h-1zM0 21h2v1h-2zM17 21h1v1h-1zM8 27h1v1h-1z"/><path fill="#ff9e82" d="M4 7h1v1h-1zM6 12h1v1h-1zM17 16h1v1h-1zM3 17h1v1h-1z"/><path fill="#920a12" d="M28 7h2v1h-2zM28 11h2v1h-2z"/><path fill="#ffb296" d="M4 8h1v1h-1zM12 16h1v1h-1zM8 17h1v1h-1zM14 17h1v1h-1zM26 17h1v1h-1zM4 18h1v1h-1zM14 25h1v1h-1zM21 25h1v1h-1zM4 26h1v1h-1z"/><path fill="#f65a42" d="M3 9h1v1h-1z"/><path fill="#820612" d="M28 9h2v1h-2zM28 13h2v1h-2z"/><path fill="#ff9a7e" d="M4 11h1v1h-1zM27 25h1v1h-1z"/><path fill="#ee3e2e" d="M7 11h1v1h-1zM19 13h1v1h-1zM5 19h1v1h-1zM21 23h1v1h-1z"/><path fill="#a20e16" d="M28 12h2v1h-2zM10 28h1v1h-1zM10 29h1v1h-1z"/><path fill="#ffa286" d="M13 15h1v1h-1zM6 21h1v1h-1zM5 22h1v1h-1zM0 24h2v1h-2zM2 25h1v1h-1z"/><path fill="#ffdece" d="M4 16h1v1h-1zM8 22h1v1h-1z"/><path fill="#ffdac6" d="M6 16h1v1h-1z"/><path fill="#ffb69e" d="M25 16h1v1h-1zM3 24h1v1h-1z"/><path fill="#ffc6b2" d="M6 17h1v1h-1zM27 22h1v1h-1zM21 24h1v1h-1z"/><path fill="#ffb29a" d="M13 17h1v1h-1zM20 17h1v1h-1zM27 24h1v1h-1z"/><path fill="#ffbaa2" d="M24 17h1v1h-1zM19 22h1v1h-1zM26 25h1v1h-1z"/><path fill="#9e0e16" d="M28 19h2v1h-2zM18 28h1v1h-1zM18 29h1v1h-1z"/><path fill="#9a0e12" d="M28 20h2v1h-2z"/><path fill="#f24636" d="M5 21h1v1h-1zM20 23h1v1h-1z"/><path fill="#fff2ee" d="M4 22h1v1h-1z"/><path fill="#ffeee6" d="M6 22h1v1h-1z"/><path fill="#ffd6c6" d="M11 22h1v1h-1zM24 24h1v1h-1z"/><path fill="#ffdace" d="M13 22h1v1h-1z"/><path fill="#ffded2" d="M20 22h1v1h-1z"/><path fill="#ffe6da" d="M24 22h1v1h-1zM4 24h1v1h-1z"/><path fill="#ffe2d6" d="M26 22h1v1h-1z"/><path fill="#ffe2d2" d="M6 24h1v1h-1z"/><path fill="#ffcab2" d="M14 24h1v1h-1z"/><path fill="#ffbea2" d="M20 25h1v1h-1z"/><path fill="#76020e" d="M28 27h2v1h-2z"/><path fill="#b2121a" d="M0 28h2v1h-2zM9 28h1v1h-1zM0 29h2v1h-2zM9 29h1v1h-1z"/><path fill="#c6161e" d="M2 28h2v1h-2zM15 28h1v1h-1zM2 29h2v1h-2zM15 29h1v1h-1z"/><path fill="#8e0a12" d="M5 28h1v1h-1zM23 28h1v1h-1zM5 29h1v1h-1zM23 29h1v1h-1z"/><path fill="#9a0e16" d="M7 28h1v1h-1zM7 29h1v1h-1z"/></g></g></g>
<rect x="200.2" y="509.3" width="137.8" height="137.7" fill="none" stroke="#200" stroke-opacity=".75" stroke-width=".7"/>
<clipPath id="hc10"><rect x="377" y="509.3" width="136.9" height="137.7"/></clipPath><g clip-path="url(#hc10)"><g filter="url(#bl)"><g transform="translate(372.11,504.38) scale(4.8893,4.9179)" shape-rendering="crispEdges"><path fill="#ee3e2e" d="M0 0h2v1h-2zM0 1h2v1h-2z"/><path fill="#f64e3a" d="M2 0h1v1h-1zM9 0h1v1h-1zM2 1h1v1h-1zM9 1h1v1h-1zM0 2h2v1h-2zM14 2h1v1h-1zM3 4h1v1h-1zM17 4h1v1h-1zM18 13h1v1h-1zM0 14h2v1h-2zM11 14h1v1h-1zM5 16h1v1h-1zM10 17h1v1h-1zM10 21h1v1h-1zM5 24h1v1h-1zM5 27h1v1h-1zM11 28h1v1h-1zM11 29h1v1h-1z"/><path fill="#f65e42" d="M3 0h1v1h-1zM17 0h1v1h-1zM3 1h1v1h-1zM17 1h1v1h-1zM4 4h1v1h-1zM10 9h1v1h-1zM16 12h1v1h-1zM12 14h1v1h-1zM11 15h1v1h-1zM14 15h1v1h-1zM14 18h1v1h-1zM0 19h2v1h-2zM14 20h1v1h-1zM11 24h1v1h-1zM11 27h1v1h-1z"/><path fill="#fa6246" d="M4 0h1v1h-1zM7 0h1v1h-1zM13 0h1v1h-1zM15 0h1v1h-1zM21 0h1v1h-1zM4 1h1v1h-1zM7 1h1v1h-1zM13 1h1v1h-1zM15 1h1v1h-1zM21 1h1v1h-1zM9 2h1v1h-1zM6 4h1v1h-1zM22 4h1v1h-1zM0 6h2v1h-2zM19 7h1v1h-1zM0 8h2v1h-2zM11 8h1v1h-1zM14 8h1v1h-1zM5 9h1v1h-1zM0 10h2v1h-2zM11 10h1v1h-1zM12 12h1v1h-1zM23 13h1v1h-1zM2 14h1v1h-1zM9 14h1v1h-1zM0 15h2v1h-2zM16 19h1v1h-1zM0 20h2v1h-2zM0 22h2v1h-2zM27 23h1v1h-1zM16 26h1v1h-1zM0 27h2v1h-2zM9 28h1v1h-1zM9 29h1v1h-1z"/><path fill="#e63226" d="M5 0h1v1h-1zM5 1h1v1h-1zM18 19h1v1h-1zM27 27h1v1h-1z"/><path fill="#fa6e4e" d="M6 0h1v1h-1zM6 1h1v1h-1zM20 2h1v1h-1zM12 6h1v1h-1zM0 7h2v1h-2zM16 7h1v1h-1zM12 10h1v1h-1zM16 11h1v1h-1zM2 12h1v1h-1zM9 12h1v1h-1zM5 13h1v1h-1zM3 14h1v1h-1zM8 14h1v1h-1zM20 14h1v1h-1zM25 14h1v1h-1zM12 15h1v1h-1zM12 16h1v1h-1zM16 17h1v1h-1zM12 18h1v1h-1zM2 19h1v1h-1zM9 19h1v1h-1zM12 20h1v1h-1zM16 21h1v1h-1zM12 22h1v1h-1zM18 23h1v1h-1zM12 24h1v1h-1zM16 25h1v1h-1zM2 26h1v1h-1zM9 26h1v1h-1zM12 27h1v1h-1zM8 28h1v1h-1zM8 29h1v1h-1z"/><path fill="#f6563e" d="M8 0h1v1h-1zM8 1h1v1h-1zM21 4h1v1h-1zM19 6h1v1h-1zM19 10h1v1h-1zM10 11h1v1h-1zM16 14h1v1h-1zM19 16h1v1h-1zM11 19h1v1h-1zM14 19h1v1h-1zM19 20h1v1h-1zM5 21h1v1h-1zM19 22h1v1h-1zM5 25h1v1h-1zM19 27h1v1h-1z"/><path fill="#da2622" d="M10 0h1v1h-1zM10 1h1v1h-1zM18 2h1v1h-1zM18 14h1v1h-1z"/><path fill="#ee3a2a" d="M11 0h1v1h-1zM14 0h1v1h-1zM11 1h1v1h-1zM14 1h1v1h-1zM18 7h1v1h-1zM23 12h1v1h-1zM18 17h1v1h-1zM18 21h1v1h-1zM23 26h1v1h-1zM10 28h1v1h-1zM10 29h1v1h-1z"/><path fill="#f24632" d="M12 0h1v1h-1zM12 1h1v1h-1zM19 2h1v1h-1zM9 4h1v1h-1zM10 18h1v1h-1zM10 20h1v1h-1zM23 21h1v1h-1zM19 28h1v1h-1zM19 29h1v1h-1z"/><path fill="#f2422e" d="M16 0h1v1h-1zM16 1h1v1h-1zM5 2h1v1h-1zM23 8h1v1h-1zM23 10h1v1h-1zM23 15h1v1h-1zM23 24h1v1h-1z"/><path fill="#ca1a1e" d="M18 0h1v1h-1zM18 1h1v1h-1z"/><path fill="#e6322a" d="M19 0h1v1h-1zM19 1h1v1h-1zM23 2h1v1h-1zM14 4h1v1h-1zM18 8h1v1h-1zM18 12h1v1h-1zM27 22h1v1h-1zM18 27h1v1h-1zM23 28h1v1h-1zM23 29h1v1h-1z"/><path fill="#f65a3e" d="M20 0h1v1h-1zM20 1h1v1h-1zM16 2h1v1h-1zM13 4h1v1h-1zM15 4h1v1h-1zM19 8h1v1h-1zM11 12h1v1h-1zM14 12h1v1h-1zM19 15h1v1h-1zM0 26h2v1h-2zM14 26h1v1h-1z"/><path fill="#fa6a4a" d="M22 0h1v1h-1zM22 1h1v1h-1zM8 2h1v1h-1zM13 2h1v1h-1zM17 2h1v1h-1zM25 2h1v1h-1zM16 6h1v1h-1zM14 7h1v1h-1zM19 9h1v1h-1zM11 11h1v1h-1zM14 11h1v1h-1zM17 14h1v1h-1zM16 15h1v1h-1zM16 16h1v1h-1zM0 17h2v1h-2zM11 17h1v1h-1zM14 17h1v1h-1zM0 21h2v1h-2zM11 21h1v1h-1zM14 21h1v1h-1zM16 24h1v1h-1zM0 25h2v1h-2zM17 28h1v1h-1zM20 28h1v1h-1zM25 28h1v1h-1zM17 29h1v1h-1zM20 29h1v1h-1zM25 29h1v1h-1z"/><path fill="#da2a26" d="M23 0h1v1h-1zM23 1h1v1h-1zM27 19h1v1h-1z"/><path fill="#ff8262" d="M24 0h1v1h-1zM24 1h1v1h-1zM13 6h1v1h-1zM21 6h1v1h-1zM3 7h1v1h-1zM8 7h1v1h-1zM17 7h1v1h-1zM25 7h1v1h-1zM13 8h1v1h-1zM15 8h1v1h-1zM21 8h1v1h-1zM9 9h1v1h-1zM15 10h1v1h-1zM17 11h1v1h-1zM20 11h1v1h-1zM25 11h1v1h-1zM22 12h1v1h-1zM16 13h1v1h-1zM15 15h1v1h-1zM21 15h1v1h-1zM4 16h1v1h-1zM13 16h1v1h-1zM21 16h1v1h-1zM3 17h1v1h-1zM8 17h1v1h-1zM25 17h1v1h-1zM4 18h1v1h-1zM13 18h1v1h-1zM21 18h1v1h-1zM22 19h1v1h-1zM13 20h1v1h-1zM15 20h1v1h-1zM21 20h1v1h-1zM8 21h1v1h-1zM17 21h1v1h-1zM21 21h1v1h-1zM25 21h1v1h-1zM4 22h1v1h-1zM7 22h1v1h-1zM13 22h1v1h-1zM15 22h1v1h-1zM21 22h1v1h-1zM3 24h1v1h-1zM13 24h1v1h-1zM15 24h1v1h-1zM21 24h1v1h-1zM20 25h1v1h-1zM25 25h1v1h-1zM4 26h1v1h-1zM4 27h1v1h-1zM21 27h1v1h-1z"/><path fill="#f65a42" d="M25 0h1v1h-1zM25 1h1v1h-1zM5 7h1v1h-1zM5 11h1v1h-1zM0 12h2v1h-2zM5 17h1v1h-1zM19 18h1v1h-1zM11 26h1v1h-1zM12 28h1v1h-1zM12 29h1v1h-1z"/><path fill="#ff8666" d="M26 0h1v1h-1zM26 1h1v1h-1zM4 6h1v1h-1zM7 6h1v1h-1zM15 6h1v1h-1zM22 6h1v1h-1zM13 7h1v1h-1zM4 8h1v1h-1zM7 8h1v1h-1zM2 9h1v1h-1zM17 9h1v1h-1zM4 10h1v1h-1zM7 10h1v1h-1zM21 10h2v1h-2zM3 11h1v1h-1zM13 11h1v1h-1zM21 11h1v1h-1zM6 12h1v1h-1zM12 13h1v1h-1zM4 15h1v1h-1zM7 15h1v1h-1zM22 15h1v1h-1zM7 16h1v1h-1zM15 16h1v1h-1zM22 16h1v1h-1zM7 17h1v1h-1zM13 17h1v1h-1zM17 17h1v1h-1zM20 17h2v1h-2zM7 18h1v1h-1zM15 18h1v1h-1zM22 18h1v1h-1zM6 19h1v1h-1zM7 20h1v1h-1zM3 21h1v1h-1zM13 21h1v1h-1zM22 22h1v1h-1zM5 23h1v1h-1zM4 24h1v1h-1zM7 24h1v1h-1zM22 24h1v1h-1zM3 25h1v1h-1zM6 26h1v1h-1zM7 27h1v1h-1zM15 27h1v1h-1zM22 27h1v1h-1z"/><path fill="#c2161a" d="M27 0h1v1h-1zM27 1h1v1h-1z"/><path fill="#66020e" d="M28 0h2v1h-2zM28 1h2v1h-2zM28 4h2v1h-2z"/><path fill="#fa6646" d="M2 2h1v1h-1zM11 7h1v1h-1zM16 10h1v1h-1zM10 13h1v1h-1zM0 16h2v1h-2zM11 18h1v1h-1zM16 20h1v1h-1zM0 24h2v1h-2zM14 25h1v1h-1zM12 26h1v1h-1zM16 27h1v1h-1zM2 28h1v1h-1zM2 29h1v1h-1z"/><path fill="#fa7252" d="M3 2h2v1h-2zM7 2h1v1h-1zM21 2h1v1h-1zM9 6h1v1h-1zM2 8h1v1h-1zM12 8h1v1h-1zM0 9h2v1h-2zM11 9h1v1h-1zM14 9h1v1h-1zM9 10h1v1h-1zM17 12h1v1h-1zM20 12h1v1h-1zM25 12h1v1h-1zM19 13h1v1h-1zM7 14h1v1h-1zM13 14h1v1h-1zM21 14h1v1h-1zM9 15h1v1h-1zM2 16h1v1h-1zM8 19h1v1h-1zM17 19h1v1h-1zM20 19h1v1h-1zM25 19h1v1h-1zM2 20h1v1h-1zM9 20h1v1h-1zM12 21h1v1h-1zM2 22h1v1h-1zM2 24h1v1h-1zM8 26h1v1h-1zM20 26h1v1h-1zM9 27h1v1h-1zM3 28h1v1h-1zM7 28h1v1h-1zM21 28h2v1h-2zM3 29h1v1h-1zM7 29h1v1h-1zM21 29h2v1h-2z"/><path fill="#fa7e5e" d="M6 2h1v1h-1zM20 6h1v1h-1zM3 8h1v1h-1zM25 8h1v1h-1zM12 9h1v1h-1zM3 10h1v1h-1zM7 12h1v1h-1zM11 13h1v1h-1zM3 15h1v1h-1zM13 15h1v1h-1zM17 15h1v1h-1zM2 17h1v1h-1zM9 17h1v1h-1zM4 19h1v1h-1zM7 19h1v1h-1zM3 20h1v1h-1zM3 22h1v1h-1zM17 22h1v1h-1zM20 22h1v1h-1zM10 23h1v1h-1zM25 24h1v1h-1zM8 25h1v1h-1zM22 26h1v1h-1zM17 27h1v1h-1z"/><path fill="#ea362a" d="M10 2h1v1h-1zM28 3h2v1h-2zM0 4h2v1h-2zM11 4h1v1h-1zM28 5h2v1h-2zM18 6h1v1h-1zM27 7h1v1h-1zM18 10h1v1h-1zM27 11h1v1h-1zM10 14h1v1h-1zM23 14h1v1h-1zM18 15h1v1h-1zM18 16h1v1h-1zM27 17h1v1h-1zM18 18h1v1h-1zM18 20h1v1h-1zM27 21h1v1h-1zM18 22h1v1h-1zM18 24h1v1h-1zM27 25h1v1h-1z"/><path fill="#f24a36" d="M11 2h1v1h-1zM2 4h1v1h-1zM23 7h1v1h-1zM5 12h1v1h-1zM10 15h1v1h-1zM10 16h1v1h-1zM23 17h1v1h-1zM10 22h1v1h-1zM10 24h1v1h-1zM23 25h1v1h-1zM5 26h1v1h-1z"/><path fill="#fa5e42" d="M12 2h1v1h-1zM7 4h1v1h-1zM11 6h1v1h-1zM14 6h1v1h-1zM14 10h1v1h-1zM19 11h1v1h-1zM11 16h1v1h-1zM14 16h1v1h-1zM19 17h1v1h-1zM0 18h2v1h-2zM11 20h1v1h-1zM19 21h1v1h-1zM11 22h1v1h-1zM14 22h1v1h-1zM14 24h1v1h-1zM19 25h1v1h-1zM14 27h1v1h-1z"/><path fill="#fa7656" d="M15 2h1v1h-1zM22 2h1v1h-1zM2 6h1v1h-1zM12 7h1v1h-1zM9 8h1v1h-1zM2 10h1v1h-1zM25 10h1v1h-1zM12 11h1v1h-1zM8 12h1v1h-1zM14 13h1v1h-1zM4 14h1v1h-1zM22 14h1v1h-1zM2 15h1v1h-1zM12 17h1v1h-1zM2 18h1v1h-1zM9 18h1v1h-1zM20 18h1v1h-1zM8 22h1v1h-1zM25 22h1v1h-1zM23 23h1v1h-1zM9 24h1v1h-1zM12 25h1v1h-1zM13 26h1v1h-1zM17 26h1v1h-1zM25 26h1v1h-1zM2 27h1v1h-1zM8 27h1v1h-1zM20 27h1v1h-1zM4 28h1v1h-1zM13 28h1v1h-1zM15 28h1v1h-1zM4 29h1v1h-1zM13 29h1v1h-1zM15 29h1v1h-1z"/><path fill="#ff9676" d="M24 2h1v1h-1zM26 2h1v1h-1zM18 3h1v1h-1zM6 7h1v1h-1zM7 9h1v1h-1zM13 9h1v1h-1zM21 9h1v1h-1zM3 13h1v1h-1zM8 13h1v1h-1zM17 13h1v1h-1zM20 13h1v1h-1zM25 13h1v1h-1zM24 14h1v1h-1zM26 14h1v1h-1zM0 23h2v1h-2zM16 23h1v1h-1zM6 25h1v1h-1zM24 28h1v1h-1zM26 28h1v1h-1zM24 29h1v1h-1zM26 29h1v1h-1z"/><path fill="#d22222" d="M27 2h1v1h-1z"/><path fill="#76020e" d="M28 2h2v1h-2zM28 28h2v1h-2zM28 29h2v1h-2z"/><path fill="#ffbea6" d="M0 3h2v1h-2zM0 5h2v1h-2zM24 13h1v1h-1zM26 13h1v1h-1zM6 23h1v1h-1z"/><path fill="#ffceba" d="M2 3h1v1h-1zM9 3h1v1h-1zM9 5h1v1h-1z"/><path fill="#ffdaca" d="M3 3h1v1h-1zM13 3h1v1h-1zM13 5h1v1h-1zM21 5h1v1h-1z"/><path fill="#ffdece" d="M4 3h1v1h-1zM7 3h1v1h-1zM15 3h1v1h-1zM22 3h1v1h-1zM4 5h1v1h-1zM22 5h1v1h-1z"/><path fill="#ffae92" d="M5 3h1v1h-1zM24 11h1v1h-1zM3 23h1v1h-1zM13 23h1v1h-1zM26 25h1v1h-1z"/><path fill="#ffe2d6" d="M6 3h1v1h-1zM6 5h1v1h-1z"/><path fill="#ffd2be" d="M8 3h1v1h-1zM25 3h1v1h-1zM8 5h1v1h-1zM17 5h1v1h-1zM20 5h1v1h-1zM24 23h1v1h-1zM26 23h1v1h-1z"/><path fill="#ffa68a" d="M10 3h1v1h-1zM10 5h1v1h-1zM26 6h1v1h-1zM24 8h1v1h-1zM6 13h1v1h-1zM24 15h1v1h-1zM26 16h1v1h-1zM24 18h1v1h-1zM26 20h1v1h-1zM25 23h1v1h-1zM26 27h1v1h-1z"/><path fill="#ffba9e" d="M11 3h1v1h-1zM14 5h1v1h-1z"/><path fill="#ffc6ae" d="M12 3h1v1h-1z"/><path fill="#ffbea2" d="M14 3h1v1h-1z"/><path fill="#ffc2aa" d="M16 3h1v1h-1zM16 5h1v1h-1z"/><path fill="#ffd6c2" d="M17 3h1v1h-1z"/><path fill="#ffb29a" d="M19 3h1v1h-1z"/><path fill="#ffd6c6" d="M20 3h1v1h-1zM3 5h1v1h-1z"/><path fill="#ffdace" d="M21 3h1v1h-1z"/><path fill="#ffa282" d="M23 3h1v1h-1zM24 6h1v1h-1zM6 9h1v1h-1zM24 10h1v1h-1zM26 12h1v1h-1zM22 13h1v1h-1zM24 19h1v1h-1zM26 19h1v1h-1zM2 23h1v1h-1zM12 23h1v1h-1z"/><path fill="#fff2ea" d="M24 3h1v1h-1z"/><path fill="#ffeeea" d="M26 3h1v1h-1zM26 5h1v1h-1z"/><path fill="#ff8e6e" d="M27 3h1v1h-1zM6 6h1v1h-1zM22 7h1v1h-1zM3 9h2v1h-2zM8 9h1v1h-1zM6 10h1v1h-1zM4 11h1v1h-1zM15 11h1v1h-1zM22 11h1v1h-1zM2 13h1v1h-1zM9 13h1v1h-1zM6 15h1v1h-1zM6 16h1v1h-1zM22 17h1v1h-1zM6 18h1v1h-1zM6 20h1v1h-1zM22 21h1v1h-1zM6 22h1v1h-1zM6 24h1v1h-1z"/><path fill="#de2a26" d="M5 4h1v1h-1zM27 12h1v1h-1zM27 24h1v1h-1zM27 26h1v1h-1zM18 28h1v1h-1zM18 29h1v1h-1z"/><path fill="#f6523a" d="M8 4h1v1h-1zM20 4h1v1h-1zM25 4h1v1h-1zM5 6h1v1h-1zM10 7h1v1h-1zM5 8h1v1h-1zM23 9h1v1h-1zM5 10h1v1h-1zM19 12h1v1h-1zM5 15h1v1h-1zM5 18h1v1h-1zM19 19h1v1h-1zM5 20h1v1h-1zM5 22h1v1h-1zM19 24h1v1h-1zM10 25h1v1h-1zM19 26h1v1h-1zM0 28h2v1h-2zM14 28h1v1h-1zM16 28h1v1h-1zM0 29h2v1h-2zM14 29h1v1h-1zM16 29h1v1h-1z"/><path fill="#d21e1e" d="M10 4h1v1h-1zM23 4h1v1h-1zM27 14h1v1h-1z"/><path fill="#f24232" d="M12 4h1v1h-1zM23 6h1v1h-1zM18 9h1v1h-1zM10 12h1v1h-1zM19 14h1v1h-1zM23 16h1v1h-1zM23 18h1v1h-1zM5 19h1v1h-1zM23 22h1v1h-1zM10 26h1v1h-1zM23 27h1v1h-1z"/><path fill="#ee3a2e" d="M16 4h1v1h-1zM27 9h1v1h-1zM18 11h1v1h-1zM23 19h1v1h-1zM5 28h1v1h-1zM5 29h1v1h-1z"/><path fill="#c6161e" d="M18 4h1v1h-1zM28 23h2v1h-2z"/><path fill="#e22e26" d="M19 4h1v1h-1zM27 6h1v1h-1zM27 8h1v1h-1zM27 10h1v1h-1zM27 15h1v1h-1zM27 16h1v1h-1zM27 18h1v1h-1zM27 20h1v1h-1zM18 26h1v1h-1z"/><path fill="#ff7e5e" d="M24 4h1v1h-1zM20 7h1v1h-1zM13 10h1v1h-1zM8 11h1v1h-1zM3 18h1v1h-1zM15 19h1v1h-1zM20 21h1v1h-1zM7 26h1v1h-1zM15 26h1v1h-1zM3 27h1v1h-1zM13 27h1v1h-1zM6 28h1v1h-1zM6 29h1v1h-1z"/><path fill="#fa7a5a" d="M26 4h1v1h-1zM3 6h1v1h-1zM8 6h1v1h-1zM17 6h1v1h-1zM25 6h1v1h-1zM2 7h1v1h-1zM9 7h1v1h-1zM8 8h1v1h-1zM17 8h1v1h-1zM20 8h1v1h-1zM16 9h1v1h-1zM8 10h1v1h-1zM17 10h1v1h-1zM20 10h1v1h-1zM2 11h1v1h-1zM9 11h1v1h-1zM3 12h2v1h-2zM13 12h1v1h-1zM15 12h1v1h-1zM21 12h1v1h-1zM0 13h2v1h-2zM6 14h1v1h-1zM15 14h1v1h-1zM8 15h1v1h-1zM20 15h1v1h-1zM25 15h1v1h-1zM3 16h1v1h-1zM8 16h2v1h-2zM17 16h1v1h-1zM20 16h1v1h-1zM25 16h1v1h-1zM8 18h1v1h-1zM17 18h1v1h-1zM25 18h1v1h-1zM3 19h1v1h-1zM13 19h1v1h-1zM21 19h1v1h-1zM8 20h1v1h-1zM17 20h1v1h-1zM20 20h1v1h-1zM25 20h1v1h-1zM2 21h1v1h-1zM9 21h1v1h-1zM9 22h1v1h-1zM8 24h1v1h-1zM17 24h1v1h-1zM20 24h1v1h-1zM2 25h1v1h-1zM9 25h1v1h-1zM17 25h1v1h-1zM3 26h1v1h-1zM21 26h1v1h-1zM25 27h1v1h-1z"/><path fill="#be161a" d="M27 4h1v1h-1z"/><path fill="#ffcab6" d="M2 5h1v1h-1z"/><path fill="#ffaa8e" d="M5 5h1v1h-1zM24 7h1v1h-1zM26 7h1v1h-1zM26 11h1v1h-1zM24 17h1v1h-1zM26 17h1v1h-1zM24 21h1v1h-1zM26 21h1v1h-1zM8 23h1v1h-1zM17 23h1v1h-1zM20 23h1v1h-1zM24 25h1v1h-1z"/><path fill="#ffded2" d="M7 5h1v1h-1zM15 5h1v1h-1z"/><path fill="#ffbaa2" d="M11 5h1v1h-1z"/><path fill="#ffc6b2" d="M12 5h1v1h-1z"/><path fill="#ff9272" d="M18 5h1v1h-1zM6 8h1v1h-1zM15 9h1v1h-1zM6 11h1v1h-1zM6 17h1v1h-1zM6 21h1v1h-1zM11 23h1v1h-1zM14 23h1v1h-1zM6 27h1v1h-1z"/><path fill="#ffb69a" d="M19 5h1v1h-1zM7 23h1v1h-1zM15 23h1v1h-1z"/><path fill="#ff9e82" d="M23 5h1v1h-1zM4 13h1v1h-1zM15 13h1v1h-1zM24 26h1v1h-1z"/><path fill="#ffeee6" d="M24 5h1v1h-1z"/><path fill="#ffd2c2" d="M25 5h1v1h-1z"/><path fill="#ff8a6a" d="M27 5h1v1h-1zM4 7h1v1h-1zM7 7h1v1h-1zM15 7h1v1h-1zM21 7h1v1h-1zM22 8h1v1h-1zM20 9h1v1h-1zM25 9h1v1h-1zM7 11h1v1h-1zM4 17h1v1h-1zM15 17h1v1h-1zM4 20h1v1h-1zM22 20h1v1h-1zM4 21h1v1h-1zM7 21h1v1h-1zM15 21h1v1h-1zM19 23h1v1h-1zM4 25h1v1h-1zM7 25h1v1h-1zM13 25h1v1h-1zM15 25h1v1h-1zM21 25h2v1h-2z"/><path fill="#f24636" d="M10 6h1v1h-1zM10 8h1v1h-1zM10 10h1v1h-1zM23 11h1v1h-1zM27 13h1v1h-1zM10 27h1v1h-1z"/><path fill="#8e0a12" d="M28 6h2v1h-2zM28 10h2v1h-2zM28 15h2v1h-2zM28 16h2v1h-2z"/><path fill="#9e0e16" d="M28 7h2v1h-2z"/><path fill="#fa664a" d="M16 8h1v1h-1zM0 11h2v1h-2zM16 18h1v1h-1zM12 19h1v1h-1zM16 22h1v1h-1zM11 25h1v1h-1z"/><path fill="#ffa286" d="M26 8h1v1h-1zM26 10h1v1h-1zM26 18h1v1h-1zM24 20h1v1h-1zM9 23h1v1h-1z"/><path fill="#920a12" d="M28 8h2v1h-2zM28 18h2v1h-2zM28 22h2v1h-2z"/><path fill="#ff9a7a" d="M22 9h1v1h-1zM21 13h1v1h-1z"/><path fill="#ffb296" d="M24 9h1v1h-1zM26 9h1v1h-1zM21 23h1v1h-1z"/><path fill="#aa1216" d="M28 9h2v1h-2z"/><path fill="#9a0e16" d="M28 11h2v1h-2zM28 17h2v1h-2zM28 21h2v1h-2zM28 25h2v1h-2z"/><path fill="#ff9e7e" d="M24 12h1v1h-1zM7 13h1v1h-1z"/><path fill="#860a12" d="M28 12h2v1h-2z"/><path fill="#ff9a7e" d="M13 13h1v1h-1zM26 26h1v1h-1z"/><path fill="#ae1216" d="M28 13h2v1h-2z"/><path fill="#f23e2e" d="M5 14h1v1h-1zM10 19h1v1h-1zM23 20h1v1h-1zM18 25h1v1h-1z"/><path fill="#f24e36" d="M14 14h1v1h-1z"/><path fill="#72020e" d="M28 14h2v1h-2z"/><path fill="#ffa686" d="M26 15h1v1h-1zM24 16h1v1h-1zM24 22h1v1h-1zM26 22h1v1h-1zM24 24h1v1h-1zM26 24h1v1h-1zM24 27h1v1h-1z"/><path fill="#7a0612" d="M28 19h2v1h-2z"/><path fill="#8a0a12" d="M28 20h2v1h-2zM28 24h2v1h-2zM28 27h2v1h-2z"/><path fill="#ffb69e" d="M4 23h1v1h-1zM22 23h1v1h-1z"/><path fill="#860612" d="M28 26h2v1h-2z"/><path fill="#d62222" d="M27 28h1v1h-1zM27 29h1v1h-1z"/></g></g></g>
<rect x="377" y="509.3" width="136.9" height="137.7" fill="none" stroke="#200" stroke-opacity=".75" stroke-width=".7"/>
<clipPath id="hc11"><rect x="553.3" y="509.3" width="137.6" height="137.7"/></clipPath><g clip-path="url(#hc11)"><g filter="url(#bl)"><g transform="translate(548.39,504.38) scale(4.9143,4.9179)" shape-rendering="crispEdges"><path fill="#da2a26" d="M0 0h2v1h-2zM0 1h2v1h-2z"/><path fill="#fa6e4e" d="M2 0h1v1h-1zM22 0h1v1h-1zM2 1h1v1h-1zM22 1h1v1h-1zM0 3h2v1h-2zM0 5h2v1h-2zM5 7h1v1h-1zM11 7h1v1h-1zM13 10h1v1h-1zM17 12h1v1h-1zM20 12h1v1h-1zM16 13h1v1h-1zM13 14h1v1h-1zM20 14h1v1h-1zM16 15h1v1h-1zM8 16h1v1h-1zM9 17h1v1h-1zM16 17h1v1h-1zM20 18h1v1h-1zM12 24h1v1h-1zM11 25h1v1h-1zM9 26h1v1h-1zM12 26h1v1h-1zM14 27h1v1h-1zM7 28h1v1h-1zM7 29h1v1h-1z"/><path fill="#f65a42" d="M3 0h1v1h-1zM3 1h1v1h-1zM10 3h1v1h-1zM0 6h2v1h-2zM19 11h1v1h-1zM16 12h1v1h-1zM11 13h1v1h-1zM19 15h1v1h-1zM0 27h2v1h-2z"/><path fill="#fa7a5a" d="M4 0h1v1h-1zM4 1h1v1h-1zM14 5h1v1h-1zM19 5h1v1h-1zM12 7h1v1h-1zM15 8h1v1h-1zM25 8h1v1h-1zM3 10h1v1h-1zM17 11h1v1h-1zM15 12h1v1h-1zM3 14h1v1h-1zM8 15h1v1h-1zM20 15h1v1h-1zM8 17h1v1h-1zM17 17h1v1h-1zM15 18h1v1h-1zM20 19h1v1h-1zM20 21h1v1h-1zM13 22h1v1h-1zM17 22h1v1h-1zM19 23h1v1h-1zM19 25h1v1h-1zM9 27h1v1h-1zM16 27h1v1h-1zM22 28h1v1h-1zM22 29h1v1h-1z"/><path fill="#e22e26" d="M5 0h1v1h-1zM11 0h1v1h-1zM5 1h1v1h-1zM11 1h1v1h-1zM18 8h1v1h-1zM10 10h1v1h-1zM10 14h1v1h-1zM18 14h1v1h-1zM10 18h1v1h-1zM18 18h1v1h-1zM18 20h1v1h-1zM23 28h1v1h-1zM23 29h1v1h-1z"/><path fill="#fa6246" d="M6 0h1v1h-1zM15 0h1v1h-1zM6 1h1v1h-1zM15 1h1v1h-1zM23 3h1v1h-1zM5 4h1v1h-1zM5 6h1v1h-1zM16 8h1v1h-1zM0 9h2v1h-2zM19 9h1v1h-1zM12 11h1v1h-1zM12 13h1v1h-1zM14 13h1v1h-1zM19 17h1v1h-1zM12 19h1v1h-1zM5 21h1v1h-1zM23 23h1v1h-1zM10 25h1v1h-1zM23 25h1v1h-1zM5 26h1v1h-1zM11 26h1v1h-1zM5 27h1v1h-1zM20 28h1v1h-1zM25 28h1v1h-1zM20 29h1v1h-1zM25 29h1v1h-1z"/><path fill="#fa5e42" d="M7 0h1v1h-1zM7 1h1v1h-1zM5 2h1v1h-1zM11 2h1v1h-1zM10 5h1v1h-1zM11 6h1v1h-1zM23 7h1v1h-1zM14 9h1v1h-1zM0 13h2v1h-2zM12 15h1v1h-1zM14 15h1v1h-1zM0 17h2v1h-2zM14 17h1v1h-1zM16 18h1v1h-1zM19 19h1v1h-1zM12 21h1v1h-1zM14 21h1v1h-1zM12 22h1v1h-1zM5 24h1v1h-1zM8 28h1v1h-1zM8 29h1v1h-1z"/><path fill="#f64e3a" d="M8 0h1v1h-1zM8 1h1v1h-1zM23 6h1v1h-1zM18 7h1v1h-1zM12 10h1v1h-1zM5 14h1v1h-1zM27 17h1v1h-1zM19 18h1v1h-1zM27 19h1v1h-1zM19 20h1v1h-1zM23 26h1v1h-1zM16 28h1v1h-1zM16 29h1v1h-1z"/><path fill="#ee3a2e" d="M9 0h1v1h-1zM9 1h1v1h-1z"/><path fill="#d21e22" d="M10 0h1v1h-1zM10 1h1v1h-1z"/><path fill="#ee3a2a" d="M12 0h1v1h-1zM12 1h1v1h-1zM27 8h1v1h-1zM18 11h1v1h-1zM18 13h1v1h-1zM18 15h1v1h-1zM18 17h1v1h-1zM27 20h1v1h-1zM10 22h1v1h-1z"/><path fill="#f65e42" d="M13 0h1v1h-1zM13 1h1v1h-1zM11 4h1v1h-1zM0 11h2v1h-2zM19 13h1v1h-1zM0 19h2v1h-2zM5 22h1v1h-1zM11 24h1v1h-1z"/><path fill="#e63226" d="M14 0h1v1h-1zM14 1h1v1h-1zM10 12h1v1h-1z"/><path fill="#f23e2e" d="M16 0h1v1h-1zM16 1h1v1h-1zM18 6h1v1h-1zM10 11h1v1h-1zM10 19h1v1h-1zM10 21h1v1h-1z"/><path fill="#f6563e" d="M17 0h1v1h-1zM25 0h1v1h-1zM17 1h1v1h-1zM25 1h1v1h-1zM0 2h2v1h-2zM27 3h1v1h-1zM27 7h1v1h-1zM11 9h1v1h-1zM23 9h1v1h-1zM9 10h1v1h-1zM11 11h1v1h-1zM23 11h1v1h-1zM5 12h1v1h-1zM23 13h1v1h-1zM11 15h1v1h-1zM9 16h1v1h-1zM12 16h1v1h-1zM5 18h1v1h-1zM23 19h1v1h-1zM9 20h1v1h-1zM19 22h1v1h-1zM18 25h1v1h-1zM27 25h1v1h-1z"/><path fill="#ca1a1e" d="M18 0h1v1h-1zM18 1h1v1h-1z"/><path fill="#ea362a" d="M19 0h1v1h-1zM19 1h1v1h-1zM18 9h1v1h-1zM27 10h1v1h-1zM27 14h1v1h-1zM10 16h1v1h-1zM27 18h1v1h-1zM18 19h1v1h-1zM18 21h1v1h-1zM18 22h1v1h-1zM5 28h1v1h-1zM5 29h1v1h-1z"/><path fill="#f6523a" d="M20 0h1v1h-1zM20 1h1v1h-1zM23 2h1v1h-1zM18 3h1v1h-1zM0 4h2v1h-2zM23 4h1v1h-1zM0 8h2v1h-2zM12 8h1v1h-1zM14 8h1v1h-1zM19 8h1v1h-1zM5 10h1v1h-1zM0 12h2v1h-2zM12 12h1v1h-1zM9 14h1v1h-1zM23 15h1v1h-1zM5 16h1v1h-1zM12 18h1v1h-1zM11 19h1v1h-1zM5 20h1v1h-1zM12 20h1v1h-1zM11 21h1v1h-1zM23 21h1v1h-1zM11 22h1v1h-1zM23 22h1v1h-1zM18 23h1v1h-1zM23 24h1v1h-1zM10 27h1v1h-1z"/><path fill="#f65a3e" d="M21 0h1v1h-1zM21 1h1v1h-1zM18 5h1v1h-1zM27 5h1v1h-1zM10 7h1v1h-1zM5 8h1v1h-1zM9 8h1v1h-1zM16 10h1v1h-1zM14 11h1v1h-1zM9 12h1v1h-1zM16 14h1v1h-1zM0 15h2v1h-2zM16 16h1v1h-1zM11 17h1v1h-1zM23 17h1v1h-1zM9 18h1v1h-1zM14 19h1v1h-1zM16 20h1v1h-1zM0 21h2v1h-2zM19 21h1v1h-1zM0 22h2v1h-2zM14 22h1v1h-1zM10 23h1v1h-1zM27 23h1v1h-1zM0 24h2v1h-2zM0 26h2v1h-2zM23 27h1v1h-1z"/><path fill="#d62222" d="M23 0h1v1h-1zM23 1h1v1h-1zM18 28h1v1h-1zM27 28h1v1h-1zM18 29h1v1h-1zM27 29h1v1h-1z"/><path fill="#ff8a6a" d="M24 0h1v1h-1zM24 1h1v1h-1zM3 2h1v1h-1zM7 2h1v1h-1zM3 4h1v1h-1zM21 4h1v1h-1zM7 6h1v1h-1zM15 6h1v1h-1zM21 6h1v1h-1zM15 9h1v1h-1zM6 12h1v1h-1zM15 13h1v1h-1zM2 14h1v1h-1zM6 14h1v1h-1zM3 15h1v1h-1zM6 18h1v1h-1zM3 19h1v1h-1zM7 22h1v1h-1zM15 24h1v1h-1zM3 26h1v1h-1zM7 26h1v1h-1zM21 26h1v1h-1zM25 27h1v1h-1z"/><path fill="#ff9272" d="M26 0h1v1h-1zM26 1h1v1h-1zM6 2h1v1h-1zM15 2h1v1h-1zM17 3h1v1h-1zM20 3h1v1h-1zM25 3h1v1h-1zM6 6h1v1h-1zM8 7h1v1h-1zM13 7h1v1h-1zM17 7h1v1h-1zM20 7h1v1h-1zM2 8h1v1h-1zM7 9h1v1h-1zM22 11h1v1h-1zM2 12h1v1h-1zM7 13h1v1h-1zM22 13h1v1h-1zM2 16h1v1h-1zM7 17h1v1h-1zM2 18h1v1h-1zM2 20h1v1h-1zM7 21h1v1h-1zM6 22h1v1h-1zM8 23h1v1h-1zM17 23h1v1h-1zM17 25h1v1h-1zM25 25h1v1h-1zM6 26h1v1h-1zM3 27h1v1h-1z"/><path fill="#d21e1e" d="M27 0h1v1h-1zM27 1h1v1h-1z"/><path fill="#66020e" d="M28 0h2v1h-2zM28 1h2v1h-2zM28 28h2v1h-2zM28 29h2v1h-2z"/><path fill="#ff9e7e" d="M2 2h1v1h-1zM3 3h1v1h-1zM7 3h1v1h-1zM15 3h1v1h-1zM22 4h1v1h-1zM2 6h1v1h-1zM4 8h1v1h-1zM6 9h1v1h-1zM2 11h1v1h-1zM4 14h1v1h-1zM2 15h1v1h-1zM6 17h1v1h-1zM2 21h1v1h-1zM2 22h1v1h-1zM3 25h1v1h-1z"/><path fill="#ffaa8e" d="M4 2h1v1h-1zM2 3h1v1h-1zM4 4h1v1h-1zM24 8h1v1h-1zM24 10h1v1h-1zM4 11h1v1h-1zM24 12h1v1h-1zM4 15h1v1h-1zM24 20h1v1h-1zM4 21h1v1h-1zM2 23h1v1h-1zM4 24h1v1h-1zM2 25h1v1h-1zM22 25h1v1h-1zM4 26h1v1h-1z"/><path fill="#ff7e5e" d="M8 2h1v1h-1zM12 3h1v1h-1zM8 6h1v1h-1zM9 7h1v1h-1zM13 9h1v1h-1zM17 9h1v1h-1zM21 11h1v1h-1zM13 13h1v1h-1zM17 13h1v1h-1zM22 14h1v1h-1zM16 25h1v1h-1zM20 26h1v1h-1z"/><path fill="#fa7252" d="M9 2h1v1h-1zM5 3h1v1h-1zM11 3h1v1h-1zM9 4h1v1h-1zM16 4h1v1h-1zM5 5h1v1h-1zM9 6h1v1h-1zM16 6h1v1h-1zM19 7h1v1h-1zM8 8h1v1h-1zM13 8h1v1h-1zM17 8h1v1h-1zM20 8h1v1h-1zM16 9h1v1h-1zM15 10h1v1h-1zM21 10h1v1h-1zM25 10h1v1h-1zM13 12h1v1h-1zM21 12h1v1h-1zM21 14h1v1h-1zM25 14h1v1h-1zM21 16h1v1h-1zM13 18h1v1h-1zM21 18h1v1h-1zM25 18h1v1h-1zM13 20h1v1h-1zM25 20h1v1h-1zM8 22h1v1h-1zM5 23h1v1h-1zM11 23h1v1h-1zM9 24h1v1h-1zM5 25h1v1h-1zM14 25h1v1h-1zM16 26h1v1h-1zM12 27h1v1h-1zM6 28h1v1h-1zM6 29h1v1h-1z"/><path fill="#f24636" d="M10 2h1v1h-1zM0 10h2v1h-2zM27 11h1v1h-1zM11 12h1v1h-1zM0 14h2v1h-2zM0 20h2v1h-2zM27 21h1v1h-1zM10 24h1v1h-1zM10 26h1v1h-1zM12 28h1v1h-1zM12 29h1v1h-1z"/><path fill="#fa6a4a" d="M12 2h1v1h-1zM14 2h1v1h-1zM12 4h1v1h-1zM12 6h1v1h-1zM14 6h1v1h-1zM19 6h1v1h-1zM0 7h2v1h-2zM9 9h1v1h-1zM12 9h1v1h-1zM17 10h1v1h-1zM20 10h1v1h-1zM9 11h1v1h-1zM16 11h1v1h-1zM8 12h1v1h-1zM8 14h1v1h-1zM17 14h1v1h-1zM17 16h1v1h-1zM20 16h1v1h-1zM12 17h1v1h-1zM8 18h1v1h-1zM17 18h1v1h-1zM8 20h1v1h-1zM17 20h1v1h-1zM20 20h1v1h-1zM16 21h1v1h-1zM0 23h2v1h-2zM14 24h1v1h-1zM19 24h1v1h-1zM0 25h2v1h-2zM14 26h1v1h-1zM19 27h1v1h-1zM3 28h1v1h-1zM13 28h1v1h-1zM15 28h1v1h-1zM21 28h1v1h-1zM3 29h1v1h-1zM13 29h1v1h-1zM15 29h1v1h-1zM21 29h1v1h-1z"/><path fill="#ff8666" d="M13 2h1v1h-1zM17 2h1v1h-1zM21 2h1v1h-1zM13 4h1v1h-1zM17 4h1v1h-1zM20 4h1v1h-1zM9 5h1v1h-1zM16 5h1v1h-1zM3 6h1v1h-1zM13 6h1v1h-1zM17 6h1v1h-1zM20 6h1v1h-1zM3 8h1v1h-1zM7 8h1v1h-1zM22 8h1v1h-1zM21 9h1v1h-1zM25 9h1v1h-1zM6 10h1v1h-1zM7 12h1v1h-1zM22 12h1v1h-1zM21 13h1v1h-1zM15 15h1v1h-1zM7 16h1v1h-1zM22 16h1v1h-1zM15 17h1v1h-1zM21 17h1v1h-1zM25 17h1v1h-1zM3 18h1v1h-1zM7 18h1v1h-1zM22 18h1v1h-1zM15 19h1v1h-1zM25 19h1v1h-1zM7 20h1v1h-1zM25 21h1v1h-1zM3 22h1v1h-1zM16 23h1v1h-1zM13 24h1v1h-1zM17 24h1v1h-1zM21 24h1v1h-1zM9 25h1v1h-1zM13 26h1v1h-1zM17 26h1v1h-1zM8 27h1v1h-1zM4 28h1v1h-1zM4 29h1v1h-1z"/><path fill="#fa7656" d="M16 2h1v1h-1zM14 3h1v1h-1zM11 5h1v1h-1zM14 7h1v1h-1zM21 8h1v1h-1zM8 11h1v1h-1zM25 12h1v1h-1zM8 13h1v1h-1zM15 14h1v1h-1zM13 16h1v1h-1zM15 16h1v1h-1zM25 16h1v1h-1zM8 19h1v1h-1zM15 20h1v1h-1zM21 20h1v1h-1zM8 21h1v1h-1zM20 22h1v1h-1zM14 23h1v1h-1zM16 24h1v1h-1z"/><path fill="#f24232" d="M18 2h1v1h-1zM27 2h1v1h-1zM10 9h1v1h-1zM23 10h1v1h-1zM23 12h1v1h-1zM11 14h1v1h-1zM23 14h1v1h-1zM11 16h1v1h-1zM23 16h1v1h-1zM23 20h1v1h-1zM27 22h1v1h-1zM18 24h1v1h-1zM27 24h1v1h-1zM27 26h1v1h-1zM19 28h1v1h-1zM19 29h1v1h-1z"/><path fill="#fa664a" d="M19 2h1v1h-1zM9 13h1v1h-1zM9 15h1v1h-1zM9 19h1v1h-1zM16 19h1v1h-1zM9 22h1v1h-1zM19 26h1v1h-1z"/><path fill="#ff8262" d="M20 2h1v1h-1zM25 2h1v1h-1zM16 3h1v1h-1zM25 4h1v1h-1zM12 5h1v1h-1zM25 6h1v1h-1zM16 7h1v1h-1zM20 9h1v1h-1zM7 10h1v1h-1zM22 10h1v1h-1zM15 11h1v1h-1zM25 11h1v1h-1zM25 13h1v1h-1zM7 14h1v1h-1zM21 15h1v1h-1zM25 15h1v1h-1zM3 16h1v1h-1zM21 19h1v1h-1zM3 20h1v1h-1zM22 20h1v1h-1zM15 21h1v1h-1zM21 21h1v1h-1zM25 22h1v1h-1zM9 23h1v1h-1zM8 24h1v1h-1zM20 24h1v1h-1zM12 25h1v1h-1zM8 26h1v1h-1zM25 26h1v1h-1z"/><path fill="#ffa282" d="M22 2h1v1h-1zM7 5h1v1h-1zM2 9h1v1h-1zM2 13h1v1h-1zM2 17h1v1h-1zM4 18h1v1h-1zM4 20h1v1h-1zM7 23h1v1h-1zM15 23h1v1h-1zM2 27h1v1h-1zM22 27h1v1h-1z"/><path fill="#ffb29a" d="M24 2h1v1h-1zM24 6h1v1h-1zM24 22h1v1h-1z"/><path fill="#ffba9e" d="M26 2h1v1h-1zM4 3h1v1h-1zM24 15h1v1h-1zM24 21h1v1h-1zM26 24h1v1h-1zM4 25h1v1h-1zM26 26h1v1h-1z"/><path fill="#860a12" d="M28 2h2v1h-2zM28 4h2v1h-2zM28 24h2v1h-2z"/><path fill="#ffa286" d="M6 3h1v1h-1zM15 5h1v1h-1z"/><path fill="#ff9676" d="M8 3h1v1h-1zM6 4h1v1h-1zM8 5h1v1h-1zM25 5h1v1h-1zM21 7h1v1h-1zM22 9h1v1h-1zM22 17h1v1h-1zM22 19h1v1h-1zM6 21h1v1h-1zM20 23h1v1h-1zM6 24h1v1h-1zM13 25h1v1h-1zM20 25h1v1h-1zM7 27h1v1h-1zM15 27h1v1h-1zM24 28h1v1h-1zM24 29h1v1h-1z"/><path fill="#fa7e5e" d="M9 3h1v1h-1zM19 3h1v1h-1zM8 4h1v1h-1zM8 9h1v1h-1zM13 11h1v1h-1zM20 11h1v1h-1zM3 12h1v1h-1zM20 13h1v1h-1zM13 15h1v1h-1zM17 15h1v1h-1zM13 17h1v1h-1zM20 17h1v1h-1zM13 19h1v1h-1zM17 19h1v1h-1zM13 21h1v1h-1zM17 21h1v1h-1zM15 22h1v1h-1zM21 22h1v1h-1zM12 23h1v1h-1zM25 24h1v1h-1zM2 28h1v1h-1zM2 29h1v1h-1z"/><path fill="#ff9a7a" d="M13 3h1v1h-1zM2 4h1v1h-1zM13 5h1v1h-1zM17 5h1v1h-1zM20 5h1v1h-1zM22 6h1v1h-1zM3 7h1v1h-1zM7 7h1v1h-1zM15 7h1v1h-1zM4 10h1v1h-1zM6 11h1v1h-1zM6 13h1v1h-1zM6 15h1v1h-1zM6 19h1v1h-1zM3 23h1v1h-1zM13 23h1v1h-1zM21 23h1v1h-1zM2 24h1v1h-1zM22 24h1v1h-1zM6 27h1v1h-1zM26 28h1v1h-1zM26 29h1v1h-1z"/><path fill="#ff9a7e" d="M21 3h1v1h-1zM4 12h1v1h-1zM7 25h1v1h-1zM21 25h1v1h-1zM2 26h1v1h-1zM22 26h1v1h-1z"/><path fill="#ffae92" d="M22 3h1v1h-1zM2 5h1v1h-1zM22 5h1v1h-1zM4 9h1v1h-1zM4 13h1v1h-1zM26 14h1v1h-1zM24 16h1v1h-1zM4 17h1v1h-1zM24 18h1v1h-1zM4 19h1v1h-1zM22 23h1v1h-1z"/><path fill="#ffcab2" d="M24 3h1v1h-1zM26 3h1v1h-1zM26 23h1v1h-1z"/><path fill="#9e0e16" d="M28 3h2v1h-2zM28 7h2v1h-2zM28 23h2v1h-2z"/><path fill="#ff8e6e" d="M7 4h1v1h-1zM15 4h1v1h-1zM25 7h1v1h-1zM6 8h1v1h-1zM3 9h1v1h-1zM2 10h1v1h-1zM3 11h1v1h-1zM7 11h1v1h-1zM3 13h1v1h-1zM7 15h1v1h-1zM22 15h1v1h-1zM6 16h1v1h-1zM3 17h1v1h-1zM7 19h1v1h-1zM6 20h1v1h-1zM3 21h1v1h-1zM22 21h1v1h-1zM22 22h1v1h-1zM25 23h1v1h-1zM3 24h1v1h-1zM7 24h1v1h-1zM8 25h1v1h-1zM15 26h1v1h-1zM13 27h1v1h-1zM17 27h1v1h-1zM20 27h2v1h-2z"/><path fill="#f24632" d="M10 4h1v1h-1zM27 4h1v1h-1zM27 6h1v1h-1zM23 8h1v1h-1zM14 10h1v1h-1zM10 13h1v1h-1zM14 14h1v1h-1zM11 18h1v1h-1zM23 18h1v1h-1zM11 20h1v1h-1zM18 27h1v1h-1z"/><path fill="#fa6646" d="M14 4h1v1h-1zM19 4h1v1h-1zM23 5h1v1h-1zM5 9h1v1h-1zM8 10h1v1h-1zM5 11h1v1h-1zM5 13h1v1h-1zM5 15h1v1h-1zM5 17h1v1h-1zM5 19h1v1h-1zM9 21h1v1h-1zM16 22h1v1h-1zM11 27h1v1h-1zM17 28h1v1h-1zM17 29h1v1h-1z"/><path fill="#f2422e" d="M18 4h1v1h-1zM11 10h1v1h-1zM10 17h1v1h-1zM18 26h1v1h-1zM14 28h1v1h-1zM14 29h1v1h-1z"/><path fill="#ffb69a" d="M24 4h1v1h-1zM4 7h1v1h-1zM26 8h1v1h-1zM26 16h1v1h-1zM24 19h1v1h-1zM4 23h1v1h-1zM24 24h1v1h-1z"/><path fill="#ffbaa2" d="M26 4h1v1h-1zM24 9h1v1h-1zM24 11h1v1h-1zM24 13h1v1h-1zM24 27h1v1h-1z"/><path fill="#ff9e82" d="M3 5h1v1h-1zM21 5h1v1h-1zM4 16h1v1h-1zM2 19h1v1h-1zM15 25h1v1h-1z"/><path fill="#ffbea2" d="M4 5h1v1h-1zM26 6h1v1h-1zM26 11h1v1h-1z"/><path fill="#ffa68a" d="M6 5h1v1h-1zM4 6h1v1h-1zM2 7h1v1h-1zM22 7h1v1h-1zM24 14h1v1h-1zM4 22h1v1h-1zM6 23h1v1h-1z"/><path fill="#ffc6b2" d="M24 5h1v1h-1zM26 7h1v1h-1zM24 25h1v1h-1z"/><path fill="#ffceba" d="M26 5h1v1h-1zM26 25h1v1h-1z"/><path fill="#a20e16" d="M28 5h2v1h-2z"/><path fill="#f24e36" d="M10 6h1v1h-1zM11 8h1v1h-1zM27 9h1v1h-1zM27 13h1v1h-1zM12 14h1v1h-1zM27 15h1v1h-1zM0 16h2v1h-2zM19 16h1v1h-1zM14 20h1v1h-1z"/><path fill="#820612" d="M28 6h2v1h-2zM28 22h2v1h-2z"/><path fill="#ffa686" d="M6 7h1v1h-1zM6 25h1v1h-1z"/><path fill="#ffc2aa" d="M24 7h1v1h-1zM26 9h1v1h-1zM26 13h1v1h-1zM26 17h1v1h-1zM26 21h1v1h-1zM24 23h1v1h-1z"/><path fill="#e6322a" d="M10 8h1v1h-1zM10 20h1v1h-1zM0 28h2v1h-2zM0 29h2v1h-2z"/><path fill="#7e0612" d="M28 8h2v1h-2z"/><path fill="#920a12" d="M28 9h2v1h-2zM28 13h2v1h-2zM28 17h2v1h-2z"/><path fill="#de2a26" d="M18 10h1v1h-1zM18 12h1v1h-1zM18 16h1v1h-1zM10 28h1v1h-1zM10 29h1v1h-1z"/><path fill="#f24a36" d="M19 10h1v1h-1zM14 12h1v1h-1zM19 12h1v1h-1zM19 14h1v1h-1zM14 16h1v1h-1zM0 18h2v1h-2zM14 18h1v1h-1zM27 27h1v1h-1zM9 28h1v1h-1zM9 29h1v1h-1z"/><path fill="#ffb296" d="M26 10h1v1h-1zM26 12h1v1h-1zM26 18h1v1h-1zM26 20h1v1h-1zM4 27h1v1h-1z"/><path fill="#72020e" d="M28 10h2v1h-2zM28 18h2v1h-2z"/><path fill="#8a0a12" d="M28 11h2v1h-2zM28 19h2v1h-2zM28 21h2v1h-2zM28 26h2v1h-2z"/><path fill="#ee3e2e" d="M27 12h1v1h-1zM10 15h1v1h-1zM27 16h1v1h-1zM11 28h1v1h-1zM11 29h1v1h-1z"/><path fill="#7a060e" d="M28 12h2v1h-2z"/><path fill="#6e020e" d="M28 14h2v1h-2z"/><path fill="#ffbea6" d="M26 15h1v1h-1zM24 17h1v1h-1zM26 19h1v1h-1zM26 22h1v1h-1z"/><path fill="#8e0a12" d="M28 15h2v1h-2zM28 27h2v1h-2z"/><path fill="#76060e" d="M28 16h2v1h-2z"/><path fill="#76020e" d="M28 20h2v1h-2z"/><path fill="#9a0e16" d="M28 25h2v1h-2z"/><path fill="#ffb69e" d="M24 26h1v1h-1z"/><path fill="#ffc6ae" d="M26 27h1v1h-1z"/></g></g></g>
<rect x="553.3" y="509.3" width="137.6" height="137.7" fill="none" stroke="#200" stroke-opacity=".75" stroke-width=".7"/>
<clipPath id="hc12"><rect x="730.1" y="509.3" width="136.8" height="137.7"/></clipPath><g clip-path="url(#hc12)"><g filter="url(#bl)"><g transform="translate(725.21,504.38) scale(4.8857,4.9179)" shape-rendering="crispEdges"><path fill="#d22222" d="M0 0h2v1h-2zM0 1h2v1h-2z"/><path fill="#e6322a" d="M2 0h28v1h-28zM2 1h28v1h-28z"/><path fill="#fff2ea" d="M0 2h28v1h-28zM0 23h28v1h-28z"/><path fill="#ffe2d6" d="M28 2h2v1h-2z"/><path fill="#ee3a2a" d="M0 3h2v1h-2z"/><path fill="#f6523a" d="M2 3h11v1h-11zM14 3h16v1h-16zM4 8h1v1h-1zM8 8h1v1h-1zM18 9h1v1h-1zM18 20h1v1h-1zM2 24h28v1h-28zM2 25h1v1h-1zM5 25h4v1h-4zM10 25h3v1h-3zM15 25h1v1h-1zM17 25h1v1h-1zM20 25h2v1h-2zM24 25h2v1h-2zM28 25h2v1h-2zM2 26h2v1h-2zM6 26h2v1h-2zM9 26h1v1h-1zM11 26h3v1h-3zM15 26h1v1h-1zM20 26h1v1h-1zM22 26h4v1h-4zM3 27h5v1h-5zM9 27h2v1h-2zM12 27h1v1h-1zM14 27h1v1h-1zM20 27h2v1h-2zM25 27h1v1h-1z"/><path fill="#f65a42" d="M13 3h1v1h-1zM5 4h1v1h-1zM7 4h1v1h-1zM11 4h1v1h-1zM24 4h1v1h-1zM3 5h1v1h-1zM6 5h1v1h-1zM10 5h1v1h-1zM17 5h1v1h-1zM26 5h1v1h-1zM2 6h1v1h-1zM6 6h1v1h-1zM20 6h1v1h-1zM26 6h1v1h-1zM27 7h1v1h-1zM2 8h2v1h-2zM18 8h1v1h-1zM26 8h1v1h-1zM16 9h1v1h-1zM22 9h1v1h-1zM18 10h1v1h-1zM23 10h1v1h-1zM27 10h1v1h-1zM20 11h2v1h-2zM27 11h1v1h-1zM9 12h1v1h-1zM11 12h1v1h-1zM14 12h2v1h-2zM24 12h2v1h-2zM28 12h2v1h-2zM3 13h1v1h-1zM9 13h1v1h-1zM11 13h1v1h-1zM14 13h2v1h-2zM3 14h1v1h-1zM8 14h1v1h-1zM11 14h1v1h-1zM20 14h1v1h-1zM28 14h2v1h-2zM3 15h1v1h-1zM9 15h2v1h-2zM14 15h1v1h-1zM20 15h1v1h-1zM4 16h1v1h-1zM8 16h1v1h-1zM11 16h1v1h-1zM17 16h1v1h-1zM5 17h1v1h-1zM17 17h2v1h-2zM24 17h2v1h-2zM3 18h3v1h-3zM16 18h1v1h-1zM18 18h1v1h-1zM23 18h1v1h-1zM8 19h3v1h-3zM17 19h1v1h-1zM27 19h3v1h-3zM7 20h2v1h-2zM12 20h1v1h-1zM16 20h2v1h-2zM19 20h1v1h-1zM21 20h1v1h-1zM25 20h1v1h-1zM11 21h2v1h-2z"/><path fill="#f24632" d="M0 4h2v1h-2zM0 5h2v1h-2zM0 6h2v1h-2zM0 7h2v1h-2zM0 10h2v1h-2zM0 18h2v1h-2zM0 19h2v1h-2z"/><path fill="#f65e42" d="M2 4h1v1h-1zM16 4h1v1h-1zM20 4h1v1h-1zM25 4h1v1h-1zM2 5h1v1h-1zM12 5h1v1h-1zM14 5h1v1h-1zM19 5h1v1h-1zM25 5h1v1h-1zM3 6h2v1h-2zM8 6h1v1h-1zM19 6h1v1h-1zM21 6h1v1h-1zM8 7h1v1h-1zM10 7h1v1h-1zM15 7h1v1h-1zM6 8h1v1h-1zM11 8h1v1h-1zM15 8h1v1h-1zM23 8h1v1h-1zM5 9h2v1h-2zM15 9h1v1h-1zM20 9h1v1h-1zM25 9h1v1h-1zM2 10h2v1h-2zM6 10h1v1h-1zM8 10h1v1h-1zM11 10h1v1h-1zM16 10h1v1h-1zM19 10h1v1h-1zM4 11h1v1h-1zM6 11h1v1h-1zM11 11h1v1h-1zM17 11h1v1h-1zM19 11h1v1h-1zM24 11h1v1h-1zM5 12h1v1h-1zM10 12h1v1h-1zM17 12h1v1h-1zM20 12h1v1h-1zM2 13h1v1h-1zM8 13h1v1h-1zM10 13h1v1h-1zM19 13h1v1h-1zM22 13h1v1h-1zM28 13h2v1h-2zM4 14h1v1h-1zM7 14h1v1h-1zM9 14h1v1h-1zM19 14h1v1h-1zM21 14h1v1h-1zM27 14h1v1h-1zM21 15h1v1h-1zM23 15h1v1h-1zM2 16h1v1h-1zM12 16h1v1h-1zM15 16h1v1h-1zM18 16h2v1h-2zM23 16h1v1h-1zM26 16h2v1h-2zM4 17h1v1h-1zM10 17h1v1h-1zM14 17h1v1h-1zM19 17h1v1h-1zM21 17h2v1h-2zM14 18h1v1h-1zM27 18h1v1h-1zM3 19h1v1h-1zM5 19h1v1h-1zM15 19h1v1h-1zM18 19h1v1h-1zM22 19h1v1h-1zM25 19h1v1h-1zM3 20h1v1h-1zM5 20h1v1h-1zM10 20h1v1h-1zM28 20h2v1h-2zM5 21h2v1h-2zM16 21h1v1h-1zM27 25h1v1h-1z"/><path fill="#f65a3e" d="M3 4h1v1h-1zM10 4h1v1h-1zM14 4h1v1h-1zM18 4h2v1h-2zM21 4h3v1h-3zM4 5h1v1h-1zM7 5h1v1h-1zM9 5h1v1h-1zM15 5h2v1h-2zM18 5h1v1h-1zM20 5h1v1h-1zM23 5h1v1h-1zM28 5h2v1h-2zM5 6h1v1h-1zM11 6h1v1h-1zM22 6h2v1h-2zM16 7h4v1h-4zM21 7h6v1h-6zM28 7h2v1h-2zM7 8h1v1h-1zM9 8h1v1h-1zM12 8h1v1h-1zM14 8h1v1h-1zM19 8h1v1h-1zM25 8h1v1h-1zM2 9h1v1h-1zM4 9h1v1h-1zM12 9h1v1h-1zM14 9h1v1h-1zM17 9h1v1h-1zM23 9h1v1h-1zM26 9h1v1h-1zM28 9h2v1h-2zM7 10h1v1h-1zM9 10h2v1h-2zM15 10h1v1h-1zM21 10h1v1h-1zM24 10h1v1h-1zM28 10h2v1h-2zM2 11h2v1h-2zM5 11h1v1h-1zM9 11h2v1h-2zM15 11h1v1h-1zM26 11h1v1h-1zM2 12h3v1h-3zM16 12h1v1h-1zM19 12h1v1h-1zM22 12h2v1h-2zM18 13h1v1h-1zM20 13h1v1h-1zM23 13h2v1h-2zM26 13h1v1h-1zM2 14h1v1h-1zM5 14h1v1h-1zM14 14h1v1h-1zM18 14h1v1h-1zM22 14h2v1h-2zM25 14h2v1h-2zM5 15h1v1h-1zM7 15h2v1h-2zM15 15h3v1h-3zM24 15h1v1h-1zM26 15h1v1h-1zM28 15h2v1h-2zM7 16h1v1h-1zM9 16h1v1h-1zM14 16h1v1h-1zM20 16h3v1h-3zM6 17h1v1h-1zM8 17h1v1h-1zM11 17h1v1h-1zM23 17h1v1h-1zM2 18h1v1h-1zM6 18h3v1h-3zM10 18h1v1h-1zM15 18h1v1h-1zM19 18h4v1h-4zM24 18h1v1h-1zM26 18h1v1h-1zM28 18h2v1h-2zM4 19h1v1h-1zM7 19h1v1h-1zM11 19h2v1h-2zM14 19h1v1h-1zM16 19h1v1h-1zM24 19h1v1h-1zM2 20h1v1h-1zM4 20h1v1h-1zM11 20h1v1h-1zM23 20h1v1h-1zM26 20h1v1h-1zM2 21h1v1h-1zM7 21h1v1h-1zM10 21h1v1h-1zM14 21h2v1h-2zM19 21h3v1h-3zM23 21h1v1h-1zM25 21h1v1h-1zM16 25h1v1h-1zM18 26h1v1h-1zM2 27h1v1h-1zM8 27h1v1h-1zM17 27h1v1h-1zM23 27h1v1h-1zM27 27h3v1h-3z"/><path fill="#f6563e" d="M4 4h1v1h-1zM6 4h1v1h-1zM28 4h2v1h-2zM5 5h1v1h-1zM8 5h1v1h-1zM24 5h1v1h-1zM7 6h1v1h-1zM25 6h1v1h-1zM27 6h3v1h-3zM7 7h1v1h-1zM11 7h1v1h-1zM7 9h2v1h-2zM14 10h1v1h-1zM22 10h1v1h-1zM25 10h1v1h-1zM22 11h1v1h-1zM6 12h2v1h-2zM21 12h1v1h-1zM6 13h1v1h-1zM16 14h2v1h-2zM4 15h1v1h-1zM19 15h1v1h-1zM25 15h1v1h-1zM25 16h1v1h-1zM15 17h1v1h-1zM27 17h1v1h-1zM11 18h2v1h-2zM6 19h1v1h-1zM20 19h2v1h-2zM9 20h1v1h-1zM14 20h1v1h-1zM4 21h1v1h-1zM22 21h1v1h-1zM26 21h1v1h-1zM28 21h2v1h-2zM3 25h1v1h-1zM9 25h1v1h-1zM14 25h1v1h-1zM18 25h2v1h-2zM22 25h1v1h-1zM4 26h2v1h-2zM8 26h1v1h-1zM10 26h1v1h-1zM14 26h1v1h-1zM16 26h2v1h-2zM19 26h1v1h-1zM21 26h1v1h-1zM26 26h1v1h-1zM11 27h1v1h-1zM13 27h1v1h-1zM15 27h1v1h-1zM18 27h2v1h-2zM22 27h1v1h-1zM24 27h1v1h-1z"/><path fill="#fa5e42" d="M8 4h2v1h-2zM12 4h1v1h-1zM15 4h1v1h-1zM17 4h1v1h-1zM26 4h2v1h-2zM11 5h1v1h-1zM21 5h2v1h-2zM27 5h1v1h-1zM10 6h1v1h-1zM14 6h1v1h-1zM16 6h2v1h-2zM2 7h5v1h-5zM9 7h1v1h-1zM12 7h1v1h-1zM14 7h1v1h-1zM20 7h1v1h-1zM5 8h1v1h-1zM10 8h1v1h-1zM16 8h1v1h-1zM20 8h1v1h-1zM22 8h1v1h-1zM24 8h1v1h-1zM27 8h3v1h-3zM3 9h1v1h-1zM10 9h1v1h-1zM19 9h1v1h-1zM21 9h1v1h-1zM24 9h1v1h-1zM27 9h1v1h-1zM5 10h1v1h-1zM12 10h1v1h-1zM17 10h1v1h-1zM20 10h1v1h-1zM7 11h2v1h-2zM12 11h1v1h-1zM16 11h1v1h-1zM18 11h1v1h-1zM25 11h1v1h-1zM28 11h2v1h-2zM8 12h1v1h-1zM12 12h1v1h-1zM18 12h1v1h-1zM26 12h2v1h-2zM4 13h1v1h-1zM7 13h1v1h-1zM16 13h2v1h-2zM25 13h1v1h-1zM27 13h1v1h-1zM6 14h1v1h-1zM12 14h1v1h-1zM24 14h1v1h-1zM6 15h1v1h-1zM11 15h2v1h-2zM22 15h1v1h-1zM5 16h2v1h-2zM10 16h1v1h-1zM16 16h1v1h-1zM24 16h1v1h-1zM28 16h2v1h-2zM2 17h1v1h-1zM9 17h1v1h-1zM16 17h1v1h-1zM20 17h1v1h-1zM26 17h1v1h-1zM28 17h2v1h-2zM17 18h1v1h-1zM25 18h1v1h-1zM2 19h1v1h-1zM19 19h1v1h-1zM23 19h1v1h-1zM26 19h1v1h-1zM6 20h1v1h-1zM15 20h1v1h-1zM20 20h1v1h-1zM24 20h1v1h-1zM27 20h1v1h-1zM3 21h1v1h-1zM8 21h2v1h-2zM17 21h2v1h-2zM24 21h1v1h-1zM27 21h1v1h-1z"/><path fill="#fa6246" d="M13 4h1v1h-1zM9 6h1v1h-1zM12 6h1v1h-1zM15 6h1v1h-1zM18 6h1v1h-1zM24 6h1v1h-1zM17 8h1v1h-1zM21 8h1v1h-1zM9 9h1v1h-1zM11 9h1v1h-1zM13 9h1v1h-1zM4 10h1v1h-1zM26 10h1v1h-1zM14 11h1v1h-1zM23 11h1v1h-1zM13 12h1v1h-1zM12 13h1v1h-1zM21 13h1v1h-1zM10 14h1v1h-1zM15 14h1v1h-1zM2 15h1v1h-1zM18 15h1v1h-1zM27 15h1v1h-1zM3 16h1v1h-1zM3 17h1v1h-1zM7 17h1v1h-1zM12 17h1v1h-1zM9 18h1v1h-1zM13 19h1v1h-1zM22 20h1v1h-1zM2 22h28v1h-28z"/><path fill="#fa6646" d="M13 5h1v1h-1zM13 7h1v1h-1zM13 17h1v1h-1zM13 18h1v1h-1z"/><path fill="#fa6a4a" d="M13 6h1v1h-1zM13 8h1v1h-1zM13 13h1v1h-1zM13 14h1v1h-1zM13 15h1v1h-1zM13 16h1v1h-1zM13 21h1v1h-1z"/><path fill="#f24232" d="M0 8h2v1h-2zM0 9h2v1h-2zM0 14h2v1h-2zM0 15h2v1h-2zM0 20h2v1h-2z"/><path fill="#fa664a" d="M13 10h1v1h-1zM13 11h1v1h-1zM5 13h1v1h-1zM13 20h1v1h-1z"/><path fill="#f23e2e" d="M0 11h2v1h-2zM0 17h2v1h-2zM0 24h2v1h-2zM0 25h2v1h-2zM0 27h2v1h-2zM2 28h28v1h-28zM2 29h28v1h-28z"/><path fill="#f24636" d="M0 12h2v1h-2z"/><path fill="#f24a36" d="M0 13h2v1h-2z"/><path fill="#f2422e" d="M0 16h2v1h-2zM0 21h2v1h-2z"/><path fill="#f24e36" d="M0 22h2v1h-2zM26 27h1v1h-1z"/><path fill="#ffe6da" d="M28 23h2v1h-2z"/><path fill="#f64e3a" d="M4 25h1v1h-1zM13 25h1v1h-1zM23 25h1v1h-1zM26 25h1v1h-1zM27 26h3v1h-3zM16 27h1v1h-1z"/><path fill="#ee3e2e" d="M0 26h2v1h-2z"/><path fill="#de2a26" d="M0 28h2v1h-2zM0 29h2v1h-2z"/></g></g></g>
<rect x="730.1" y="509.3" width="136.8" height="137.7" fill="none" stroke="#200" stroke-opacity=".75" stroke-width=".7"/>
<defs><linearGradient id="cb" x1="0" x2="0" y1="0" y2="1"><stop offset="0.000" stop-color="#67000d"/><stop offset="0.125" stop-color="#a30f15"/><stop offset="0.250" stop-color="#ca181d"/><stop offset="0.375" stop-color="#ee3a2c"/><stop offset="0.500" stop-color="#fb694a"/><stop offset="0.625" stop-color="#fc9272"/><stop offset="0.750" stop-color="#fcbba1"/><stop offset="0.875" stop-color="#fee0d2"/><stop offset="1.000" stop-color="#fff5f0"/></linearGradient></defs>
<rect x="346.25" y="339.2" width="7.1" height="136.6" fill="url(#cb)" stroke="#444" stroke-opacity=".8" stroke-width="0.6"/>
<text class="d" x="357.25" y="368.7" font-size="9.15">2.5</text>
<text class="d" x="357.25" y="401.5" font-size="9.15">2.0</text>
<text class="d" x="357.25" y="434.4" font-size="9.15">1.5</text>
<text class="d" x="357.25" y="467.5" font-size="9.15">1.0</text>
<path d="M353.35 365.6h2.6M353.35 398.4h2.6M353.35 431.3h2.6M353.35 464.4h2.6" stroke="#000" stroke-width="0.6" fill="none"/>
<rect x="522.35" y="339.2" width="7.1" height="136.6" fill="url(#cb)" stroke="#444" stroke-opacity=".8" stroke-width="0.6"/>
<text class="d" x="533.35" y="361.6" font-size="9.15">2.5</text>
<text class="d" x="533.35" y="396.8" font-size="9.15">2.0</text>
<text class="d" x="533.35" y="432" font-size="9.15">1.5</text>
<text class="d" x="533.35" y="466.9" font-size="9.15">1.0</text>
<path d="M529.45 358.5h2.6M529.45 393.7h2.6M529.45 428.9h2.6M529.45 463.8h2.6" stroke="#000" stroke-width="0.6" fill="none"/>
<rect x="698.85" y="339.2" width="7.1" height="136.6" fill="url(#cb)" stroke="#444" stroke-opacity=".8" stroke-width="0.6"/>
<text class="d" x="709.85" y="374.9" font-size="9.15">2.5</text>
<text class="d" x="709.85" y="411.5" font-size="9.15">2.0</text>
<text class="d" x="709.85" y="448.4" font-size="9.15">1.5</text>
<path d="M705.95 371.8h2.6M705.95 408.4h2.6M705.95 445.3h2.6" stroke="#000" stroke-width="0.6" fill="none"/>
<rect x="874.95" y="339.2" width="7.1" height="136.6" fill="url(#cb)" stroke="#444" stroke-opacity=".8" stroke-width="0.6"/>
<text class="d" x="885.95" y="370.4" font-size="9.15">1.2</text>
<text class="d" x="885.95" y="406.6" font-size="9.15">1.0</text>
<text class="d" x="885.95" y="442.6" font-size="9.15">0.8</text>
<text class="d" x="885.95" y="478.7" font-size="9.15">0.6</text>
<path d="M882.05 367.3h2.6M882.05 403.5h2.6M882.05 439.5h2.6M882.05 475.6h2.6" stroke="#000" stroke-width="0.6" fill="none"/>
<rect x="341.65" y="509.3" width="7.1" height="137.7" fill="url(#cb)" stroke="#444" stroke-opacity=".8" stroke-width="0.6"/>
<text class="d" x="352.65" y="535.8" font-size="9.15">1.5</text>
<text class="d" x="352.65" y="558.4" font-size="9.15">1.4</text>
<text class="d" x="352.65" y="581" font-size="9.15">1.3</text>
<text class="d" x="352.65" y="603.6" font-size="9.15">1.2</text>
<text class="d" x="352.65" y="626.2" font-size="9.15">1.1</text>
<text class="d" x="352.65" y="648.8" font-size="9.15">1.0</text>
<path d="M348.75 532.7h2.6M348.75 555.3h2.6M348.75 577.9h2.6M348.75 600.5h2.6M348.75 623.1h2.6M348.75 645.7h2.6" stroke="#000" stroke-width="0.6" fill="none"/>
<rect x="518.55" y="509.3" width="7.1" height="137.7" fill="url(#cb)" stroke="#444" stroke-opacity=".8" stroke-width="0.6"/>
<text class="d" x="529.55" y="541.8" font-size="9.15">1.8</text>
<text class="d" x="529.55" y="577.8" font-size="9.15">1.6</text>
<text class="d" x="529.55" y="613.9" font-size="9.15">1.4</text>
<path d="M525.65 538.7h2.6M525.65 574.7h2.6M525.65 610.8h2.6" stroke="#000" stroke-width="0.6" fill="none"/>
<rect x="694.65" y="509.3" width="7.1" height="137.7" fill="url(#cb)" stroke="#444" stroke-opacity=".8" stroke-width="0.6"/>
<text class="d" x="705.65" y="531.1" font-size="9.15">2.6</text>
<text class="d" x="705.65" y="564.9" font-size="9.15">2.4</text>
<text class="d" x="705.65" y="598.5" font-size="9.15">2.2</text>
<text class="d" x="705.65" y="631.8" font-size="9.15">2.0</text>
<path d="M701.75 528h2.6M701.75 561.8h2.6M701.75 595.4h2.6M701.75 628.7h2.6" stroke="#000" stroke-width="0.6" fill="none"/>
<rect x="871.35" y="509.3" width="7.1" height="137.7" fill="url(#cb)" stroke="#444" stroke-opacity=".8" stroke-width="0.6"/>
<text class="d" x="882.35" y="537.2" font-size="9.15">1.0</text>
<text class="d" x="882.35" y="565.7" font-size="9.15">0.5</text>
<text class="d" x="882.35" y="593.3" font-size="9.15">0.0</text>
<text class="d" x="882.35" y="621.2" font-size="9.15">−0.5</text>
<text class="d" x="882.35" y="648.8" font-size="9.15">−1.0</text>
<path d="M878.45 534.1h2.6M878.45 562.6h2.6M878.45 590.2h2.6M878.45 618.1h2.6M878.45 645.7h2.6" stroke="#000" stroke-width="0.6" fill="none"/>
<rect x="236.87" y="366.03" width="78.46" height="78.06" fill="none" stroke="#fff" stroke-width="0.98" stroke-dasharray="3.6 1.6"/>
<rect x="412.87" y="366.03" width="78.46" height="78.06" fill="none" stroke="#fff" stroke-width="0.98" stroke-dasharray="3.6 1.6"/>
<rect x="588.87" y="366.03" width="78.46" height="78.06" fill="none" stroke="#fff" stroke-width="0.98" stroke-dasharray="3.6 1.6"/>
<rect x="764.87" y="366.03" width="78.46" height="78.06" fill="none" stroke="#fff" stroke-width="0.98" stroke-dasharray="3.6 1.6"/>
<rect x="232.14" y="536.35" width="78.63" height="78.69" fill="none" stroke="#fff" stroke-width="0.98" stroke-dasharray="3.6 1.6"/>
<rect x="408.94" y="536.35" width="78.63" height="78.69" fill="none" stroke="#fff" stroke-width="0.98" stroke-dasharray="3.6 1.6"/>
<rect x="585.24" y="536.35" width="78.63" height="78.69" fill="none" stroke="#fff" stroke-width="0.98" stroke-dasharray="3.6 1.6"/>
<rect x="762.04" y="536.35" width="78.63" height="78.69" fill="none" stroke="#fff" stroke-width="0.98" stroke-dasharray="3.6 1.6"/>
<text class="d" x="273.25" y="335.3" font-size="12.9" text-anchor="middle">Layer 0</text>
<text class="d" x="449.25" y="335.3" font-size="12.9" text-anchor="middle">Layer 1</text>
<text class="d" x="625.25" y="335.3" font-size="12.9" text-anchor="middle">Layer 2</text>
<text class="d" x="801.25" y="335.3" font-size="12.9" text-anchor="middle">Layer 3</text>
<text class="d" x="268.8" y="506.3" font-size="12.9" text-anchor="middle">Layer 0</text>
<text class="d" x="445.6" y="506.3" font-size="12.9" text-anchor="middle">Layer 1</text>
<text class="d" x="621.9" y="506.3" font-size="12.9" text-anchor="middle">Layer 2</text>
<text class="d" x="798.7" y="506.3" font-size="12.9" text-anchor="middle">Layer 3</text>
<text class="d" transform="translate(930.9,410.5) rotate(-90) scale(1,1.1)" font-size="22" text-anchor="middle">log<tspan font-size="15.4" dy="3.6">10</tspan><tspan dy="-3.6"> (</tspan><tspan font-style="italic">dv</tspan>)</text>
<text class="d" transform="translate(930.9,575.8) rotate(-90) scale(1,1.1)" font-size="22" text-anchor="middle">log<tspan font-size="15.4" dy="3.6">10</tspan><tspan dy="-3.6"> (</tspan><tspan font-style="italic">dv</tspan>)</text>
<text class="a" x="947.5" y="335" font-size="20">(e)</text>
<rect x="1009.8" y="343.8" width="271.2" height="271.1" fill="#fff" stroke="#000" stroke-width="0.95"/>
<text class="d" x="1009.8" y="632.3" font-size="12.4" text-anchor="middle">−6</text>
<text class="d" x="1001" y="619.6" font-size="12.4" text-anchor="end">−6</text>
<text class="d" x="1064.04" y="632.3" font-size="12.4" text-anchor="middle">−5</text>
<text class="d" x="1001" y="565.36" font-size="12.4" text-anchor="end">−5</text>
<text class="d" x="1118.28" y="632.3" font-size="12.4" text-anchor="middle">−4</text>
<text class="d" x="1001" y="511.12" font-size="12.4" text-anchor="end">−4</text>
<text class="d" x="1172.52" y="632.3" font-size="12.4" text-anchor="middle">−3</text>
<text class="d" x="1001" y="456.88" font-size="12.4" text-anchor="end">−3</text>
<text class="d" x="1226.76" y="632.3" font-size="12.4" text-anchor="middle">−2</text>
<text class="d" x="1001" y="402.64" font-size="12.4" text-anchor="end">−2</text>
<text class="d" x="1281" y="632.3" font-size="12.4" text-anchor="middle">−1</text>
<text class="d" x="1001" y="348.4" font-size="12.4" text-anchor="end">−1</text>
<path d="M1009.8 614.9v4.8M1009.8 614.9h-4.8M1064.04 614.9v4.8M1009.8 560.66h-4.8M1118.28 614.9v4.8M1009.8 506.42h-4.8M1172.52 614.9v4.8M1009.8 452.18h-4.8M1226.76 614.9v4.8M1009.8 397.94h-4.8M1281 614.9v4.8M1009.8 343.7h-4.8" stroke="#000" stroke-width="0.95" fill="none"/>
<text class="d" x="1145.4" y="648.6" font-size="12.2" text-anchor="middle">Log10(ID MSE Loss)</text>
<text class="d" transform="translate(976.6,479.35) rotate(-90)" font-size="12.2" text-anchor="middle">Log10(OOD MSE Loss)</text>
<path d="M1009.8 614.9L1281.0 343.8" stroke="#000" stroke-width="1.5" stroke-dasharray="5.3 2.4" fill="none"/>
<clipPath id="axc"><rect x="1009.8" y="343.8" width="271.2" height="271.1"/></clipPath>
<g clip-path="url(#axc)">
<circle cx="1012.9" cy="389.2" r="4.15" fill="#1f77b4" fill-opacity="0.3"/>
<circle cx="1016.3" cy="394.9" r="4.15" fill="#1f77b4" fill-opacity="0.3"/>
<circle cx="1049.9" cy="399.5" r="4.15" fill="#1f77b4" fill-opacity="0.3"/>
<circle cx="1031.5" cy="410.9" r="4.15" fill="#1f77b4" fill-opacity="0.3"/>
<circle cx="1040.8" cy="409.9" r="4.15" fill="#1f77b4" fill-opacity="0.3"/>
<circle cx="1012.4" cy="388.4" r="4.15" fill="#ff7f0e" fill-opacity="0.3"/>
<circle cx="1031.8" cy="403.9" r="4.15" fill="#ff7f0e" fill-opacity="0.3"/>
<circle cx="1050.4" cy="404.7" r="4.15" fill="#ff7f0e" fill-opacity="0.3"/>
<circle cx="1050.9" cy="422.5" r="4.15" fill="#ff7f0e" fill-opacity="0.3"/>
<circle cx="1056.1" cy="423.3" r="4.15" fill="#ff7f0e" fill-opacity="0.3"/>
<circle cx="1053.5" cy="425.4" r="4.15" fill="#ff7f0e" fill-opacity="0.3"/>
<circle cx="1039.3" cy="432.3" r="4.15" fill="#ff7f0e" fill-opacity="0.3"/>
<circle cx="1093.8" cy="441.9" r="4.15" fill="#ff7f0e" fill-opacity="0.3"/>
<circle cx="1008.5" cy="420.7" r="4.15" fill="#ff7f0e" fill-opacity="0.3"/>
<circle cx="1073.1" cy="461.3" r="4.15" fill="#d62728" fill-opacity="0.3"/>
<circle cx="1091.7" cy="461.9" r="4.15" fill="#d62728" fill-opacity="0.3"/>
<circle cx="1134.8" cy="443.6" r="4.15" fill="#d62728" fill-opacity="0.3"/>
<circle cx="1094.8" cy="498.3" r="4.15" fill="#d62728" fill-opacity="0.3"/>
<circle cx="1102" cy="511.2" r="4.15" fill="#d62728" fill-opacity="0.3"/>
<circle cx="1089.1" cy="516.8" r="4.15" fill="#d62728" fill-opacity="0.3"/>
<circle cx="1072.3" cy="547.8" r="4.15" fill="#d62728" fill-opacity="0.3"/>
<circle cx="1069.2" cy="559.5" r="4.15" fill="#d62728" fill-opacity="0.3"/>
<circle cx="1058.9" cy="570.3" r="4.15" fill="#d62728" fill-opacity="0.3"/>
<circle cx="1055" cy="578.8" r="4.15" fill="#d62728" fill-opacity="0.3"/>
<circle cx="1123.3" cy="445.9" r="4.15" fill="#2ca02c" fill-opacity="0.3"/>
<circle cx="1168.4" cy="445.1" r="4.15" fill="#2ca02c" fill-opacity="0.3"/>
<circle cx="1136.4" cy="464.7" r="4.15" fill="#2ca02c" fill-opacity="0.3"/>
<circle cx="1125.3" cy="482.6" r="4.15" fill="#2ca02c" fill-opacity="0.3"/>
<circle cx="1117.5" cy="483.9" r="4.15" fill="#2ca02c" fill-opacity="0.3"/>
<circle cx="1096.1" cy="507" r="4.15" fill="#2ca02c" fill-opacity="0.3"/>
<circle cx="1109.2" cy="509.6" r="4.15" fill="#2ca02c" fill-opacity="0.3"/>
<circle cx="1097.6" cy="523.8" r="4.15" fill="#2ca02c" fill-opacity="0.3"/>
<circle cx="1090.4" cy="531.6" r="4.15" fill="#2ca02c" fill-opacity="0.3"/>
<path d="M1002 387.7H1037.5M1022 363.9V410.9M1002 385.1v5.2M1037.5 385.1v5.2M1019.4 363.9h5.2M1019.4 410.9h5.2" stroke="#1f77b4" stroke-width="1.6" fill="none"/>
<path d="M1015.5 415.6H1065.9M1040.8 398.8V431.8M1015.5 413v5.2M1065.9 413v5.2M1038.2 398.8h5.2M1038.2 431.8h5.2" stroke="#ff7f0e" stroke-width="1.6" fill="none"/>
<path d="M1096.8 487.9H1140.2M1118.8 459.5V516.3M1096.8 485.3v5.2M1140.2 485.3v5.2M1116.2 459.5h5.2M1116.2 516.3h5.2" stroke="#2ca02c" stroke-width="1.6" fill="none"/>
<path d="M1061.2 515H1106.4M1083.9 468.6V561.3M1061.2 512.4v5.2M1106.4 512.4v5.2M1081.3 468.6h5.2M1081.3 561.3h5.2" stroke="#d62728" stroke-width="1.6" fill="none"/>
</g>
<rect x="1145.7" y="533.1" width="128.6" height="75.3" rx="2.5" fill="#fff" fill-opacity="0.8" stroke="#ccc" stroke-width="1"/>
<path d="M1150.1 543.1H1175.8M1163 536.9V549.3M1156.6 540.5v5.2M1169.4 540.5v5.2M1160.4 536.9h5.2M1160.4 549.3h5.2" stroke="#1f77b4" stroke-width="1.6" fill="none"/>
<text class="d" x="1185.3" y="547.6" font-size="12.4">No Reg</text>
<path d="M1150.1 561H1175.8M1163 554.8V567.2M1156.6 558.4v5.2M1169.4 558.4v5.2M1160.4 554.8h5.2M1160.4 567.2h5.2" stroke="#ff7f0e" stroke-width="1.6" fill="none"/>
<text class="d" x="1185.3" y="565.5" font-size="12.4">Entropy Only</text>
<path d="M1150.1 578.9H1175.8M1163 572.7V585.1M1156.6 576.3v5.2M1169.4 576.3v5.2M1160.4 572.7h5.2M1160.4 585.1h5.2" stroke="#2ca02c" stroke-width="1.6" fill="none"/>
<text class="d" x="1185.3" y="583.4" font-size="12.4">Variance Only</text>
<path d="M1150.1 596.8H1175.8M1163 590.6V603M1156.6 594.2v5.2M1169.4 594.2v5.2M1160.4 590.6h5.2M1160.4 603h5.2" stroke="#d62728" stroke-width="1.6" fill="none"/>
<text class="d" x="1185.3" y="601.3" font-size="12.4">Entropy+Var</text>
</svg></body></html>
